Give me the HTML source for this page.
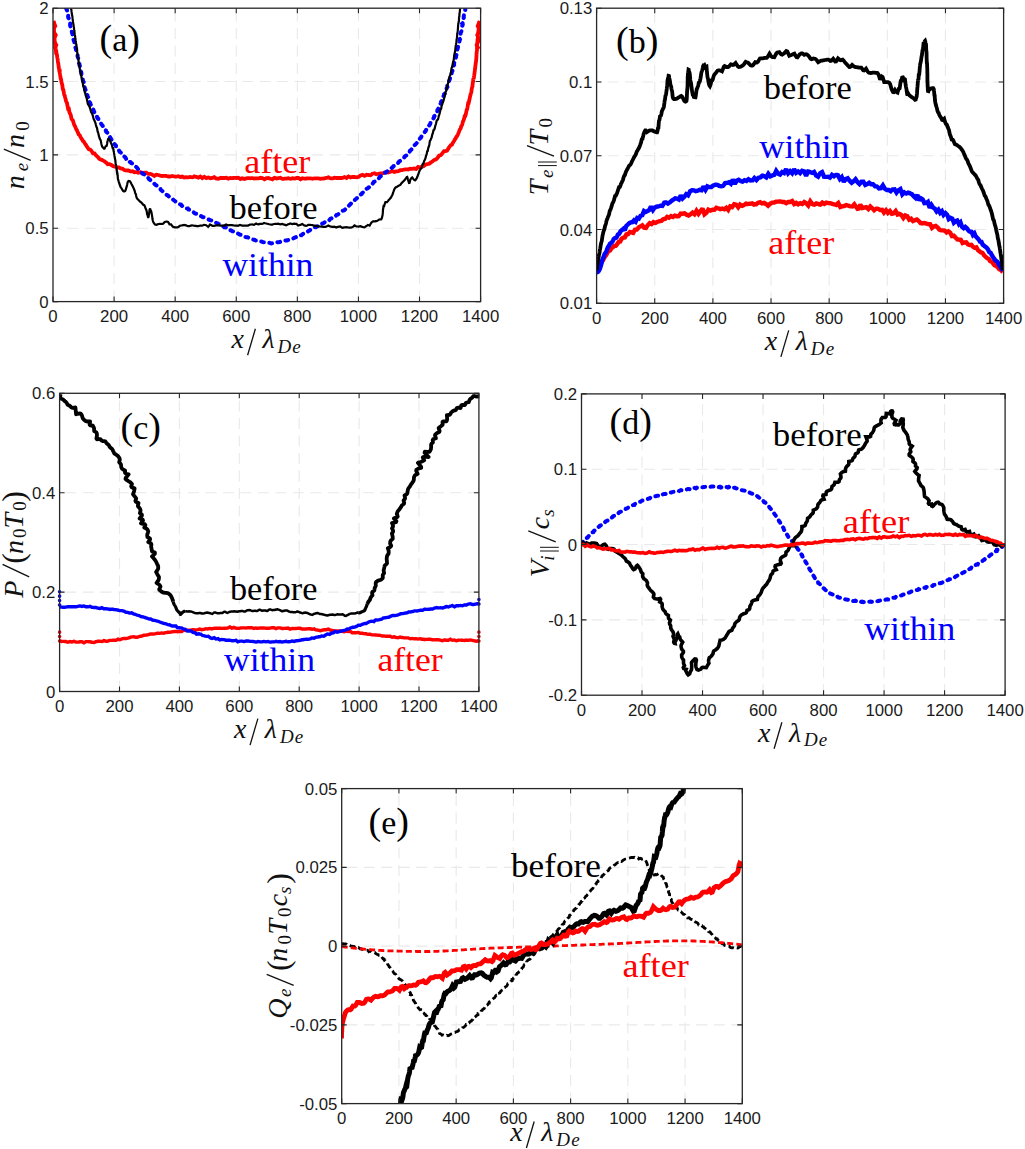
<!DOCTYPE html>
<html><head><meta charset="utf-8"><style>
html,body{margin:0;padding:0;background:#fff;}
body{width:1025px;height:1149px;overflow:hidden;}
svg{display:block;}
.tk{font-family:"Liberation Sans",sans-serif;font-size:16.8px;fill:#1a1a1a;}
.an{font-family:"Liberation Serif",serif;font-size:34px;}
.ax{font-family:"Liberation Serif",serif;font-size:27px;fill:#1a1a1a;}
.lab text{font-family:"Liberation Serif",serif;}
</style></head><body>
<svg width="1025" height="1149" viewBox="0 0 1025 1149">
<defs><clipPath id="clipa"><rect x="53.00" y="8.20" width="427.60" height="293.40"/></clipPath><clipPath id="clipb"><rect x="596.60" y="8.20" width="407.00" height="295.10"/></clipPath><clipPath id="clipc"><rect x="59.60" y="393.30" width="419.30" height="298.20"/></clipPath><clipPath id="clipd"><rect x="581.50" y="393.90" width="423.60" height="301.30"/></clipPath><clipPath id="clipe"><rect x="341.70" y="788.60" width="400.60" height="315.00"/></clipPath></defs>
<path d="M114.09 301.60V8.20M175.17 301.60V8.20M236.26 301.60V8.20M297.34 301.60V8.20M358.43 301.60V8.20M419.51 301.60V8.20M480.60 228.25H53.00M480.60 154.90H53.00M480.60 81.55H53.00" stroke="#e9e9e9" stroke-width="1.1" stroke-dasharray="11 6.5" fill="none"/>
<path d="M654.74 303.30V8.20M712.89 303.30V8.20M771.03 303.30V8.20M829.17 303.30V8.20M887.31 303.30V8.20M945.46 303.30V8.20M1003.60 229.53H596.60M1003.60 155.75H596.60M1003.60 81.97H596.60" stroke="#e9e9e9" stroke-width="1.1" stroke-dasharray="11 6.5" fill="none"/>
<path d="M119.50 691.50V393.30M179.40 691.50V393.30M239.30 691.50V393.30M299.20 691.50V393.30M359.10 691.50V393.30M419.00 691.50V393.30M478.90 592.10H59.60M478.90 492.70H59.60" stroke="#e9e9e9" stroke-width="1.1" stroke-dasharray="11 6.5" fill="none"/>
<path d="M642.01 695.20V393.90M702.53 695.20V393.90M763.04 695.20V393.90M823.56 695.20V393.90M884.07 695.20V393.90M944.59 695.20V393.90M1005.10 619.88H581.50M1005.10 544.55H581.50M1005.10 469.23H581.50" stroke="#e9e9e9" stroke-width="1.1" stroke-dasharray="11 6.5" fill="none"/>
<path d="M398.93 1103.60V788.60M456.16 1103.60V788.60M513.39 1103.60V788.60M570.61 1103.60V788.60M627.84 1103.60V788.60M685.07 1103.60V788.60M742.30 1024.85H341.70M742.30 946.10H341.70M742.30 867.35H341.70" stroke="#e9e9e9" stroke-width="1.1" stroke-dasharray="11 6.5" fill="none"/>
<g clip-path="url(#clipa)">
<path d="M53.6 21.0L53.6 22.2L53.6 23.4L53.6 24.0L53.7 24.7L53.7 25.3L53.7 26.0L53.8 27.2L53.8 28.5L53.9 29.2L54.0 29.9L54.0 31.5L54.1 33.1L54.2 34.8L54.2 36.5L54.3 36.5L54.4 36.5L54.4 37.4L54.5 38.3L54.6 39.9L54.7 41.6L54.8 42.5L54.9 43.4L55.0 44.2L55.2 45.1L55.3 45.5L55.4 46.0L55.6 47.5L55.7 48.9L55.9 50.3L56.0 51.7L56.2 51.6L56.3 51.6L56.5 53.0L56.7 54.4L56.8 54.7L57.0 55.0L57.1 56.3L57.3 57.6L57.5 58.4L57.7 59.1L57.8 60.9L58.0 62.6L58.2 63.1L58.3 63.6L58.5 65.3L58.7 67.0L58.8 67.9L59.0 68.9L59.2 69.7L59.3 70.6L59.5 70.6L59.7 70.6L59.8 72.4L60.0 74.2L60.2 75.4L60.4 76.6L60.5 77.6L60.7 78.7L60.9 79.0L61.1 79.4L61.3 80.8L61.5 82.2L61.7 82.9L61.9 83.7L62.2 84.8L62.4 85.8L62.6 87.5L62.8 89.2L63.1 89.5L63.3 89.7L63.5 91.0L63.8 92.3L64.0 93.6L64.3 94.9L64.5 95.3L64.8 95.8L65.0 96.9L65.3 98.0L65.6 99.1L65.8 100.1L66.1 101.1L66.4 102.0L66.7 102.5L67.0 103.0L67.2 104.5L67.5 105.9L67.8 107.3L68.1 108.7L68.5 108.6L68.8 108.6L69.1 110.4L69.4 112.1L69.7 112.8L70.0 113.5L70.4 114.2L70.7 114.9L71.1 116.7L71.4 118.5L71.7 119.0L72.1 119.6L72.5 119.9L72.8 120.2L73.2 121.6L73.6 122.9L74.0 124.0L74.3 125.0L74.7 125.7L75.1 126.4L75.6 127.6L76.0 128.7L76.4 129.4L76.9 130.1L77.3 131.2L77.8 132.3L78.2 133.4L78.7 134.5L79.2 134.8L79.7 135.2L80.2 136.3L80.7 137.4L81.2 138.1L81.7 138.8L82.3 139.8L82.8 140.8L83.3 141.3L83.9 141.8L84.5 142.7L85.1 143.7L85.7 144.6L86.3 145.5L86.9 146.5L87.5 147.5L88.1 148.3L88.8 149.2L89.5 149.3L90.1 149.4L90.9 150.3L91.6 151.1L92.3 152.2L93.0 153.3L93.8 153.3L94.5 153.3L95.3 154.4L96.1 155.4L96.9 156.2L97.7 156.9L98.5 157.8L99.2 158.8L100.1 159.2L100.9 159.6L101.7 159.9L102.5 160.2L103.3 160.7L104.2 161.2L105.1 161.8L105.9 162.3L106.8 163.2L107.7 164.2L108.6 164.1L109.5 164.1L110.4 164.6L111.4 165.0L112.3 165.6L113.2 166.2L114.1 166.4L115.1 166.6L116.0 167.0L116.9 167.3L117.9 167.3L118.8 167.4L119.8 168.0L120.7 168.5L121.7 168.7L122.7 168.9L123.6 169.5L124.6 170.2L125.6 170.3L126.6 170.4L127.5 170.5L128.5 170.5L129.5 170.9L130.5 171.3L131.5 171.3L132.5 171.2L133.5 171.8L134.5 172.3L135.4 172.2L136.4 172.2L137.4 172.5L138.4 172.8L139.4 172.5L140.4 172.2L141.3 172.8L142.3 173.3L143.3 173.0L144.3 172.6L145.3 172.7L146.3 172.7L147.3 173.3L148.3 173.9L149.3 173.9L150.3 173.9L151.3 174.3L152.3 174.7L153.3 175.3L154.3 176.0L155.3 175.3L156.3 174.7L157.2 174.8L158.2 175.0L159.2 175.3L160.2 175.6L161.2 175.8L162.2 176.0L163.2 175.9L164.2 175.8L165.2 175.9L166.2 175.9L167.2 176.2L168.2 176.5L169.2 176.5L170.2 176.6L171.2 176.2L172.2 175.9L173.2 176.2L174.2 176.5L175.2 176.6L176.2 176.7L177.2 176.5L178.2 176.2L179.2 176.6L180.2 177.0L181.2 176.8L182.2 176.5L183.2 177.0L184.2 177.5L185.2 177.4L186.2 177.2L187.2 177.3L188.2 177.3L189.2 177.1L190.2 177.0L191.2 177.2L192.3 177.3L193.3 176.9L194.3 176.4L195.3 176.7L196.3 176.9L197.3 177.3L198.3 177.7L199.3 177.1L200.3 176.5L201.3 177.3L202.3 178.1L203.3 177.5L204.3 176.8L205.3 177.5L206.3 178.1L207.3 177.7L208.3 177.4L209.3 177.8L210.3 178.2L211.3 178.1L212.3 177.9L213.3 177.5L214.3 177.1L215.3 177.9L216.3 178.6L217.3 178.6L218.3 178.7L219.3 178.4L220.3 178.0L221.3 178.0L222.3 177.9L223.3 178.0L224.3 178.0L225.3 177.8L226.3 177.7L227.3 178.2L228.3 178.7L229.3 178.3L230.3 177.9L231.3 178.1L232.3 178.2L233.3 178.0L234.3 177.9L235.3 177.9L236.3 178.0L237.3 177.8L238.3 177.7L239.3 178.3L240.3 179.0L241.3 178.6L242.3 178.3L243.3 178.6L244.4 178.9L245.4 178.6L246.4 178.4L247.4 178.2L248.4 178.1L249.4 178.2L250.4 178.3L251.4 178.2L252.4 178.2L253.4 178.3L254.4 178.5L255.4 178.4L256.4 178.3L257.4 178.3L258.4 178.3L259.4 178.1L260.4 177.8L261.4 178.0L262.4 178.1L263.4 178.7L264.4 179.3L265.4 178.8L266.4 178.2L267.4 178.1L268.4 178.0L269.4 178.4L270.4 178.7L271.4 179.0L272.4 179.3L273.4 178.5L274.4 177.8L275.4 178.1L276.4 178.5L277.4 178.4L278.4 178.2L279.4 178.0L280.4 177.7L281.4 178.3L282.4 178.9L283.4 178.8L284.4 178.6L285.4 178.6L286.4 178.6L287.4 178.4L288.4 178.2L289.4 178.5L290.4 178.8L291.4 178.6L292.5 178.3L293.5 178.4L294.5 178.5L295.5 178.3L296.5 178.0L297.5 178.0L298.5 178.0L299.5 178.6L300.5 179.3L301.5 178.8L302.5 178.3L303.5 178.5L304.5 178.7L305.5 178.6L306.5 178.5L307.5 178.4L308.5 178.3L309.5 178.3L310.5 178.3L311.5 178.5L312.5 178.8L313.5 178.5L314.5 178.3L315.5 178.3L316.5 178.3L317.5 178.3L318.5 178.4L319.5 178.6L320.5 178.9L321.5 178.7L322.5 178.6L323.5 178.5L324.5 178.4L325.5 178.1L326.5 177.8L327.5 177.6L328.5 177.3L329.5 177.9L330.5 178.4L331.5 178.4L332.5 178.4L333.5 178.1L334.5 177.7L335.5 177.9L336.5 178.0L337.5 178.0L338.5 178.0L339.5 178.0L340.5 178.0L341.5 178.0L342.5 177.9L343.5 177.5L344.5 177.1L345.5 177.6L346.5 178.0L347.5 177.2L348.5 176.5L349.5 176.9L350.5 177.4L351.5 177.2L352.5 177.0L353.5 177.0L354.5 177.0L355.5 177.2L356.5 177.3L357.5 177.1L358.5 176.9L359.5 176.2L360.5 175.4L361.5 175.2L362.5 174.9L363.5 175.4L364.5 175.9L365.5 175.4L366.5 174.8L367.5 174.9L368.5 175.0L369.5 175.1L370.5 175.2L371.5 174.5L372.5 173.7L373.5 173.5L374.5 173.3L375.4 173.7L376.4 174.2L377.4 174.0L378.4 173.8L379.4 173.6L380.4 173.4L381.4 173.4L382.4 173.3L383.4 173.0L384.4 172.6L385.4 172.3L386.4 172.1L387.4 172.3L388.4 172.5L389.4 172.1L390.4 171.8L391.3 171.5L392.3 171.1L393.3 171.5L394.3 171.9L395.3 171.6L396.3 171.3L397.3 171.3L398.3 171.2L399.3 170.7L400.3 170.2L401.2 170.1L402.2 170.1L403.2 169.8L404.2 169.5L405.2 169.4L406.2 169.3L407.2 169.4L408.2 169.5L409.2 169.1L410.2 168.7L411.2 168.8L412.2 168.9L413.2 168.7L414.2 168.5L415.2 168.8L416.2 169.0L417.2 167.9L418.2 166.9L419.1 167.2L420.1 167.5L421.0 167.0L422.0 166.5L422.9 166.3L423.8 166.0L424.7 165.3L425.6 164.6L426.5 164.4L427.4 164.2L428.3 164.0L429.2 163.8L430.1 163.1L430.9 162.3L431.8 161.8L432.6 161.3L433.5 160.6L434.3 159.9L435.1 159.7L435.9 159.5L436.8 158.6L437.6 157.8L438.4 156.6L439.2 155.5L440.0 155.3L440.9 155.0L441.7 154.1L442.5 153.1L443.2 152.1L444.0 151.2L444.8 151.2L445.5 151.2L446.2 151.0L447.0 150.7L447.6 149.7L448.3 148.7L448.9 147.6L449.6 146.6L450.2 145.9L450.8 145.1L451.4 144.9L452.0 144.6L452.5 143.5L453.1 142.4L453.7 141.5L454.2 140.7L454.7 139.8L455.3 138.9L455.8 138.0L456.3 137.1L456.8 136.4L457.2 135.7L457.7 134.8L458.2 133.8L458.6 132.8L459.0 131.9L459.4 130.6L459.9 129.4L460.3 128.9L460.6 128.4L461.0 127.1L461.4 125.9L461.8 125.4L462.1 125.0L462.5 123.4L462.8 121.8L463.1 121.1L463.5 120.5L463.8 119.6L464.1 118.7L464.4 117.3L464.7 116.0L465.0 115.9L465.3 115.9L465.6 114.9L465.9 113.8L466.2 112.3L466.5 110.7L466.7 110.1L467.0 109.6L467.3 108.5L467.5 107.4L467.8 105.5L468.1 103.5L468.3 103.5L468.6 103.4L468.8 102.4L469.1 101.3L469.3 100.4L469.5 99.4L469.8 98.0L470.0 96.7L470.2 96.0L470.4 95.3L470.6 94.3L470.9 93.4L471.1 92.9L471.3 92.4L471.5 91.1L471.6 89.8L471.8 88.7L472.0 87.6L472.2 87.2L472.4 86.8L472.6 85.0L472.7 83.2L472.9 82.3L473.1 81.4L473.2 79.9L473.4 78.3L473.6 78.6L473.7 78.9L473.9 77.7L474.0 76.5L474.2 75.5L474.3 74.5L474.5 73.4L474.6 72.3L474.8 71.1L474.9 69.9L475.0 68.9L475.2 68.0L475.3 66.8L475.4 65.6L475.6 64.6L475.7 63.7L475.8 62.8L475.9 61.9L476.0 61.5L476.1 61.2L476.2 59.8L476.3 58.4L476.4 57.1L476.5 55.8L476.5 54.6L476.6 53.3L476.7 52.3L476.8 51.3L476.8 51.3L476.9 51.4L477.0 49.9L477.0 48.3L477.1 47.1L477.2 45.9L477.2 44.7L477.3 43.5L477.4 42.1L477.5 40.7L477.5 40.2L477.6 39.8L477.7 39.2L477.8 38.7L477.9 37.1L477.9 35.4L478.0 34.5L478.1 33.6L478.2 32.6L478.3 31.6L478.4 30.8L478.6 30.0L478.7 28.1L478.8 26.1L478.9 25.9L479.1 25.7L479.3 24.3L479.5 23.0L479.8 23.0L480.0 23.1" fill="none" stroke="#ff0000" stroke-width="3.80" stroke-linejoin="miter" stroke-miterlimit="2" stroke-linecap="butt"/>
<path d="M53.5 21L55.5 26L53 30L56 35L53.5 40L56.5 45L54 49" fill="none" stroke="#ff0000" stroke-width="3.4"/>
<path d="M479.5 21L477.5 26L480 30L477 35L479.5 40L476.5 45L479 49" fill="none" stroke="#ff0000" stroke-width="3.4"/>
<path d="M63.9 0.0L64.0 1.0L64.6 1.9L64.9 2.9L65.0 3.9L65.4 4.8L65.8 5.7L65.8 6.8L65.7 7.8L66.4 8.7L66.7 9.7L67.1 10.6L67.1 11.6L67.6 12.5L67.8 13.5L67.6 14.6L68.2 15.5L68.1 16.5L68.2 17.5L68.7 18.4L68.9 19.4L68.9 20.5L69.5 21.3L69.8 22.3L70.2 23.2L70.1 24.3L70.1 25.3L70.4 26.3L71.0 27.2L71.2 28.1L71.4 29.1L71.4 30.1L71.7 31.1L71.9 32.1L72.1 33.1L72.4 34.0L72.6 35.0L72.8 36.0L73.0 37.0L73.1 38.0L73.1 39.0L73.6 39.9L73.9 40.9L74.5 41.8L74.3 42.8L75.0 43.7L75.1 44.7L74.9 45.8L75.1 46.8L75.5 47.7L76.1 48.6L76.0 49.6L76.3 50.6L76.3 51.6L76.2 52.7L76.8 53.6L77.3 54.5L77.6 55.4L77.6 56.5L77.9 57.4L78.3 58.4L78.3 59.4L78.7 60.3L78.5 61.4L78.8 62.4L79.0 63.4L79.5 64.3L79.5 65.3L79.9 66.3L80.1 67.3L80.4 68.3L80.8 69.2L81.0 70.2L80.8 71.3L81.2 72.2L81.4 73.2L81.4 74.2L82.2 75.1L82.2 76.1L82.3 77.2L82.5 78.2L82.8 79.1L82.8 80.1L83.2 81.1L83.7 82.0L83.9 83.0L83.8 84.0L84.1 85.0L84.8 85.8L84.5 87.0L84.9 87.9L85.0 88.9L85.6 89.8L85.9 90.7L86.3 91.6L85.9 92.8L86.7 93.6L86.6 94.6L87.4 95.4L87.5 96.4L88.2 97.2L88.3 98.2L88.3 99.3L89.1 100.0L89.0 101.1L89.5 102.0L90.1 102.8L90.4 103.7L90.8 104.6L91.1 105.6L91.6 106.4L92.1 107.3L92.4 108.2L93.0 109.1L93.5 109.9L93.7 110.9L94.0 111.9L94.9 112.6L95.1 113.6L95.7 114.4L96.3 115.2L96.5 116.3L97.2 117.0L97.4 118.1L98.3 118.8L98.6 119.7L99.3 120.5L99.9 121.3L100.2 122.4L100.9 123.1L101.3 124.1L101.9 124.9L102.6 125.6L103.0 126.6L103.5 127.4L103.9 128.4L104.8 129.0L105.2 130.0L106.0 130.6L106.2 131.7L107.0 132.4L107.7 133.2L107.9 134.2L108.3 135.2L109.3 135.7L109.7 136.6L110.2 137.5L110.8 138.3L111.1 139.3L111.9 140.0L112.4 140.9L112.7 141.9L113.5 142.5L113.9 143.5L114.7 144.2L115.3 145.0L116.0 145.8L115.9 147.0L116.9 147.6L117.4 148.5L118.0 149.2L118.6 150.1L119.2 150.8L119.6 151.8L120.6 152.3L121.3 153.0L121.9 153.8L122.6 154.5L122.9 155.5L123.6 156.3L124.5 156.7L125.3 157.4L125.8 158.2L126.3 159.2L127.6 159.2L127.9 160.4L128.9 160.8L129.3 161.8L130.4 162.1L131.0 162.9L132.0 163.4L132.7 164.1L133.1 165.1L134.0 165.7L134.9 166.2L135.7 166.7L136.6 167.2L137.2 168.1L137.9 168.9L138.6 169.5L139.4 170.2L140.2 170.7L140.8 171.5L141.6 172.2L142.1 173.1L142.8 173.8L143.8 174.2L144.7 174.8L145.3 175.6L146.1 176.2L146.9 176.8L147.5 177.6L148.4 178.1L148.9 179.0L149.8 179.6L150.5 180.3L151.3 180.9L152.1 181.5L152.9 182.2L153.5 182.9L154.3 183.6L154.9 184.4L155.7 185.0L156.6 185.5L157.2 186.4L158.1 186.9L158.7 187.6L159.4 188.4L160.4 188.8L160.8 189.8L161.6 190.5L162.4 191.1L163.2 191.7L163.9 192.4L164.7 192.9L165.4 193.7L166.2 194.3L166.9 195.0L167.9 195.4L168.5 196.2L169.3 196.8L170.1 197.4L170.9 197.9L171.6 198.7L172.7 198.9L173.3 199.9L174.1 200.4L174.9 201.0L175.7 201.6L176.7 202.0L177.5 202.6L178.2 203.3L179.1 203.8L179.9 204.3L181.0 204.6L181.6 205.5L182.4 206.1L183.2 206.6L184.2 207.0L185.2 207.2L185.8 208.1L186.8 208.5L187.9 208.5L188.5 209.5L189.5 209.7L190.4 210.2L191.2 210.8L191.9 211.7L192.9 211.9L193.8 212.4L194.5 213.2L195.4 213.6L196.5 213.8L197.4 214.2L198.3 214.5L199.2 215.0L200.0 215.7L200.9 216.1L201.8 216.5L202.6 217.1L203.7 217.2L204.6 217.7L205.4 218.3L206.3 218.6L207.2 219.1L208.2 219.4L209.2 219.7L210.0 220.2L211.1 220.4L212.0 220.7L212.8 221.5L213.7 221.8L214.6 222.3L215.7 222.4L216.4 223.0L217.4 223.4L218.3 223.8L219.3 224.0L220.0 224.8L220.8 225.5L221.8 225.9L222.7 226.1L223.6 226.7L224.4 227.3L225.6 227.1L226.3 228.0L227.1 228.6L228.0 229.1L228.8 229.7L229.8 230.0L230.7 230.3L231.6 230.8L232.5 231.3L233.5 231.5L234.4 232.0L235.2 232.6L236.1 233.2L237.1 233.2L238.0 233.6L238.9 234.0L239.8 234.6L240.8 234.8L241.6 235.4L242.7 235.4L243.6 235.9L244.5 236.3L245.4 236.9L246.3 237.3L247.4 237.2L248.3 237.7L249.2 238.2L250.2 238.4L251.2 238.6L252.0 239.3L253.0 239.5L253.9 239.8L254.9 239.9L255.8 240.4L256.8 240.4L257.8 240.9L258.8 240.8L259.8 241.1L260.7 241.5L261.8 241.6L262.7 242.1L263.7 242.2L264.7 242.2L265.7 242.6L266.7 242.6L267.7 243.0L268.7 242.8L269.7 242.9L270.6 243.2L271.6 243.4L272.6 243.3L273.6 242.9L274.6 242.8L275.7 243.0L276.6 242.5L277.6 242.2L278.6 242.2L279.6 242.1L280.6 241.6L281.5 241.2L282.5 241.1L283.6 241.2L284.5 240.7L285.5 240.6L286.5 240.5L287.5 240.3L288.4 239.9L289.3 239.8L290.2 239.2L291.2 239.0L292.1 238.6L293.1 238.6L294.0 238.0L294.9 237.5L295.8 237.2L296.7 236.8L297.7 236.6L298.4 235.8L299.4 235.4L300.4 235.1L301.5 235.2L302.3 234.4L303.1 233.8L304.1 233.4L305.1 233.2L305.8 232.3L306.7 231.8L307.7 231.6L308.5 231.0L309.5 230.5L310.2 229.9L311.4 229.8L312.2 229.3L313.0 228.6L313.9 228.2L314.5 227.3L315.7 227.3L316.5 226.7L317.4 226.3L318.4 225.9L319.2 225.3L319.9 224.6L321.0 224.5L321.8 223.8L322.7 223.4L323.6 222.9L324.5 222.4L325.2 221.6L326.4 221.7L327.2 221.1L328.2 220.7L329.1 220.4L329.8 219.5L330.5 218.7L331.4 218.4L332.3 217.8L333.2 217.4L334.1 217.0L334.7 216.1L335.8 215.9L336.4 215.1L337.5 214.8L338.2 214.2L339.0 213.6L339.9 213.1L340.6 212.4L341.4 211.8L342.0 211.0L343.0 210.7L344.0 210.4L344.8 209.7L345.5 209.0L346.2 208.3L346.7 207.4L347.8 207.0L348.3 206.1L349.1 205.5L349.8 204.7L350.5 204.1L351.2 203.3L352.0 202.7L352.6 201.8L353.4 201.3L354.5 200.9L354.9 199.9L355.6 199.2L356.4 198.6L357.2 197.9L357.7 197.0L358.5 196.4L359.4 195.9L360.1 195.1L360.8 194.4L361.7 194.0L362.2 193.0L363.0 192.4L363.7 191.6L364.7 191.3L365.0 190.1L365.9 189.6L366.6 188.9L367.5 188.4L368.3 187.7L369.1 187.2L369.5 186.1L370.5 185.7L371.1 184.9L371.8 184.2L372.7 183.7L373.2 182.8L373.8 181.9L374.8 181.5L375.4 180.7L376.3 180.1L377.1 179.6L377.9 179.0L378.8 178.5L379.3 177.6L379.9 176.7L380.8 176.2L381.5 175.5L382.2 174.8L383.2 174.4L383.9 173.6L384.5 172.8L385.6 172.6L386.3 171.9L387.2 171.3L387.9 170.7L388.8 170.1L389.6 169.4L390.5 169.0L391.2 168.3L392.0 167.7L392.8 167.1L393.4 166.2L394.4 165.8L395.1 165.2L396.0 164.6L396.6 163.8L397.7 163.6L398.3 162.7L398.9 161.9L399.6 161.2L400.5 160.7L401.3 160.1L401.9 159.3L402.8 158.8L403.4 158.0L404.2 157.4L404.7 156.6L405.5 155.9L406.4 155.4L407.3 154.8L407.4 153.6L408.2 153.0L408.8 152.2L409.7 151.6L410.1 150.6L410.9 150.0L411.6 149.3L412.1 148.4L412.7 147.6L413.5 146.9L413.8 145.9L414.6 145.2L415.4 144.5L416.1 143.8L416.7 143.0L417.0 142.0L417.9 141.4L418.7 140.7L419.2 139.9L419.7 139.0L420.2 138.1L421.0 137.5L421.4 136.5L421.9 135.6L422.6 134.9L423.5 134.3L423.9 133.4L424.6 132.6L424.9 131.6L425.7 131.0L426.0 130.0L426.7 129.2L427.7 128.6L427.9 127.6L428.2 126.6L428.9 125.8L429.5 125.0L430.1 124.2L430.4 123.2L430.7 122.2L431.4 121.5L432.0 120.7L432.5 119.8L433.2 119.0L433.5 118.1L434.1 117.2L434.2 116.2L435.0 115.5L435.7 114.7L435.9 113.7L436.3 112.8L436.7 111.9L437.4 111.1L437.4 110.0L438.0 109.1L438.5 108.3L439.0 107.4L439.2 106.4L439.7 105.5L440.0 104.6L440.5 103.7L440.9 102.7L441.1 101.7L441.7 100.9L442.3 100.0L442.3 99.0L442.8 98.1L443.4 97.2L443.4 96.2L444.0 95.3L444.1 94.3L444.9 93.6L445.5 92.7L445.8 91.7L445.7 90.7L446.2 89.8L446.5 88.8L446.8 87.9L447.4 87.0L447.2 85.9L448.0 85.1L448.1 84.1L448.7 83.2L448.8 82.2L449.0 81.2L449.4 80.3L449.8 79.3L450.0 78.3L450.4 77.4L450.5 76.4L450.5 75.3L451.4 74.6L451.6 73.6L451.8 72.6L452.0 71.6L452.5 70.7L452.5 69.7L452.7 68.7L453.1 67.8L453.6 66.9L453.4 65.8L454.1 64.9L454.0 63.9L454.1 62.9L454.8 62.0L454.8 61.0L454.8 60.0L455.2 59.0L455.7 58.1L456.0 57.1L455.9 56.1L456.3 55.2L456.6 54.2L456.5 53.1L457.0 52.2L457.1 51.2L457.2 50.2L457.4 49.2L457.7 48.3L458.0 47.3L458.0 46.3L458.3 45.3L458.8 44.4L458.8 43.4L459.1 42.4L459.4 41.5L459.5 40.5L460.0 39.5L459.6 38.4L460.1 37.5L460.1 36.5L460.7 35.6L460.9 34.6L460.4 33.5L460.8 32.5L461.3 31.6L461.5 30.6L461.7 29.7L461.7 28.6L462.0 27.7L462.2 26.7L462.3 25.7L462.7 24.8L462.2 23.6L463.0 22.8L462.8 21.7L463.4 20.8L463.3 19.8L463.4 18.8L463.8 17.8L463.7 16.8L463.9 15.8L463.9 14.8L464.4 13.9L464.7 12.9L464.9 11.9L464.9 10.9L465.3 9.9L465.2 8.9L465.4 7.9L465.6 7.0L465.9 6.0L465.7 5.0L465.9 4.0L466.1 3.0L466.2 2.0L466.2 1.0L466.7 0.0" fill="none" stroke="#0000ff" stroke-width="4.00" stroke-linejoin="miter" stroke-miterlimit="2" stroke-linecap="round" stroke-dasharray="2.8 5.6"/>
<path d="M70.0 -0.4L70.1 0.9L70.3 2.1L70.4 3.1L70.6 4.1L70.7 5.0L70.8 5.8L71.0 7.3L71.1 8.9L71.3 9.5L71.4 10.1L71.5 11.4L71.7 12.7L71.8 13.5L71.9 14.3L72.1 15.0L72.2 15.6L72.4 16.6L72.5 17.7L72.6 18.9L72.8 20.0L72.9 21.0L73.0 21.9L73.2 22.8L73.3 23.8L73.4 24.8L73.6 25.7L73.7 26.3L73.9 27.0L74.0 28.3L74.1 29.7L74.3 30.2L74.4 30.7L74.5 32.3L74.7 33.9L74.8 34.7L75.0 35.4L75.1 36.4L75.2 37.4L75.4 38.5L75.5 39.6L75.6 40.7L75.8 41.8L75.9 42.4L76.0 43.0L76.2 43.9L76.3 44.8L76.5 46.0L76.6 47.1L76.7 47.9L76.9 48.7L77.0 49.9L77.1 51.2L77.3 52.8L77.4 54.3L77.6 54.7L77.7 55.1L77.9 56.5L78.0 57.9L78.2 58.4L78.3 58.9L78.5 60.3L78.6 61.7L78.8 62.5L78.9 63.3L79.1 64.4L79.3 65.4L79.5 66.6L79.6 67.7L79.8 69.0L80.0 70.3L80.2 70.9L80.4 71.5L80.5 72.4L80.7 73.4L80.9 74.1L81.1 74.9L81.3 76.2L81.5 77.6L81.7 78.4L81.9 79.1L82.1 80.4L82.3 81.6L82.5 82.4L82.8 83.1L83.0 84.6L83.2 86.0L83.4 86.0L83.6 86.1L83.9 87.5L84.1 88.9L84.3 90.2L84.6 91.4L84.8 92.1L85.1 92.8L85.3 93.6L85.6 94.5L85.8 95.6L86.1 96.7L86.4 97.4L86.6 98.0L86.9 99.4L87.2 100.7L87.5 102.2L87.8 103.8L88.1 104.4L88.5 105.0L88.8 105.4L89.1 105.8L89.5 106.8L89.9 107.7L90.2 108.8L90.6 109.9L90.9 111.2L91.3 112.5L91.7 112.9L92.0 113.4L92.4 114.4L92.7 115.3L93.1 116.7L93.4 118.0L93.7 119.0L94.1 119.9L94.4 120.6L94.7 121.2L95.0 121.9L95.3 122.7L95.6 123.5L95.8 124.4L96.1 125.6L96.4 126.8L96.7 127.3L97.0 127.9L97.3 129.6L97.6 131.4L97.8 132.0L98.1 132.6L98.4 133.8L98.7 135.1L99.0 136.4L99.4 137.7L99.7 138.5L100.0 139.3L100.3 139.7L100.7 140.3L101.0 142.1L101.4 143.9L101.7 145.1L102.1 146.4L102.4 146.9L102.8 147.2L103.2 147.9L103.6 148.3L104.0 148.7L104.5 148.7L105.0 147.7L105.6 146.3L106.2 146.1L106.7 145.8L107.1 143.7L107.4 141.5L107.7 140.6L107.9 139.8L108.1 139.0L108.4 138.7L108.7 138.7L109.1 139.1L109.5 139.8L110.0 140.8L110.5 141.8L111.0 143.0L111.5 144.0L111.9 145.1L112.3 146.7L112.7 148.2L113.0 148.2L113.2 148.2L113.4 149.8L113.7 151.4L113.9 152.1L114.0 152.9L114.2 154.2L114.4 155.4L114.6 156.4L114.7 157.4L114.9 158.1L115.0 158.8L115.2 159.8L115.4 160.9L115.5 162.3L115.7 163.7L115.9 164.6L116.1 165.5L116.2 166.2L116.4 166.9L116.6 168.7L116.7 170.5L116.9 171.6L117.0 172.7L117.2 172.6L117.3 172.6L117.5 174.1L117.6 175.7L117.8 177.3L117.9 179.0L118.1 179.5L118.3 180.0L118.5 180.8L118.7 181.6L119.0 182.4L119.2 183.2L119.5 184.0L119.8 184.8L120.1 185.7L120.4 186.7L121.0 187.6L121.7 188.5L122.4 189.9L123.2 191.1L123.9 191.3L124.5 191.3L125.0 191.1L125.4 190.6L125.8 189.5L126.2 188.1L126.5 187.2L126.8 186.1L127.2 184.5L127.5 182.9L127.8 182.0L128.2 181.3L128.6 181.0L129.0 181.1L129.4 181.1L130.0 181.4L130.5 182.2L131.1 183.2L131.6 184.2L132.2 185.3L132.7 186.4L133.2 187.3L133.6 188.2L134.0 189.1L134.3 190.0L134.7 190.9L135.0 192.2L135.3 193.5L135.6 193.9L135.9 194.3L136.2 196.0L136.6 197.7L136.9 198.2L137.3 198.7L137.8 199.3L138.3 199.8L139.0 200.6L139.8 201.4L140.6 202.0L141.4 202.6L142.2 203.5L143.0 204.5L143.8 204.9L144.4 205.3L145.0 206.7L145.4 208.1L145.7 208.6L146.0 209.2L146.3 210.0L146.6 210.8L146.9 212.5L147.1 214.2L147.4 214.8L147.6 215.2L147.8 216.3L148.1 217.1L148.4 217.1L148.6 216.6L148.8 215.3L149.1 213.7L149.3 211.7L149.6 209.8L149.8 209.0L150.1 208.6L150.4 209.4L150.6 210.5L150.9 210.7L151.1 211.1L151.4 212.1L151.6 213.3L151.9 214.9L152.2 216.6L152.4 218.5L152.7 220.3L153.1 221.3L153.4 222.2L153.8 222.9L154.2 223.4L154.6 224.1L155.1 224.6L155.6 224.7L156.4 224.8L157.4 224.4L158.6 224.0L159.7 223.9L160.8 223.8L161.8 224.0L162.7 224.0L163.6 223.1L164.5 222.2L165.4 221.8L166.3 221.6L167.1 221.5L168.0 221.8L168.7 222.9L169.5 224.4L170.3 224.3L171.0 224.3L171.8 225.4L172.5 226.4L173.3 226.9L174.2 227.2L175.1 227.3L176.0 227.4L177.0 227.3L178.0 227.2L179.0 226.5L180.0 225.8L181.0 225.5L182.0 225.4L183.0 225.2L184.0 224.9L185.0 225.1L186.0 225.3L187.0 225.8L188.0 226.2L189.0 226.1L190.0 225.9L191.0 225.6L192.0 225.3L193.0 225.5L194.0 225.7L195.0 225.8L196.0 225.9L197.0 226.1L198.0 226.2L199.1 225.9L200.1 225.5L201.1 225.6L202.1 225.7L203.1 225.3L204.1 224.8L205.1 225.0L206.1 225.2L207.1 226.0L208.1 226.8L209.1 225.7L210.1 224.5L211.1 225.1L212.1 225.6L213.1 225.8L214.1 225.9L215.1 225.7L216.1 225.5L217.1 225.4L218.1 225.2L219.1 225.4L220.1 225.7L221.1 225.6L222.1 225.6L223.1 225.6L224.1 225.6L225.1 225.0L226.1 224.4L227.1 224.9L228.1 225.4L229.1 225.2L230.1 225.0L231.1 225.1L232.1 225.1L233.1 225.3L234.1 225.5L235.1 225.6L236.1 225.7L237.1 225.7L238.1 225.8L239.1 225.3L240.1 224.9L241.1 225.2L242.1 225.6L243.1 225.6L244.1 225.7L245.1 225.6L246.1 225.5L247.1 225.6L248.1 225.6L249.1 225.1L250.1 224.6L251.1 224.5L252.1 224.4L253.1 224.7L254.1 224.9L255.1 224.2L256.1 223.5L257.1 224.0L258.1 224.4L259.1 224.1L260.1 223.9L261.1 223.9L262.1 223.9L263.1 223.5L264.1 223.0L265.1 223.3L266.2 223.5L267.2 223.7L268.2 224.0L269.2 224.3L270.2 224.5L271.2 224.6L272.2 224.6L273.2 224.3L274.2 224.0L275.2 223.9L276.2 223.9L277.2 223.8L278.2 223.6L279.2 224.0L280.2 224.4L281.2 224.2L282.2 224.0L283.2 224.3L284.2 224.6L285.2 224.9L286.2 225.3L287.2 224.8L288.2 224.3L289.2 223.9L290.2 223.5L291.2 223.7L292.2 224.0L293.2 223.8L294.2 223.7L295.2 223.8L296.2 223.9L297.2 224.7L298.2 225.5L299.2 225.2L300.2 224.9L301.2 224.4L302.2 224.0L303.2 224.7L304.2 225.4L305.2 225.6L306.2 225.8L307.2 225.4L308.2 224.9L309.2 224.9L310.2 224.8L311.2 225.0L312.2 225.1L313.2 225.4L314.2 225.6L315.2 225.7L316.2 225.9L317.2 226.1L318.2 226.3L319.2 226.4L320.2 226.5L321.2 226.6L322.2 226.7L323.2 226.8L324.2 226.9L325.2 226.8L326.2 226.7L327.2 226.1L328.2 225.5L329.2 226.0L330.2 226.5L331.2 226.7L332.2 226.9L333.2 226.8L334.2 226.6L335.2 227.0L336.2 227.5L337.2 227.1L338.2 226.8L339.2 226.6L340.2 226.4L341.2 227.2L342.2 227.9L343.2 227.6L344.3 227.4L345.3 227.3L346.3 227.1L347.3 227.3L348.4 227.5L349.4 227.6L350.4 227.6L351.5 227.4L352.5 227.1L353.5 226.3L354.5 225.4L355.5 226.0L356.6 226.5L357.6 226.5L358.5 226.6L359.5 226.4L360.5 226.2L361.5 226.6L362.4 226.9L363.4 227.2L364.3 227.4L365.2 226.9L366.1 226.2L367.0 225.7L367.9 225.0L368.7 225.3L369.6 225.6L370.4 224.2L371.3 222.8L372.1 222.0L373.0 221.3L374.0 221.3L375.0 221.4L376.1 221.1L377.3 220.8L378.4 220.1L379.4 219.4L380.3 219.5L381.1 219.5L381.6 218.7L381.9 217.7L382.2 216.9L382.3 216.0L382.5 215.4L382.6 214.7L382.7 213.8L382.8 212.9L382.9 211.3L383.0 209.7L383.1 208.9L383.3 208.1L383.4 206.9L383.6 205.8L383.8 205.7L384.2 205.8L384.7 204.0L385.4 202.2L386.1 202.2L387.0 202.2L387.9 201.1L388.7 200.0L389.5 199.2L390.1 198.4L390.6 197.9L391.1 197.3L391.5 196.4L392.0 195.5L392.4 194.7L392.8 193.8L393.1 192.6L393.6 191.4L394.0 190.2L394.5 189.0L395.0 188.2L395.5 187.5L396.2 187.1L397.0 186.8L397.8 186.2L398.6 185.7L399.5 185.3L400.3 184.9L401.0 183.9L401.8 182.8L402.6 182.1L403.4 181.3L404.1 180.6L404.9 179.9L405.5 178.8L406.2 177.9L406.7 177.2L407.2 177.0L407.6 178.1L407.9 179.5L408.3 180.7L408.6 181.7L409.0 183.0L409.4 183.6L409.8 181.9L410.2 180.0L410.6 179.2L411.1 178.7L411.6 177.7L412.2 177.4L412.9 178.3L413.8 179.6L414.6 180.2L415.3 180.3L415.8 179.7L416.3 178.9L416.8 178.1L417.2 177.0L417.6 176.0L418.0 174.9L418.4 173.8L418.9 172.7L419.3 171.4L419.7 170.3L420.2 169.6L420.7 168.8L421.2 168.4L421.6 168.0L422.1 166.2L422.5 164.3L423.0 163.9L423.4 163.6L423.7 162.4L424.1 161.1L424.4 160.5L424.8 159.9L425.1 159.1L425.4 158.4L425.7 157.2L426.0 155.9L426.3 155.2L426.6 154.5L426.9 152.9L427.2 151.2L427.5 151.0L427.8 150.9L428.0 149.4L428.3 147.9L428.6 147.3L428.8 146.7L429.1 145.6L429.4 144.5L429.6 142.7L429.9 140.9L430.2 140.5L430.5 140.1L430.8 139.4L431.0 138.7L431.3 138.2L431.6 137.6L431.9 136.3L432.2 134.9L432.5 134.0L432.9 133.0L433.2 131.6L433.5 130.1L433.8 130.0L434.1 129.9L434.5 129.1L434.8 128.2L435.1 126.8L435.4 125.3L435.8 124.3L436.1 123.2L436.4 121.9L436.7 120.5L437.1 120.3L437.4 120.1L437.7 119.7L438.0 119.3L438.4 117.8L438.7 116.2L439.0 115.4L439.3 114.6L439.6 113.5L439.9 112.3L440.2 110.9L440.5 109.5L440.8 109.2L441.1 108.9L441.4 107.2L441.7 105.5L442.0 104.8L442.3 104.2L442.5 103.4L442.8 102.6L443.1 101.8L443.4 101.0L443.7 99.9L444.0 98.8L444.3 97.8L444.5 96.9L444.8 95.5L445.1 94.2L445.4 93.1L445.6 92.0L445.9 91.4L446.2 90.9L446.4 89.7L446.7 88.5L447.0 87.3L447.2 86.2L447.5 85.2L447.7 84.3L448.0 83.5L448.2 82.8L448.4 81.4L448.7 80.0L448.9 79.2L449.2 78.4L449.4 77.3L449.6 76.3L449.9 75.8L450.1 75.4L450.3 74.5L450.6 73.6L450.8 73.1L451.0 72.6L451.3 70.6L451.5 68.5L451.7 67.8L451.9 67.1L452.2 66.6L452.4 66.1L452.6 64.7L452.8 63.4L453.0 62.4L453.2 61.4L453.4 61.0L453.6 60.7L453.8 59.1L454.0 57.5L454.1 56.2L454.3 55.0L454.5 54.0L454.7 52.9L454.8 52.4L455.0 52.0L455.1 51.0L455.3 50.0L455.4 48.5L455.6 47.0L455.7 46.1L455.8 45.2L456.0 44.7L456.1 44.2L456.2 43.2L456.4 42.2L456.5 40.8L456.6 39.5L456.7 38.9L456.9 38.2L457.0 37.2L457.1 36.2L457.2 34.5L457.3 32.8L457.5 32.3L457.6 31.7L457.7 30.9L457.8 30.2L457.9 28.9L458.0 27.6L458.1 26.1L458.2 24.6L458.3 24.2L458.4 23.8L458.5 23.1L458.6 22.4L458.8 21.6L458.9 20.9L459.0 18.8L459.1 16.6L459.2 17.1L459.3 17.5L459.4 15.4L459.5 13.3L459.6 12.9L459.7 12.5L459.8 11.6L459.9 10.7L460.0 9.6L460.1 8.6L460.3 7.3L460.4 6.1L460.5 4.7L460.6 3.3L460.7 2.8L460.8 2.4L460.9 1.0L461.0 -0.4" fill="none" stroke="#000000" stroke-width="2.20" stroke-linejoin="miter" stroke-miterlimit="2" stroke-linecap="butt"/>
</g>
<g clip-path="url(#clipb)">
<path d="M596.2 270.9L596.7 269.6L597.1 268.4L597.6 267.7L598.1 267.1L598.6 265.8L599.2 264.4L599.7 264.0L600.3 263.6L600.9 262.9L601.5 262.1L602.1 261.4L602.8 260.6L603.4 259.5L604.0 258.3L604.6 257.2L605.2 256.1L605.8 255.5L606.3 255.0L606.9 253.7L607.5 252.3L608.2 251.6L608.8 251.0L609.4 250.7L610.1 250.4L610.8 249.4L611.4 248.3L612.1 247.8L612.8 247.3L613.6 246.6L614.3 246.0L615.0 245.9L615.7 245.9L616.5 245.0L617.2 244.1L617.9 243.0L618.7 241.9L619.4 241.7L620.2 241.5L620.9 240.1L621.7 238.6L622.5 238.1L623.3 237.7L624.0 237.5L624.8 237.4L625.6 235.9L626.4 234.4L627.2 234.2L628.1 234.1L628.9 233.1L629.8 232.1L630.6 232.2L631.5 232.4L632.3 232.6L633.2 232.9L634.1 231.2L635.0 229.6L635.9 229.6L636.8 229.6L637.7 228.6L638.6 227.5L639.5 226.9L640.4 226.4L641.4 225.9L642.3 225.4L643.2 226.5L644.1 227.6L645.1 227.7L646.0 227.8L646.9 226.4L647.8 225.1L648.8 224.1L649.7 223.1L650.7 223.5L651.6 224.0L652.6 223.1L653.5 222.2L654.5 222.6L655.5 222.9L656.4 222.3L657.4 221.8L658.4 221.5L659.3 221.2L660.3 221.1L661.3 221.0L662.2 220.1L663.2 219.2L664.2 219.0L665.2 218.9L666.1 217.9L667.1 216.9L668.1 217.3L669.0 217.7L670.0 216.9L671.0 216.1L671.9 216.6L672.9 217.0L673.9 216.3L674.8 215.6L675.8 215.9L676.8 216.2L677.8 216.2L678.7 216.1L679.7 214.9L680.7 213.6L681.7 213.7L682.7 213.8L683.6 213.5L684.6 213.3L685.6 214.0L686.6 214.8L687.6 215.1L688.6 215.5L689.5 214.9L690.5 214.2L691.5 213.4L692.5 212.6L693.5 213.5L694.5 214.3L695.5 212.6L696.5 210.8L697.5 212.3L698.5 213.9L699.5 212.5L700.5 211.2L701.5 209.9L702.5 208.6L703.5 211.4L704.5 214.3L705.5 213.5L706.5 212.8L707.4 211.2L708.4 209.6L709.4 210.1L710.4 210.6L711.4 210.2L712.4 209.8L713.4 209.8L714.4 209.8L715.4 208.8L716.4 207.7L717.3 208.0L718.3 208.3L719.3 208.7L720.3 209.2L721.3 208.9L722.3 208.6L723.3 209.0L724.3 209.3L725.3 208.5L726.3 207.8L727.2 208.9L728.2 210.0L729.2 208.1L730.2 206.3L731.2 206.6L732.2 207.0L733.2 205.7L734.2 204.3L735.2 204.5L736.2 204.7L737.2 206.0L738.2 207.3L739.2 205.9L740.1 204.5L741.1 205.2L742.1 205.8L743.1 205.4L744.1 204.9L745.1 204.3L746.1 203.6L747.1 203.8L748.1 204.1L749.1 203.9L750.1 203.7L751.1 203.6L752.1 203.4L753.1 204.0L754.1 204.6L755.1 204.4L756.1 204.3L757.1 203.5L758.1 202.7L759.1 202.5L760.1 202.2L761.1 202.8L762.1 203.4L763.1 203.2L764.1 202.9L765.1 203.5L766.1 204.1L767.1 204.9L768.1 205.8L769.1 204.8L770.1 203.7L771.1 203.2L772.1 202.7L773.1 202.6L774.1 202.5L775.1 202.1L776.1 201.7L777.2 201.6L778.2 201.6L779.2 201.5L780.2 201.4L781.2 201.7L782.2 202.0L783.2 202.0L784.2 202.0L785.2 202.6L786.2 203.2L787.2 202.6L788.2 201.9L789.2 202.0L790.2 202.1L791.2 201.5L792.2 201.0L793.2 202.5L794.2 204.1L795.2 203.5L796.2 202.9L797.2 203.6L798.2 204.3L799.2 203.7L800.3 203.2L801.3 203.6L802.3 204.0L803.3 203.1L804.3 202.1L805.3 202.7L806.3 203.3L807.3 204.4L808.3 205.5L809.3 203.4L810.3 201.3L811.3 202.7L812.3 204.0L813.3 204.4L814.3 204.7L815.3 204.1L816.3 203.4L817.3 203.7L818.3 203.9L819.3 204.3L820.3 204.6L821.3 203.6L822.3 202.6L823.3 203.3L824.3 203.9L825.3 203.3L826.3 202.6L827.3 202.8L828.3 203.0L829.3 203.1L830.3 203.2L831.3 203.5L832.3 203.9L833.3 204.1L834.3 204.4L835.3 204.6L836.3 204.9L837.3 203.9L838.3 203.0L839.3 205.0L840.3 207.0L841.3 206.6L842.3 206.3L843.3 206.1L844.3 206.0L845.3 205.5L846.3 205.0L847.3 205.3L848.3 205.5L849.3 206.0L850.3 206.4L851.3 206.4L852.3 206.5L853.3 205.4L854.3 204.3L855.3 205.7L856.3 207.2L857.3 208.5L858.3 209.8L859.3 207.2L860.3 204.6L861.4 206.3L862.4 208.0L863.3 207.8L864.3 207.5L865.3 207.4L866.3 207.2L867.3 208.2L868.3 209.1L869.3 207.8L870.3 206.5L871.3 207.4L872.3 208.3L873.3 209.2L874.2 210.2L875.2 209.4L876.2 208.7L877.2 208.8L878.2 208.9L879.2 209.4L880.1 210.0L881.1 209.9L882.1 209.8L883.1 211.2L884.0 212.6L885.0 211.4L886.0 210.3L887.0 211.6L887.9 212.9L888.9 211.9L889.9 211.0L890.8 212.3L891.8 213.7L892.8 213.5L893.8 213.3L894.7 212.2L895.7 211.0L896.7 212.8L897.6 214.5L898.6 214.2L899.5 213.9L900.5 214.5L901.5 215.1L902.4 216.5L903.4 218.0L904.4 216.7L905.3 215.5L906.3 215.9L907.2 216.2L908.2 217.9L909.2 219.6L910.1 219.2L911.1 218.7L912.0 219.9L913.0 221.0L913.9 220.6L914.9 220.2L915.8 219.8L916.8 219.5L917.8 220.2L918.7 221.0L919.7 222.1L920.6 223.1L921.6 223.2L922.5 223.4L923.5 223.2L924.5 223.0L925.4 223.3L926.4 223.7L927.3 223.9L928.3 224.2L929.2 224.3L930.1 224.3L931.1 226.1L932.0 227.9L932.9 227.2L933.9 226.4L934.8 226.2L935.7 225.9L936.6 226.7L937.6 227.4L938.5 228.5L939.4 229.6L940.3 230.0L941.2 230.4L942.1 230.4L943.0 230.4L943.9 230.5L944.8 230.7L945.7 231.5L946.6 232.4L947.5 231.9L948.4 231.4L949.3 232.0L950.2 232.7L951.1 234.4L951.9 236.0L952.8 235.8L953.7 235.6L954.6 236.5L955.5 237.5L956.4 238.4L957.3 239.4L958.2 239.5L959.0 239.7L959.9 239.8L960.8 239.9L961.7 241.5L962.6 243.1L963.5 242.8L964.4 242.4L965.3 242.4L966.2 242.3L967.1 243.4L967.9 244.4L968.8 244.7L969.7 245.1L970.6 245.0L971.4 244.9L972.3 245.9L973.1 246.8L973.9 247.3L974.7 247.7L975.6 247.6L976.4 247.4L977.2 248.8L977.9 250.1L978.7 250.7L979.5 251.3L980.3 251.9L981.0 252.5L981.8 252.7L982.6 253.0L983.3 254.1L984.1 255.3L984.8 256.0L985.6 256.8L986.3 257.5L987.1 258.2L987.9 258.5L988.6 258.8L989.4 260.0L990.1 261.1L990.9 261.3L991.6 261.5L992.4 262.4L993.1 263.4L993.9 264.4L994.6 265.4L995.4 265.6L996.1 265.8L996.9 266.5L997.7 267.2L998.4 268.2L999.2 269.2L999.9 269.5L1000.7 269.9L1001.5 270.6L1002.2 271.3L1003.0 272.0" fill="none" stroke="#ff0000" stroke-width="4.40" stroke-linejoin="miter" stroke-miterlimit="2" stroke-linecap="butt"/>
<path d="M596.5 272.3L597.5 272.1L598.1 271.8L598.6 271.2L599.1 270.4L599.5 269.6L599.9 268.7L600.2 267.8L600.5 266.8L600.8 265.8L601.1 264.7L601.4 263.9L601.6 263.1L601.9 261.7L602.2 260.3L602.5 259.5L602.8 258.8L603.2 257.9L603.6 257.0L604.0 255.8L604.4 254.6L604.8 253.9L605.2 253.2L605.6 252.7L606.1 252.2L606.5 250.9L607.0 249.7L607.4 248.5L607.9 247.3L608.4 246.6L608.9 245.9L609.5 244.8L610.0 243.7L610.6 243.3L611.2 242.9L611.8 242.4L612.4 241.8L613.1 240.4L613.7 239.0L614.4 238.4L615.1 237.9L615.8 237.7L616.5 237.6L617.2 236.1L617.8 234.7L618.5 234.2L619.2 233.8L619.9 232.5L620.6 231.2L621.3 230.5L622.0 229.9L622.7 229.3L623.4 228.7L624.1 229.4L624.8 230.2L625.5 228.1L626.3 226.0L627.0 225.3L627.8 224.5L628.5 223.9L629.3 223.2L630.1 222.8L630.8 222.4L631.6 222.3L632.4 222.2L633.2 221.3L634.0 220.3L634.8 221.0L635.6 221.7L636.4 219.8L637.2 218.0L638.1 218.3L638.9 218.6L639.7 217.2L640.6 215.8L641.4 215.5L642.3 215.2L643.1 213.1L644.0 211.0L644.8 211.5L645.7 212.0L646.6 211.6L647.4 211.2L648.3 210.6L649.2 210.0L650.1 208.2L651.0 206.4L651.9 208.3L652.9 210.1L653.8 208.8L654.7 207.5L655.7 207.1L656.6 206.7L657.6 206.5L658.5 206.3L659.5 206.0L660.4 205.7L661.4 205.8L662.3 205.9L663.3 204.3L664.2 202.7L665.2 202.5L666.1 202.4L667.0 202.9L667.9 203.5L668.8 202.9L669.8 202.4L670.7 201.6L671.6 200.8L672.5 200.2L673.4 199.6L674.3 199.0L675.2 198.3L676.1 198.5L677.0 198.6L677.9 199.1L678.9 199.6L679.8 197.5L680.7 195.5L681.6 197.0L682.5 198.5L683.4 197.6L684.4 196.8L685.3 195.4L686.2 194.1L687.2 194.7L688.1 195.3L689.1 193.3L690.0 191.3L691.0 190.8L691.9 190.3L692.9 190.3L693.9 190.4L694.8 190.7L695.8 191.1L696.8 190.9L697.7 190.7L698.7 190.3L699.7 189.8L700.6 190.0L701.6 190.2L702.6 188.3L703.5 186.4L704.5 188.1L705.5 189.8L706.5 188.1L707.4 186.4L708.4 186.8L709.4 187.1L710.4 187.0L711.3 187.0L712.3 186.2L713.3 185.4L714.3 185.1L715.3 184.7L716.2 184.7L717.2 184.8L718.2 185.3L719.2 185.9L720.2 186.1L721.1 186.3L722.1 186.1L723.1 185.8L724.1 184.5L725.1 183.1L726.0 183.0L727.0 182.9L728.0 182.6L729.0 182.2L729.9 183.0L730.9 183.8L731.9 181.6L732.8 179.5L733.8 181.7L734.8 183.9L735.8 182.3L736.7 180.8L737.7 180.3L738.7 179.8L739.6 180.4L740.6 181.0L741.6 181.3L742.6 181.6L743.6 180.9L744.5 180.2L745.5 180.5L746.5 180.9L747.5 180.0L748.5 179.2L749.5 179.8L750.5 180.5L751.5 180.4L752.5 180.3L753.5 179.1L754.4 178.0L755.4 179.0L756.4 180.0L757.4 178.9L758.4 177.8L759.4 177.6L760.4 177.4L761.4 176.5L762.4 175.6L763.4 175.9L764.4 176.2L765.4 176.8L766.3 177.4L767.3 175.6L768.3 173.8L769.3 175.1L770.3 176.3L771.3 175.9L772.2 175.5L773.2 175.2L774.2 174.9L775.2 172.9L776.2 170.8L777.2 172.2L778.2 173.7L779.1 174.1L780.1 174.5L781.1 173.3L782.1 172.1L783.1 172.6L784.1 173.1L785.1 171.1L786.1 169.1L787.1 171.3L788.1 173.4L789.1 172.3L790.1 171.2L791.1 172.3L792.1 173.3L793.1 171.2L794.1 169.1L795.1 171.0L796.1 172.8L797.1 172.1L798.1 171.5L799.1 172.3L800.1 173.1L801.1 171.9L802.1 170.7L803.1 171.0L804.1 171.3L805.1 173.6L806.1 175.9L807.1 173.7L808.1 171.5L809.1 171.7L810.1 172.0L811.1 172.4L812.1 172.9L813.1 172.5L814.1 172.0L815.1 173.8L816.1 175.6L817.1 176.1L818.1 176.7L819.1 175.0L820.1 173.3L821.1 172.7L822.1 172.1L823.1 174.4L824.0 176.7L825.0 176.8L826.0 176.9L827.0 176.9L828.0 176.8L829.0 177.2L830.0 177.6L831.0 176.3L832.0 174.9L833.0 175.6L834.0 176.3L834.9 175.6L835.9 174.9L836.9 175.0L837.9 175.2L838.9 177.2L839.9 179.1L840.9 178.1L841.8 177.1L842.8 179.5L843.8 181.9L844.8 180.4L845.8 179.0L846.8 178.7L847.7 178.3L848.7 179.6L849.7 180.9L850.7 181.9L851.7 182.8L852.6 182.1L853.6 181.3L854.6 180.3L855.6 179.2L856.6 180.6L857.5 182.1L858.5 183.1L859.5 184.1L860.5 182.9L861.4 181.7L862.4 181.8L863.4 181.8L864.4 183.4L865.3 185.0L866.3 184.6L867.3 184.1L868.3 183.5L869.2 182.8L870.2 183.5L871.2 184.3L872.2 184.3L873.1 184.2L874.1 185.2L875.1 186.3L876.1 186.4L877.0 186.5L878.0 187.5L879.0 188.5L880.0 188.4L880.9 188.3L881.9 186.8L882.9 185.4L883.9 187.1L884.8 188.8L885.8 189.4L886.8 190.0L887.8 189.9L888.7 189.9L889.7 190.6L890.7 191.2L891.6 190.3L892.6 189.4L893.6 189.4L894.6 189.3L895.5 191.0L896.5 192.7L897.5 191.4L898.5 190.2L899.4 189.7L900.4 189.1L901.4 191.8L902.3 194.4L903.3 193.4L904.3 192.4L905.2 193.0L906.2 193.6L907.2 193.1L908.1 192.6L909.1 192.9L910.0 193.3L910.9 193.8L911.9 194.2L912.8 195.2L913.7 196.2L914.6 197.1L915.6 198.0L916.5 196.4L917.4 194.8L918.3 197.6L919.2 200.3L920.0 199.3L920.9 198.3L921.8 198.9L922.7 199.5L923.6 201.3L924.4 203.1L925.3 203.0L926.2 203.0L927.1 202.4L927.9 201.8L928.8 204.9L929.7 207.9L930.5 206.4L931.4 204.9L932.3 206.3L933.1 207.6L934.0 208.1L934.9 208.6L935.7 210.0L936.6 211.4L937.5 210.5L938.4 209.6L939.2 211.2L940.1 212.8L941.0 211.9L941.9 211.1L942.7 213.0L943.6 214.9L944.5 214.0L945.4 213.1L946.2 213.9L947.1 214.7L948.0 216.9L948.8 219.1L949.7 218.5L950.5 217.8L951.4 218.2L952.3 218.6L953.1 220.7L953.9 222.8L954.8 222.0L955.6 221.1L956.4 220.8L957.2 220.5L958.1 222.2L958.9 224.0L959.7 223.1L960.5 222.3L961.3 224.6L962.1 226.9L962.9 227.5L963.7 228.2L964.5 227.5L965.3 226.9L966.1 227.6L966.9 228.2L967.6 229.3L968.4 230.5L969.2 231.1L969.9 231.6L970.7 231.7L971.5 231.8L972.2 233.3L972.9 234.9L973.7 234.1L974.4 233.4L975.1 235.0L975.9 236.5L976.6 237.3L977.3 238.0L978.0 238.8L978.7 239.6L979.4 240.6L980.0 241.6L980.7 241.6L981.4 241.7L982.1 243.3L982.7 244.8L983.4 245.2L984.1 245.7L984.7 246.2L985.4 246.8L986.1 247.3L986.7 247.8L987.4 248.7L988.0 249.5L988.7 250.9L989.3 252.2L989.9 252.5L990.6 252.8L991.2 254.0L991.8 255.1L992.5 256.1L993.1 257.2L993.7 258.0L994.3 258.8L994.9 259.7L995.5 260.6L996.1 260.9L996.7 261.3L997.3 261.9L997.9 262.5L998.5 263.8L999.1 265.1L999.7 265.7L1000.2 266.4L1000.8 267.4L1001.3 268.4L1001.9 269.0L1002.5 269.7L1003.0 270.7" fill="none" stroke="#0000ff" stroke-width="4.40" stroke-linejoin="miter" stroke-miterlimit="2" stroke-linecap="butt"/>
<path d="M596.5 270.3L596.7 269.3L596.8 268.2L597.0 267.2L597.1 266.2L597.3 265.2L597.4 264.2L597.6 263.2L597.8 262.2L597.9 261.2L598.1 260.2L598.3 259.3L598.4 258.5L598.6 257.4L598.8 256.2L598.9 254.9L599.1 254.4L599.3 253.8L599.5 252.8L599.7 251.5L599.8 250.2L600.0 249.4L600.2 248.6L600.4 247.6L600.5 246.4L600.7 245.3L600.9 244.2L601.1 243.2L601.3 242.4L601.5 241.9L601.7 241.3L601.9 239.9L602.1 238.5L602.3 237.2L602.5 236.0L602.7 234.8L602.9 234.0L603.1 233.1L603.3 232.2L603.6 231.3L603.8 230.4L604.1 230.0L604.3 229.5L604.6 228.6L604.8 227.2L605.1 225.9L605.4 225.1L605.7 224.3L606.0 223.2L606.3 221.8L606.6 220.4L606.9 219.8L607.2 219.1L607.5 218.3L607.8 217.4L608.1 216.6L608.4 215.9L608.7 215.2L609.1 214.1L609.4 212.6L609.7 211.0L610.0 210.4L610.4 209.8L610.7 208.9L611.1 207.9L611.4 206.9L611.8 205.7L612.1 204.4L612.5 203.4L612.9 202.7L613.2 202.1L613.6 201.1L614.0 200.1L614.3 198.8L614.7 197.4L615.1 195.9L615.5 195.7L615.9 195.6L616.2 195.0L616.6 194.1L617.0 193.2L617.4 192.0L617.8 190.8L618.2 189.6L618.6 188.4L619.0 187.2L619.4 187.1L619.8 187.0L620.2 186.3L620.6 185.1L621.0 183.8L621.4 183.1L621.8 182.4L622.1 181.6L622.5 180.8L622.9 180.0L623.3 178.5L623.7 177.0L624.1 176.0L624.5 175.5L624.9 175.0L625.3 173.7L625.7 172.5L626.1 171.4L626.5 170.6L627.0 169.8L627.5 168.9L627.9 168.0L628.4 167.1L628.9 166.3L629.4 165.4L630.0 165.0L630.5 164.5L631.0 163.7L631.5 162.5L632.0 161.2L632.5 160.3L633.0 159.3L633.5 158.4L634.0 157.4L634.5 156.5L634.9 155.8L635.4 155.2L635.9 154.2L636.3 152.8L636.8 151.5L637.3 150.7L637.7 150.0L638.2 149.2L638.6 148.5L639.0 147.8L639.5 146.7L639.9 145.6L640.3 144.6L640.6 143.7L641.0 142.7L641.3 141.3L641.6 139.9L641.9 139.1L642.2 138.9L642.5 138.8L642.8 137.4L643.2 136.0L643.5 134.6L643.9 133.3L644.3 132.2L644.7 131.3L645.2 130.5L645.7 130.5L646.3 131.3L646.9 132.2L647.9 131.5L649.0 130.7L650.1 130.3L651.2 130.3L652.3 130.4L653.4 131.0L654.4 131.6L655.3 132.0L656.0 132.1L656.4 132.1L656.8 132.3L657.1 132.3L657.4 131.5L657.7 129.9L657.9 128.3L658.1 128.1L658.4 127.9L658.5 126.5L658.7 123.8L658.9 121.1L659.1 120.6L659.4 120.1L659.6 118.9L659.9 117.1L660.2 115.4L660.5 115.7L660.8 116.1L661.1 115.3L661.5 113.4L661.8 111.4L662.2 110.6L662.5 109.8L662.8 109.1L663.1 108.7L663.4 108.2L663.7 107.4L663.9 106.6L664.1 105.1L664.4 103.0L664.6 100.8L664.8 100.2L665.0 99.6L665.1 98.6L665.3 97.1L665.5 95.6L665.7 95.3L665.8 95.1L666.0 94.4L666.2 93.3L666.3 92.2L666.5 91.1L666.6 90.0L666.8 88.7L666.9 87.4L667.1 85.9L667.2 84.8L667.3 83.6L667.4 82.3L667.5 80.8L667.7 79.5L667.8 79.0L667.9 78.7L668.0 78.4L668.2 78.3L668.3 78.4L668.5 76.5L668.7 74.9L668.8 74.8L669.0 76.4L669.3 78.1L669.5 78.9L669.7 79.9L670.0 81.3L670.2 83.0L670.4 84.8L670.7 85.3L670.9 85.8L671.2 86.8L671.4 88.3L671.7 89.7L671.9 90.5L672.1 91.3L672.3 92.8L672.5 95.0L672.7 97.0L673.0 97.8L673.2 98.4L673.6 98.8L673.9 99.0L674.4 99.0L675.0 99.0L676.0 98.9L677.1 98.5L678.2 97.7L679.3 97.1L680.2 96.3L681.2 95.9L682.2 96.7L683.2 98.7L684.2 100.7L684.9 101.3L685.5 101.6L685.8 101.5L686.0 101.1L686.1 100.5L686.3 100.6L686.5 100.6L686.6 100.1L686.7 99.3L686.8 98.4L686.9 95.9L687.0 93.4L687.1 91.5L687.2 90.3L687.3 89.0L687.3 88.9L687.4 88.7L687.4 87.8L687.5 86.3L687.6 84.7L687.6 82.1L687.7 79.5L687.7 77.4L687.8 75.9L687.9 74.5L687.9 73.7L688.0 73.1L688.1 72.4L688.2 71.8L688.3 71.4L688.4 70.4L688.5 69.6L688.7 69.7L688.8 70.9L689.0 72.2L689.1 72.1L689.3 72.1L689.5 72.6L689.7 73.7L689.9 74.9L690.1 77.4L690.3 79.9L690.5 81.4L690.7 82.0L690.9 82.5L691.2 84.3L691.4 86.1L691.6 87.9L691.9 89.7L692.1 91.5L692.4 92.9L692.6 94.2L692.8 94.9L693.1 95.2L693.3 95.3L693.6 96.2L693.8 96.9L694.1 97.0L694.3 96.6L694.6 95.9L694.9 97.1L695.1 98.1L695.4 97.8L695.7 96.3L695.9 94.7L696.2 92.6L696.5 90.4L696.8 89.0L697.1 88.4L697.4 87.8L697.7 86.9L698.0 86.1L698.3 85.0L698.6 83.7L698.9 82.5L699.2 82.3L699.5 82.1L699.8 81.3L700.2 79.8L700.5 78.3L700.9 75.9L701.2 73.5L701.6 71.8L702.0 70.9L702.3 70.0L702.7 68.1L703.0 66.4L703.4 65.6L703.7 65.7L704.0 66.1L704.3 65.5L704.6 65.2L704.9 65.8L705.2 67.6L705.4 69.6L705.7 68.6L705.9 67.7L706.1 67.2L706.3 66.9L706.5 66.8L706.7 69.0L706.9 71.3L707.1 73.5L707.3 75.4L707.5 77.4L707.7 77.9L707.9 78.4L708.1 79.4L708.3 80.8L708.5 82.1L708.8 83.3L709.0 84.3L709.3 85.2L709.6 85.9L709.9 86.3L710.2 85.6L710.5 84.7L710.9 83.4L711.2 81.9L711.6 80.3L712.0 80.2L712.5 80.1L712.9 79.0L713.4 77.0L714.0 75.2L714.5 74.4L715.2 73.8L715.9 72.9L716.8 71.7L717.6 70.6L718.5 70.4L719.4 70.3L720.3 70.5L721.2 70.9L722.0 71.3L722.9 69.1L723.7 66.9L724.6 66.1L725.5 66.5L726.3 67.0L727.2 67.0L728.1 67.0L729.0 66.5L729.9 65.4L730.8 64.4L731.8 64.6L732.7 65.0L733.7 64.7L734.6 63.8L735.6 62.9L736.6 64.6L737.7 66.2L738.7 67.0L739.7 66.8L740.7 66.7L741.7 66.1L742.8 65.5L743.8 64.5L744.7 63.2L745.7 61.8L746.7 62.2L747.6 62.5L748.6 63.2L749.5 64.3L750.5 65.3L751.4 65.5L752.4 65.6L753.3 64.9L754.2 63.5L755.2 62.1L756.1 62.3L757.0 62.5L758.0 61.8L758.9 60.1L759.9 58.5L760.8 58.4L761.8 58.4L762.7 58.3L763.7 58.1L764.6 57.9L765.6 57.9L766.6 57.9L767.5 57.0L768.5 55.4L769.5 53.7L770.4 55.1L771.4 56.5L772.4 57.2L773.4 57.2L774.3 57.3L775.3 55.4L776.3 53.5L777.3 52.5L778.3 52.3L779.3 52.1L780.2 53.3L781.2 54.4L782.2 54.7L783.2 54.0L784.3 53.3L785.3 52.1L786.3 51.0L787.3 51.5L788.3 53.6L789.3 55.8L790.4 55.3L791.4 54.9L792.4 54.4L793.4 54.0L794.4 53.6L795.4 55.4L796.4 57.1L797.4 57.3L798.4 56.0L799.4 54.6L800.4 54.0L801.3 53.4L802.3 53.4L803.2 54.1L804.2 54.9L805.1 54.5L806.0 54.2L806.9 54.4L807.8 55.2L808.7 56.0L809.6 57.3L810.6 58.7L811.5 59.2L812.4 58.9L813.3 58.5L814.3 58.7L815.2 58.8L816.2 59.5L817.2 60.9L818.2 62.3L819.2 61.7L820.2 61.1L821.2 60.7L822.2 60.6L823.2 60.5L824.3 60.2L825.3 60.0L826.3 59.8L827.3 59.7L828.3 59.6L829.3 60.2L830.3 60.9L831.3 60.7L832.3 59.7L833.2 58.7L834.2 60.1L835.2 61.6L836.1 61.5L837.1 59.9L838.0 58.3L839.0 59.1L839.9 60.0L840.8 60.2L841.8 59.9L842.7 59.6L843.7 60.7L844.6 61.9L845.5 62.9L846.5 64.0L847.4 65.0L848.3 66.0L849.3 67.0L850.2 66.9L851.1 65.9L852.1 64.8L853.0 65.6L853.9 66.5L854.9 66.9L855.8 67.1L856.7 67.2L857.6 67.4L858.6 67.5L859.5 67.6L860.4 67.7L861.3 67.7L862.3 69.0L863.2 70.2L864.1 70.4L865.1 69.5L866.0 68.6L866.9 70.2L867.9 71.8L868.9 72.7L869.8 72.9L870.8 73.1L871.8 72.9L872.8 72.7L873.8 72.7L874.7 72.7L875.7 72.8L876.6 72.9L877.5 73.0L878.4 74.3L879.3 77.0L880.1 79.6L881.0 78.0L881.8 76.4L882.6 76.9L883.4 79.5L884.2 82.1L885.0 82.1L885.7 82.1L886.5 82.2L887.2 82.2L888.0 82.2L888.7 82.5L889.4 82.9L890.2 84.3L890.9 86.8L891.6 89.3L892.3 90.7L893.0 92.1L893.6 92.2L894.2 91.1L894.9 89.9L895.4 90.7L896.0 91.3L896.5 91.9L897.0 92.4L897.5 92.6L897.9 91.2L898.4 89.6L898.8 88.7L899.3 88.6L899.7 88.3L900.1 85.2L900.5 82.2L900.9 80.5L901.3 80.1L901.6 80.0L902.0 78.1L902.4 76.5L902.8 76.9L903.2 79.4L903.5 82.1L903.8 80.7L904.1 79.6L904.4 79.1L904.7 79.1L905.0 79.3L905.3 81.9L905.6 84.6L905.9 86.6L906.2 87.9L906.5 89.2L906.8 91.8L907.2 94.4L907.6 95.3L908.0 94.7L908.5 94.0L909.0 94.8L909.7 95.5L910.6 96.3L911.8 97.1L913.0 97.9L914.2 98.9L915.1 99.8L915.7 99.6L915.9 98.4L916.2 97.0L916.4 97.2L916.5 97.2L916.7 96.5L916.8 95.2L917.0 93.7L917.1 91.9L917.2 90.1L917.3 88.6L917.4 87.5L917.5 86.5L917.6 85.2L917.7 84.0L917.8 82.5L918.0 80.9L918.1 79.2L918.3 79.7L918.4 80.1L918.5 79.0L918.7 76.2L918.8 73.5L918.9 74.2L919.1 75.0L919.2 74.8L919.3 73.6L919.4 72.5L919.6 70.8L919.7 69.1L919.8 67.5L920.0 66.0L920.1 64.6L920.2 64.0L920.4 63.3L920.5 62.7L920.7 62.2L920.8 61.7L920.9 60.9L921.1 60.1L921.2 59.0L921.4 57.7L921.6 56.4L921.7 55.9L921.9 55.4L922.1 54.1L922.3 52.1L922.5 50.1L922.7 49.5L922.9 48.7L923.2 47.1L923.4 44.7L923.7 42.3L924.0 42.6L924.2 43.1L924.5 42.8L924.7 41.8L924.8 41.2L925.0 40.8L925.1 40.7L925.3 41.3L925.4 42.8L925.5 44.4L925.6 44.8L925.7 45.4L925.8 45.2L925.9 44.2L926.0 43.2L926.1 46.2L926.2 49.1L926.3 50.8L926.4 51.2L926.5 51.7L926.6 54.5L926.6 57.3L926.7 59.7L926.8 61.8L926.9 63.9L926.9 63.2L927.0 62.5L927.0 62.9L927.1 64.3L927.1 65.8L927.2 66.8L927.2 67.8L927.3 69.2L927.3 70.8L927.3 72.5L927.4 74.0L927.4 75.5L927.4 77.1L927.4 78.8L927.4 80.4L927.5 80.4L927.5 80.3L927.5 81.6L927.6 84.3L927.6 86.8L927.6 86.5L927.7 86.0L927.7 86.5L927.8 88.0L927.8 89.4L927.9 90.5L928.0 91.6L928.1 92.1L928.1 92.1L928.2 92.0L928.4 91.0L929.2 89.8L930.3 88.8L931.6 88.4L932.6 88.1L933.2 88.1L933.4 88.4L933.7 89.0L933.9 89.9L934.0 91.0L934.2 92.6L934.3 94.3L934.4 95.3L934.5 95.4L934.7 95.6L934.8 97.7L934.9 99.8L935.1 101.4L935.3 102.5L935.5 103.5L935.8 104.5L936.0 105.4L936.3 106.3L936.6 107.3L936.9 108.2L937.2 109.6L937.5 111.0L937.9 112.0L938.2 112.5L938.6 112.9L939.0 114.0L939.4 115.0L939.8 115.9L940.3 116.6L940.8 117.3L941.5 118.6L942.1 119.9L942.8 120.1L943.5 119.5L944.2 118.8L944.8 120.9L945.4 122.9L945.9 124.0L946.4 124.3L946.8 124.6L947.1 125.5L947.5 126.4L947.8 127.3L948.1 128.0L948.4 128.7L948.7 129.4L949.0 130.1L949.2 131.2L949.5 132.7L949.8 134.2L950.1 135.1L950.5 135.9L950.9 136.9L951.3 138.2L951.7 139.5L952.2 139.6L952.8 139.7L953.4 140.6L954.1 142.4L954.8 144.1L955.5 144.4L956.3 144.7L957.0 145.1L957.8 145.7L958.5 146.2L959.3 146.8L960.0 147.4L960.6 148.1L961.2 148.8L961.7 149.6L962.3 150.3L962.8 151.1L963.3 152.0L963.7 153.0L964.2 154.1L964.6 155.2L965.1 156.2L965.5 157.2L965.9 158.1L966.3 158.9L966.8 159.5L967.2 160.1L967.6 161.0L968.0 162.2L968.4 163.5L968.9 164.2L969.3 165.0L969.8 165.9L970.2 167.1L970.7 168.3L971.2 169.6L971.7 171.0L972.2 171.9L972.7 172.4L973.2 172.9L973.8 173.5L974.3 174.1L974.8 174.7L975.3 175.2L975.8 175.7L976.3 176.7L976.8 177.6L977.3 178.5L977.8 179.3L978.3 180.1L978.7 181.6L979.2 183.1L979.6 184.1L980.1 184.6L980.5 185.2L980.9 186.3L981.4 187.4L981.8 188.3L982.2 189.1L982.6 189.8L983.1 190.9L983.5 192.0L983.9 193.1L984.3 194.4L984.7 195.6L985.1 196.0L985.5 196.5L985.8 197.2L986.2 198.2L986.6 199.2L987.0 200.1L987.3 200.9L987.7 202.0L988.0 203.3L988.4 204.6L988.7 205.1L989.1 205.6L989.4 206.3L989.8 207.3L990.1 208.2L990.4 209.1L990.7 210.0L991.1 210.9L991.4 211.9L991.7 212.8L992.0 214.2L992.3 215.5L992.6 216.9L992.9 218.2L993.2 219.6L993.5 219.9L993.7 220.1L994.0 220.9L994.3 222.3L994.5 223.6L994.8 224.4L995.0 225.3L995.3 226.1L995.5 226.8L995.7 227.5L996.0 228.6L996.2 229.8L996.4 230.8L996.6 231.8L996.8 232.8L997.1 233.7L997.3 234.6L997.5 235.8L997.7 237.2L997.9 238.7L998.0 239.0L998.2 239.3L998.4 240.1L998.6 241.5L998.8 242.9L999.0 243.9L999.1 244.9L999.3 245.8L999.5 246.6L999.7 247.4L999.8 248.5L1000.0 249.6L1000.2 250.8L1000.3 251.9L1000.5 253.0L1000.6 253.8L1000.8 254.7L1000.9 255.7L1001.1 256.7L1001.2 257.7L1001.4 258.8L1001.5 259.8L1001.7 260.6L1001.8 261.1L1001.9 261.7L1002.1 263.3L1002.2 264.8L1002.3 266.2L1002.5 267.3L1002.6 268.4L1002.7 269.2L1002.8 270.0" fill="none" stroke="#000000" stroke-width="3.80" stroke-linejoin="miter" stroke-miterlimit="2" stroke-linecap="butt"/>
</g>
<g clip-path="url(#clipc)">
<path d="M59.8 640.9L60.8 641.2L61.8 641.5L62.8 641.4L63.8 641.4L64.8 641.5L65.8 641.5L66.8 641.9L67.8 642.2L68.8 641.9L69.9 641.6L70.9 641.8L71.9 641.9L72.9 641.6L73.9 641.3L74.9 641.7L75.9 642.0L76.9 642.1L77.9 642.1L78.9 642.0L79.9 641.8L80.9 641.8L81.9 641.8L82.9 642.3L83.9 642.8L84.9 642.2L85.9 641.6L86.9 641.6L87.9 641.6L88.9 641.7L89.9 641.7L90.9 642.0L91.9 642.3L93.0 642.4L94.0 642.5L95.0 642.1L95.9 641.7L96.9 641.5L97.9 641.2L98.9 641.2L99.9 641.1L101.0 641.3L102.0 641.5L103.0 641.1L103.9 640.6L105.0 640.9L106.0 641.3L107.0 641.2L108.0 641.1L109.0 640.7L110.0 640.4L111.0 640.4L112.0 640.4L113.0 640.3L114.0 640.2L115.0 640.3L116.0 640.3L117.0 639.8L117.9 639.2L119.0 639.5L120.0 639.7L121.0 639.3L121.9 638.9L122.9 638.7L123.9 638.5L124.9 638.5L125.9 638.5L126.9 638.3L127.9 638.1L128.8 637.8L129.8 637.5L130.8 637.2L131.8 636.9L132.8 636.9L133.8 636.8L134.8 637.0L135.9 637.3L136.9 637.2L137.9 637.1L138.9 636.7L139.8 636.3L140.8 636.2L141.8 636.1L142.8 635.7L143.7 635.2L144.7 635.2L145.7 635.1L146.7 635.0L147.7 634.9L148.7 634.5L149.7 634.2L150.7 634.0L151.7 633.9L152.7 634.0L153.7 634.1L154.7 633.9L155.7 633.7L156.7 633.4L157.6 633.2L158.7 633.3L159.7 633.4L160.7 633.2L161.7 633.0L162.7 633.1L163.7 633.2L164.7 632.9L165.7 632.6L166.7 632.5L167.7 632.3L168.7 632.3L169.7 632.3L170.7 632.1L171.7 631.9L172.7 631.8L173.6 631.6L174.7 631.5L175.7 631.5L176.7 631.6L177.7 631.7L178.7 631.6L179.7 631.4L180.7 631.5L181.7 631.5L182.7 630.9L183.6 630.3L184.6 630.4L185.7 630.5L186.7 630.4L187.7 630.3L188.7 630.3L189.7 630.3L190.7 630.1L191.7 629.9L192.7 629.8L193.7 629.7L194.7 629.9L195.7 630.0L196.7 629.8L197.7 629.6L198.7 629.3L199.7 629.0L200.7 629.3L201.7 629.7L202.7 629.5L203.7 629.4L204.7 629.1L205.7 628.7L206.7 628.9L207.7 629.1L208.7 628.7L209.7 628.4L210.7 628.7L211.7 629.0L212.7 628.7L213.7 628.4L214.7 628.3L215.7 628.2L216.7 628.2L217.7 628.3L218.7 628.2L219.7 628.1L220.7 628.2L221.7 628.4L222.8 628.4L223.8 628.3L224.8 628.3L225.8 628.2L226.8 628.1L227.8 628.0L228.8 627.4L229.8 626.9L230.8 627.5L231.8 628.2L232.8 627.8L233.8 627.4L234.8 627.8L235.8 628.2L236.8 628.3L237.8 628.4L238.8 628.3L239.8 628.1L240.8 628.0L241.8 627.9L242.8 627.9L243.9 627.9L244.9 627.9L245.9 628.0L246.9 627.9L247.9 627.8L248.9 627.8L249.9 627.8L250.9 627.7L251.9 627.7L252.9 628.0L253.9 628.4L254.9 628.2L255.9 628.0L256.9 628.2L257.9 628.3L258.9 628.1L259.9 627.9L260.9 628.0L261.9 628.0L262.9 628.0L263.9 627.9L264.9 628.1L266.0 628.2L267.0 628.2L268.0 628.3L269.0 628.2L270.0 628.1L271.0 627.9L272.0 627.8L273.0 627.7L274.0 627.7L275.0 628.2L276.0 628.6L277.0 628.2L278.0 627.9L279.0 627.9L280.0 627.9L281.0 628.2L282.0 628.5L283.0 628.5L284.0 628.4L285.0 628.4L286.0 628.3L287.0 628.2L288.1 628.0L289.0 628.5L290.0 629.1L291.0 628.8L292.1 628.5L293.1 628.5L294.1 628.6L295.1 628.5L296.1 628.5L297.1 628.3L298.1 628.1L299.1 628.2L300.1 628.3L301.1 628.6L302.1 629.0L303.1 629.0L304.1 629.1L305.1 629.0L306.1 629.0L307.1 628.9L308.1 628.7L309.1 628.8L310.2 628.8L311.1 629.0L312.1 629.2L313.2 629.1L314.2 628.9L315.1 629.4L316.1 629.9L317.1 630.0L318.1 630.1L319.1 630.4L320.1 630.7L321.1 630.5L322.2 630.2L323.2 630.0L324.2 629.8L325.2 629.8L326.2 629.8L327.2 629.4L328.3 629.0L329.2 629.5L330.2 630.1L331.2 630.2L332.2 630.4L333.2 630.6L334.2 630.9L335.2 630.9L336.2 630.9L337.2 631.0L338.2 631.0L339.2 631.0L340.2 631.0L341.2 631.2L342.2 631.4L343.2 631.6L344.2 631.8L345.2 631.4L346.3 631.1L347.2 631.3L348.2 631.5L349.2 631.4L350.3 631.4L351.2 632.0L352.1 632.7L353.1 632.7L354.1 632.8L355.2 632.8L356.2 632.8L357.2 632.6L358.2 632.4L359.2 632.8L360.2 633.2L361.2 633.2L362.2 633.3L363.2 633.5L364.2 633.6L365.2 633.7L366.2 633.8L367.2 634.1L368.1 634.3L369.2 634.3L370.2 634.2L371.1 634.6L372.1 634.9L373.1 634.9L374.1 634.9L375.1 635.0L376.2 635.0L377.1 635.1L378.1 635.3L379.1 635.3L380.2 635.4L381.1 635.7L382.1 636.0L383.1 636.0L384.1 635.9L385.1 636.1L386.1 636.3L387.1 636.3L388.1 636.3L389.2 636.2L390.2 636.2L391.1 636.7L392.1 637.2L393.1 637.0L394.2 636.7L395.1 637.1L396.1 637.5L397.1 637.6L398.1 637.7L399.1 637.4L400.2 637.1L401.2 637.3L402.1 637.5L403.1 637.7L404.1 637.9L405.1 637.9L406.1 637.9L407.1 637.9L408.2 637.9L409.1 638.3L410.1 638.7L411.1 638.6L412.1 638.5L413.1 638.7L414.1 638.9L415.1 638.8L416.1 638.7L417.1 638.9L418.1 639.1L419.2 638.9L420.2 638.8L421.2 639.0L422.2 639.2L423.2 639.3L424.2 639.5L425.2 639.5L426.2 639.4L427.2 639.4L428.2 639.3L429.2 639.3L430.2 639.2L431.2 639.5L432.2 639.7L433.2 639.8L434.2 639.9L435.2 639.8L436.2 639.7L437.2 639.7L438.2 639.6L439.2 639.8L440.2 640.1L441.2 640.5L442.2 640.8L443.2 640.4L444.2 639.9L445.3 640.0L446.3 640.2L447.3 640.2L448.3 640.2L449.3 639.7L450.3 639.2L451.3 639.7L452.3 640.2L453.3 640.1L454.3 640.0L455.3 640.4L456.3 640.7L457.3 640.5L458.3 640.2L459.3 640.1L460.3 640.1L461.3 640.2L462.3 640.3L463.3 640.4L464.3 640.5L465.3 640.3L466.3 640.2L467.3 640.3L468.4 640.4L469.4 640.2L470.4 640.0L471.4 640.2L472.4 640.4L473.4 640.6L474.4 640.8L475.4 641.0L476.4 641.2L477.4 641.0L478.4 640.7" fill="none" stroke="#ff0000" stroke-width="3.40" stroke-linejoin="miter" stroke-miterlimit="2" stroke-linecap="butt"/>
<path d="M59.8 607.1L60.8 607.1L61.8 607.1L62.8 607.2L63.8 607.3L64.8 607.2L65.8 607.1L66.8 606.9L67.8 606.7L68.8 606.7L69.8 606.8L70.8 606.8L71.8 606.8L72.8 606.8L73.8 606.8L74.9 606.8L75.9 606.8L76.9 606.6L77.9 606.4L78.9 606.2L79.9 606.0L80.9 606.2L81.9 606.5L82.9 606.2L83.9 606.0L84.9 606.4L85.9 606.8L86.9 606.8L87.9 606.8L88.9 606.6L89.9 606.3L90.9 606.8L91.9 607.3L92.9 607.4L93.9 607.5L94.9 607.5L95.9 607.4L96.9 607.8L97.8 608.2L98.8 608.3L99.8 608.5L100.9 608.1L101.9 607.6L102.9 608.2L103.8 608.7L104.9 608.7L105.9 608.7L106.9 608.9L107.9 609.0L108.8 609.2L109.8 609.5L110.8 609.3L111.9 609.2L112.9 609.3L113.8 609.5L114.8 609.6L115.8 609.7L116.8 609.9L117.8 610.0L118.8 610.3L119.7 610.6L120.7 610.6L121.8 610.6L122.7 610.8L123.7 611.1L124.6 611.6L125.5 612.1L126.5 612.3L127.5 612.4L128.5 612.7L129.4 613.1L130.5 613.0L131.6 612.8L132.5 613.3L133.4 613.8L134.4 614.1L135.3 614.4L136.2 614.8L137.2 615.2L138.2 615.4L139.2 615.6L140.1 616.1L141.0 616.7L142.0 616.8L143.0 616.9L143.9 617.2L144.9 617.5L145.9 617.8L146.8 618.1L147.8 618.5L148.7 618.9L149.7 619.0L150.7 619.0L151.6 619.6L152.5 620.1L153.5 620.3L154.5 620.4L155.5 620.7L156.5 620.9L157.4 621.2L158.4 621.4L159.3 621.8L160.3 622.2L161.2 622.5L162.1 622.9L163.1 623.2L164.1 623.5L165.1 623.6L166.0 623.8L167.0 624.2L167.9 624.6L168.9 624.8L169.9 624.9L170.8 625.4L171.7 625.9L172.7 626.0L173.8 626.0L174.8 626.0L175.9 625.9L176.7 626.8L177.5 627.7L178.5 627.7L179.5 627.8L180.5 627.9L181.6 628.0L182.5 628.4L183.4 628.9L184.4 629.1L185.4 629.3L186.2 630.1L187.0 630.9L188.0 631.0L189.0 631.0L190.1 631.0L191.2 631.0L192.0 631.7L192.9 632.4L193.9 632.6L194.9 632.7L195.7 633.4L196.5 634.2L197.6 634.0L198.8 633.8L199.8 634.0L200.8 634.1L201.6 634.8L202.5 635.5L203.4 635.7L204.4 635.9L205.4 636.2L206.4 636.4L207.4 636.4L208.4 636.3L209.3 637.0L210.2 637.7L211.1 638.1L212.0 638.5L213.1 638.0L214.2 637.6L215.1 638.3L216.0 639.0L217.0 638.8L218.0 638.6L218.9 639.3L219.9 639.9L220.9 639.7L221.9 639.5L223.0 639.6L224.0 639.6L224.9 639.9L225.9 640.3L226.9 640.3L227.9 640.3L228.9 640.3L230.0 640.2L230.9 640.5L231.9 640.8L233.0 640.7L234.0 640.6L235.0 640.5L236.0 640.3L237.0 641.1L237.9 641.8L239.0 641.5L240.0 641.1L241.0 641.1L242.0 641.1L243.0 641.3L244.0 641.6L245.0 641.3L246.0 640.9L247.0 641.0L248.0 641.0L249.0 641.2L250.0 641.4L251.0 641.4L252.0 641.4L253.0 641.5L254.0 641.6L255.0 641.8L256.0 642.0L257.0 641.8L258.0 641.5L259.0 641.7L260.0 641.9L261.0 641.9L262.0 641.9L263.0 641.6L264.0 641.4L265.0 641.6L266.0 641.8L267.1 641.6L268.1 641.4L269.1 641.8L270.1 642.1L271.1 642.0L272.1 641.9L273.1 641.9L274.1 641.8L275.1 641.6L276.1 641.3L277.1 641.6L278.1 641.8L279.1 641.7L280.1 641.5L281.1 641.8L282.1 642.0L283.1 641.8L284.1 641.6L285.1 641.5L286.1 641.3L287.1 641.6L288.1 641.8L289.1 641.7L290.1 641.6L291.1 641.3L292.1 641.0L293.1 641.2L294.1 641.5L295.1 641.1L296.1 640.8L297.1 640.7L298.1 640.6L299.1 640.5L300.1 640.4L301.0 640.1L302.0 639.8L303.0 639.7L304.0 639.5L305.0 639.4L306.0 639.3L307.0 639.3L308.1 639.4L309.1 639.2L310.1 639.0L311.0 638.5L311.9 638.0L312.9 638.1L314.0 638.3L314.9 637.8L315.8 637.3L316.8 637.1L317.8 637.0L318.8 636.8L319.8 636.7L320.8 636.4L321.7 636.0L322.8 636.1L323.8 636.3L324.7 635.6L325.6 635.0L326.5 634.5L327.4 634.0L328.5 634.2L329.6 634.4L330.5 633.8L331.4 633.3L332.3 633.0L333.3 632.8L334.2 632.1L335.0 631.4L336.2 631.8L337.3 632.2L338.3 631.9L339.2 631.6L340.2 631.3L341.2 631.0L342.1 630.8L343.1 630.6L344.1 630.4L345.1 630.3L346.0 629.7L346.9 629.2L347.9 629.0L348.9 628.9L349.8 628.4L350.7 627.8L351.6 627.6L352.6 627.3L353.6 627.3L354.7 627.2L355.6 626.8L356.5 626.4L357.4 625.8L358.3 625.2L359.3 625.2L360.4 625.2L361.3 624.8L362.2 624.4L363.1 624.0L364.1 623.6L365.1 623.5L366.1 623.5L367.0 623.0L367.9 622.6L368.8 622.1L369.8 621.6L370.7 621.4L371.7 621.2L372.8 621.4L373.9 621.6L374.7 620.8L375.6 620.0L376.6 620.0L377.6 620.1L378.6 619.9L379.6 619.7L380.6 619.4L381.6 619.1L382.4 618.6L383.3 618.0L384.3 617.9L385.3 617.7L386.3 617.6L387.3 617.4L388.3 617.2L389.3 617.1L390.2 616.6L391.1 616.1L392.1 615.7L393.0 615.4L394.1 615.5L395.2 615.6L396.1 615.4L397.1 615.2L398.1 614.8L399.0 614.5L399.9 614.1L400.9 613.7L401.9 613.6L402.9 613.6L403.9 613.3L404.9 613.1L405.9 613.0L406.9 612.9L407.8 612.4L408.7 611.9L409.7 611.9L410.7 612.0L411.7 611.7L412.7 611.5L413.7 611.2L414.6 610.9L415.6 610.9L416.7 611.0L417.7 610.8L418.6 610.6L419.6 610.4L420.6 610.2L421.6 610.2L422.6 610.2L423.6 609.7L424.5 609.2L425.6 609.3L426.6 609.4L427.6 609.4L428.6 609.3L429.6 609.2L430.6 609.0L431.6 609.0L432.6 609.0L433.6 608.5L434.5 608.0L435.5 607.8L436.5 607.6L437.5 607.8L438.5 607.9L439.5 607.9L440.5 607.8L441.6 607.9L442.6 608.1L443.6 607.7L444.5 607.3L445.5 606.9L446.4 606.6L447.5 606.7L448.5 606.9L449.5 606.5L450.4 606.1L451.4 605.9L452.4 605.6L453.5 606.2L454.6 606.8L455.5 606.3L456.5 605.8L457.5 605.8L458.5 605.7L459.5 605.6L460.5 605.5L461.5 605.6L462.5 605.7L463.5 605.3L464.4 604.9L465.4 605.0L466.5 605.1L467.4 604.6L468.4 604.1L469.4 603.9L470.4 603.8L471.4 604.1L472.5 604.5L473.5 604.5L474.5 604.4L475.4 604.1L476.4 603.9L477.4 603.7L478.4 603.6" fill="none" stroke="#0000ff" stroke-width="3.40" stroke-linejoin="miter" stroke-miterlimit="2" stroke-linecap="butt"/>
<path d="M60.5 394.2L60.3 395.8L60.1 397.4L60.5 398.4L61.5 398.8L62.6 399.2L63.4 399.8L64.1 400.5L64.9 401.2L65.7 401.8L66.4 402.5L66.9 403.4L67.4 404.4L68.1 405.1L69.1 405.5L70.0 406.0L70.7 406.7L71.4 407.5L72.5 407.8L73.9 407.6L75.4 407.5L75.5 408.9L75.7 410.2L75.8 411.6L76.0 412.9L76.1 414.3L77.8 413.8L79.6 413.4L80.7 413.6L81.3 414.5L81.9 415.3L82.2 416.4L82.5 417.5L82.9 418.4L83.6 419.2L84.2 419.9L85.0 420.6L85.8 421.2L87.0 421.5L88.5 421.4L90.1 421.4L89.9 423.0L89.6 424.5L90.2 425.3L91.5 425.5L92.9 425.7L93.3 426.6L93.8 427.5L94.1 428.6L94.1 429.9L94.2 431.1L95.1 431.6L96.1 432.1L96.7 433.0L96.9 434.1L97.0 435.3L96.7 436.9L96.4 438.5L97.0 439.3L98.7 439.2L100.3 439.1L101.0 439.9L101.7 440.6L102.7 441.1L104.0 441.2L105.3 441.4L105.9 442.3L106.5 443.1L107.2 443.8L108.0 444.4L108.8 445.1L109.3 446.0L109.7 447.0L110.4 447.7L111.3 448.3L112.1 448.9L112.6 449.8L113.0 450.8L113.5 451.7L113.9 452.6L114.3 453.6L115.3 454.1L116.2 454.7L117.0 455.3L117.8 456.0L118.5 456.7L119.1 457.6L119.6 458.5L119.8 459.6L119.5 461.0L119.2 462.3L119.9 463.1L120.6 463.8L121.0 464.8L121.1 465.9L121.2 467.0L121.6 467.9L122.1 468.7L122.9 469.4L124.0 470.0L125.1 470.5L125.1 471.7L125.0 472.8L125.7 473.6L127.2 474.0L128.6 474.4L127.2 476.2L125.8 477.8L125.5 479.0L126.4 479.7L127.3 480.4L128.4 481.1L129.4 481.7L130.4 482.4L131.2 483.2L132.0 484.0L131.6 485.2L131.2 486.4L131.7 487.3L133.1 487.9L134.6 488.4L134.4 489.6L134.2 490.7L133.9 491.9L133.4 493.1L133.0 494.3L133.7 495.2L134.3 496.0L135.0 496.8L135.6 497.7L136.2 498.5L135.8 499.7L135.4 500.9L135.9 501.8L137.2 502.4L138.5 503.0L138.2 504.2L137.9 505.4L138.0 506.4L138.8 507.2L139.5 508.0L140.0 508.9L140.5 509.8L140.5 510.8L140.2 512.0L139.9 513.2L140.9 513.9L141.9 514.6L141.9 515.7L140.8 517.1L139.6 518.5L141.2 519.1L142.7 519.6L143.0 520.6L142.0 521.9L141.0 523.3L142.9 523.8L144.8 524.2L145.4 525.1L144.9 526.3L144.3 527.5L145.5 528.2L146.7 528.8L147.5 529.6L147.9 530.6L148.3 531.5L147.9 532.7L147.4 533.9L147.2 535.0L147.3 536.1L147.4 537.1L148.6 537.7L149.9 538.4L150.1 539.4L149.2 540.7L148.3 542.1L149.6 542.7L150.9 543.3L151.4 544.2L151.3 545.3L151.1 546.4L151.3 547.4L151.5 548.4L151.6 549.4L151.8 550.4L152.0 551.4L153.5 552.0L154.9 552.6L154.9 553.7L153.5 555.1L152.0 556.5L152.8 557.3L153.5 558.2L154.3 559.1L155.0 560.0L155.7 561.0L156.2 562.0L156.7 563.0L157.2 564.1L157.7 565.1L158.2 566.2L158.2 567.3L158.2 568.4L157.7 569.6L156.9 570.9L156.1 572.1L156.7 573.1L157.3 574.2L157.9 575.2L158.5 576.2L159.0 577.2L158.9 578.2L158.8 579.3L158.3 580.5L157.4 581.7L156.6 582.9L157.7 583.7L158.9 584.4L159.7 585.1L160.1 585.9L160.5 586.7L159.9 587.9L159.2 589.1L159.4 590.0L160.2 590.5L160.9 591.1L161.5 591.6L162.2 592.1L163.1 592.5L164.1 592.6L165.3 592.8L166.4 592.9L167.5 593.1L168.5 593.5L169.4 594.2L170.2 594.9L170.9 595.8L171.4 596.8L171.8 597.7L172.2 598.6L172.6 599.6L172.9 600.6L173.1 601.6" fill="none" stroke="#000000" stroke-width="3.80" stroke-linejoin="round"/>
<path d="M173.1 601.6L173.4 602.6L173.8 603.6L174.2 604.6L174.8 605.4L175.3 606.4L175.8 607.4L176.3 608.6L176.7 609.7L177.5 610.7L178.4 611.7L179.1 612.4L179.9 613.0L180.5 613.1L180.3 613.7L180.2 614.3L180.7 614.3L181.3 613.7L182.1 612.8L183.1 612.0L184.1 611.4L185.2 611.2" fill="none" stroke="#000000" stroke-width="3.20" stroke-linejoin="round"/>
<path d="M185.2 611.2L186.2 611.3L187.1 611.5L188.1 611.4L189.1 611.3L190.2 611.4L191.2 611.6L192.2 611.9L193.2 612.3L194.1 612.7L195.1 613.0L196.2 613.2L197.2 613.3L198.2 613.2L199.2 613.0L200.2 613.0L201.2 613.3L202.2 613.6L203.2 613.4L204.2 613.2L205.2 612.9L206.2 612.7L207.1 612.5L208.2 612.7L209.2 612.9L210.2 613.2L211.2 613.6L212.2 613.9L213.2 613.3L214.2 612.6L215.2 612.4L216.2 612.8L217.2 613.2L218.2 613.2L219.2 613.2L220.2 613.1L221.3 613.1L222.3 613.1L223.2 612.4L224.2 611.8L225.2 611.8L226.2 612.4L227.3 613.0L228.2 612.5L229.2 612.0L230.2 611.7L231.2 611.6L232.2 611.4L233.2 611.4L234.2 611.3L235.2 611.4L236.2 611.5L237.2 611.7L238.2 611.5L239.2 611.3L240.2 611.2L241.2 611.0L242.2 610.9L243.2 611.2L244.3 611.5L245.3 611.4L246.2 610.9L247.2 610.3L248.2 610.2L249.2 610.1L250.2 610.2L251.2 610.6L252.3 611.0L253.3 610.9L254.3 610.8L255.3 610.8L256.3 610.9L257.3 610.9L258.3 610.4L259.2 609.8L260.2 609.8L261.3 610.3L262.3 610.8L263.3 610.6L264.3 610.4L265.3 610.5L266.3 610.8L267.3 611.1L268.3 610.3L269.3 609.6L270.3 609.4L271.3 609.8L272.3 610.2L273.3 610.1L274.3 610.0L275.3 609.8L276.3 609.6L277.3 609.3L278.3 609.6L279.3 609.9L280.3 610.3L281.3 610.8L282.2 611.3L283.2 611.0L284.3 610.7L285.3 610.6L286.3 610.6L287.3 610.6L288.3 611.1L289.2 611.6L290.2 611.9L291.2 612.0L292.2 612.1L293.2 612.2L294.2 612.3L295.2 612.2L296.3 611.9L297.3 611.5L298.3 611.8L299.3 612.1L300.2 612.5L301.2 612.8L302.2 613.2L303.2 613.0L304.3 612.7L305.3 612.6L306.3 612.7L307.3 612.9L308.2 613.4L309.2 613.9L310.1 614.3L311.1 614.6L312.1 614.9L313.2 614.4L314.2 613.8L315.3 613.5L316.3 613.2L317.3 613.0L318.3 613.3L319.3 613.7L320.2 614.0L321.2 614.1L322.2 614.3L323.2 614.5L324.2 614.8L325.2 615.0L326.2 615.2L327.2 615.4L328.2 615.2L329.2 615.0L330.2 614.8L331.2 614.7L332.3 614.5L333.3 614.7L334.4 614.9L335.4 614.9L336.4 614.6L337.5 614.3L338.5 614.5L339.6 614.6L340.6 614.6L341.7 614.5L342.7 614.3L343.8 615.0L344.8 615.8L345.9 615.9L346.9 615.4L347.9 614.9L348.8 614.4L349.8 613.9L350.8 613.6L351.8 613.5L352.7 613.4L353.7 613.5L354.6 613.5L355.6 613.3L356.5 612.9L357.3 612.5L358.2 612.7" fill="none" stroke="#000000" stroke-width="2.50" stroke-linejoin="round"/>
<path d="M358.2 612.7L359.1 612.8L360.0 612.7L360.8 612.3L361.6 611.8L362.7 611.5L363.8 611.1L364.7 610.4L365.1 609.4L365.5 608.4L365.9 607.6L366.3 606.8L366.6 605.9L366.9 605.1L367.2 604.1" fill="none" stroke="#000000" stroke-width="3.20" stroke-linejoin="round"/>
<path d="M367.2 604.1L367.6 603.3L368.0 602.4L368.5 601.6L369.2 600.8L369.9 599.9L370.2 598.9L370.5 597.9L371.0 597.0L371.8 596.1L372.5 595.3L372.3 594.1L372.1 592.9L372.4 591.9L373.4 591.2L374.3 590.5L374.5 589.5L374.6 588.5L374.9 587.5L375.4 586.6L375.8 585.7L375.7 584.4L375.7 583.1L376.0 582.1L376.9 581.4L377.7 580.8L378.9 580.4L380.2 580.0L381.3 579.5L382.0 578.8L382.8 578.0L382.8 576.9L382.7 575.7L382.9 574.8L383.5 573.9L384.1 573.1L383.9 572.0L383.7 570.9L383.7 569.9L384.0 569.0L384.2 568.0L384.4 567.0L384.5 566.0L385.0 565.2L386.0 564.4L387.0 563.6L387.0 562.5L386.9 561.5L386.8 560.4L386.7 559.4L386.7 558.4L386.8 557.4L387.0 556.4L387.3 555.4L388.0 554.5L388.6 553.6L388.7 552.5L388.7 551.5L388.6 550.5L388.2 549.3L387.8 548.2L389.3 547.5L390.7 546.7L391.2 545.8L390.7 544.6L390.1 543.5L390.2 542.5L390.3 541.5L390.8 540.5L391.8 539.7L392.7 538.9L392.7 537.9L392.7 536.8L392.5 535.8L392.2 534.7L391.9 533.5L392.5 532.7L393.1 531.8L393.1 530.8L392.6 529.6L392.0 528.4L392.5 527.5L393.0 526.6L393.0 525.5L392.5 524.3L392.0 523.1L394.0 522.6L396.0 522.2L396.4 521.3L395.2 519.8L393.9 518.4L395.5 517.8L397.1 517.3L397.7 516.4L397.3 515.2L396.8 514.0L397.1 513.0L397.4 512.1L397.8 511.2L398.6 510.3L399.3 509.5L399.9 508.7L400.4 507.8L401.0 507.0L401.5 506.1L402.0 505.2L403.0 504.5L403.9 503.8L404.2 502.9L403.9 501.7L403.6 500.5L404.2 499.7L404.9 498.9L405.1 497.9L404.8 496.7L404.5 495.4L405.6 494.8L406.6 494.3L407.3 493.4L407.5 492.4L407.6 491.4L407.8 490.4L408.0 489.3L408.4 488.4L409.0 487.6L409.7 486.8L410.2 485.9L410.7 485.0L411.2 484.2L411.8 483.4L412.4 482.5L413.0 481.7L413.5 480.9L413.8 479.9L413.9 478.8L413.9 477.7L414.2 476.7L414.6 475.8L415.3 475.0L416.5 474.5L417.6 473.9L416.9 472.4L416.2 471.0L416.3 469.9L417.3 469.3L418.2 468.6L419.7 468.2L421.2 467.8L421.1 466.7L419.5 464.8L417.9 462.9L419.3 462.4L420.7 462.0L422.0 461.5L423.1 460.9L424.2 460.3L423.5 458.9L422.8 457.4L423.7 456.8L426.2 456.9L428.7 457.0L426.6 454.9L424.6 452.7L424.8 451.7L427.1 451.8L429.5 451.8L430.0 451.0L430.5 450.1L430.9 449.2L431.0 448.2L431.2 447.1L431.1 445.9L431.1 444.8L431.4 443.8L432.2 443.1L432.9 442.4L432.8 441.2L432.7 440.0L433.3 439.1L434.6 438.7L435.9 438.2L435.5 436.8L435.0 435.4L435.3 434.4L436.2 433.7L437.1 433.0L438.2 432.5L439.3 431.9L439.6 430.9L439.1 429.5L438.6 428.0L439.5 427.3L440.3 426.7L441.2 426.0L442.0 425.3L442.7 424.6L442.6 423.3L442.5 422.0L443.3 421.3L445.0 421.3L446.6 421.3L446.9 420.3L447.1 419.3L447.1 418.0L447.0 416.6L446.9 415.2L448.1 415.0L449.4 414.9L450.2 414.3L450.7 413.3L451.2 412.4L452.0 411.8L452.8 411.1L453.7 410.7L454.8 410.4L455.8 410.0L456.3 409.1L456.9 408.1L457.9 407.7L459.3 407.9L460.6 408.0L460.9 406.7L461.2 405.3L462.1 404.8L463.4 405.0L464.8 405.1L465.3 404.1L465.8 403.1L466.6 402.5L467.7 402.3L468.8 402.2L469.2 401.0L469.6 399.8L470.3 398.9L471.1 398.4L472.0 397.9L472.6 397.1L473.3 396.2L474.3 396.0L475.7 396.3L477.1 396.6L478.0 396.3L479.0 396.0" fill="none" stroke="#000000" stroke-width="3.80" stroke-linejoin="round"/>
</g>
<path d="M59.6 605L59.6 591M478.9 604L478.9 597" stroke="#0000ff" stroke-width="3.6" stroke-dasharray="0.01 4.4" stroke-linecap="round" fill="none"/>
<path d="M59.6 641L59.6 628M478.9 641L478.9 630" stroke="#ff0000" stroke-width="3.6" stroke-dasharray="0.01 4.4" stroke-linecap="round" fill="none"/>
<g clip-path="url(#clipd)">
<path d="M581.7 544.3L582.1 543.4L582.6 542.5L583.4 541.8L583.9 541.0L584.8 540.5L585.4 539.7L585.9 538.7L586.6 538.0L587.6 537.6L588.1 536.7L588.8 535.9L589.7 535.5L590.2 534.5L591.0 533.9L591.7 533.2L592.3 532.3L593.4 532.0L593.8 531.0L594.7 530.4L595.4 529.8L596.3 529.3L597.0 528.5L597.8 527.9L598.3 527.0L599.3 526.6L599.9 525.7L600.9 525.3L601.7 524.7L602.4 524.0L603.5 523.7L604.1 522.9L604.9 522.3L605.6 521.6L606.4 521.0L607.4 520.6L608.2 520.1L608.8 519.1L609.9 519.0L610.6 518.3L611.5 517.8L612.3 517.2L613.0 516.4L613.8 515.9L615.0 515.8L615.7 515.0L616.4 514.2L617.4 514.0L618.2 513.4L619.0 512.6L619.8 512.0L620.7 511.7L621.8 511.5L622.6 510.9L623.5 510.4L624.4 510.0L625.3 509.6L625.9 508.6L627.0 508.4L627.8 507.9L628.6 507.3L629.6 506.9L630.5 506.5L631.4 506.0L632.2 505.3L633.2 505.0L634.3 505.0L634.9 504.0L635.8 503.4L636.8 503.4L637.8 503.0L638.7 502.5L639.4 501.8L640.5 501.8L641.3 501.1L642.2 500.6L643.2 500.3L644.1 500.1L645.1 499.9L646.0 499.5L646.9 499.1L647.9 498.9L648.8 498.4L649.8 498.3L650.6 497.5L651.6 497.2L652.7 497.3L653.5 496.6L654.6 496.5L655.5 496.3L656.5 495.9L657.5 495.7L658.5 495.8L659.3 494.7L660.4 495.1L661.5 495.1L662.4 494.5L663.3 494.2L664.3 494.1L665.4 494.1L666.2 493.3L667.2 493.3L668.2 493.0L669.2 492.9L670.2 492.6L671.2 492.5L672.1 492.1L673.1 491.9L674.0 491.6L675.0 491.4L676.0 491.3L677.0 491.1L678.0 490.7L679.1 491.0L680.0 490.5L680.9 490.1L682.0 490.4L682.9 489.9L684.0 489.9L684.9 489.7L685.9 489.6L686.9 489.4L687.9 489.1L688.9 489.1L690.0 489.3L690.8 488.3L691.9 488.6L692.9 488.5L693.8 488.0L694.8 487.8L695.9 488.4L696.8 487.7L697.9 488.0L698.9 487.6L699.8 487.4L700.9 487.3L701.9 487.2L702.9 487.2L703.8 487.0L704.8 486.9L705.8 486.8L706.8 487.0L707.8 486.9L708.8 486.5L709.8 486.6L710.8 486.8L711.8 486.6L712.8 486.6L713.9 486.5L714.9 486.7L715.9 486.8L716.9 487.0L717.9 486.8L718.9 487.2L719.9 486.8L720.9 487.5L721.9 487.1L722.9 487.0L723.9 486.9L725.0 486.4L725.9 487.0L726.9 487.1L727.9 487.5L728.9 486.9L729.9 487.6L730.9 487.2L731.9 487.5L733.0 487.0L733.8 487.7L734.9 487.8L735.8 488.3L736.8 488.4L737.8 488.5L738.7 489.2L739.7 489.4L740.6 489.7L741.6 490.1L742.5 490.4L743.5 490.5L744.6 490.6L745.5 490.9L746.3 491.7L747.3 492.0L748.3 492.2L749.3 492.5L750.2 492.9L751.2 493.3L752.1 493.7L753.1 494.0L753.8 495.0L754.8 495.0L755.8 495.4L756.7 495.7L757.5 496.3L758.2 497.0L759.0 497.6L759.9 498.0L760.7 498.6L761.5 499.2L762.4 499.7L762.8 500.7L763.7 501.3L764.2 502.3L765.3 502.6L766.0 503.4L766.5 504.3L767.4 504.9L768.2 505.4L768.8 506.2L769.3 507.1L769.9 507.9L770.6 508.6L771.1 509.5L771.7 510.3L772.4 511.0L773.1 511.8L773.7 512.6L774.2 513.5L774.7 514.4L775.4 515.1L775.9 516.0L776.6 516.7L777.3 517.5L777.8 518.4L778.1 519.4L778.7 520.2L779.0 521.2L779.8 521.9L780.2 522.8L780.6 523.7L781.2 524.5L782.0 525.3L782.4 526.2L782.8 527.1L783.5 527.9L783.7 528.9L784.0 529.8L784.8 530.6L784.8 531.7L785.7 532.4L786.2 533.2L786.7 534.1L787.3 534.9L787.7 535.9L788.3 536.6L788.6 537.7L789.4 538.3L790.0 539.1L790.8 539.8L791.6 540.4L792.1 541.3L792.9 542.0L793.2 543.0L794.0 543.6L794.4 544.6L795.2 545.3L795.7 546.1L796.4 546.9L797.0 547.7L797.5 548.6L798.0 549.4L798.8 550.1L799.1 551.1L799.3 552.1L800.3 552.7L800.8 553.5L801.4 554.4L802.1 555.1L802.2 556.3L802.9 557.0L803.3 557.9L803.6 558.9L804.0 559.9L805.1 560.4L805.3 561.4L805.8 562.3L806.4 563.1L806.9 564.0L807.5 564.8L807.7 565.8L808.4 566.6L808.9 567.5L809.2 568.5L809.7 569.3L810.3 570.2L810.8 571.1L811.0 572.1L811.7 572.9L812.3 573.7L812.9 574.5L813.3 575.4L813.9 576.2L814.3 577.2L814.8 578.0L815.7 578.6L816.0 579.6L816.5 580.5L817.2 581.2L818.0 581.9L818.2 582.9L819.2 583.5L819.9 584.2L820.6 585.0L821.1 585.9L821.7 586.8L822.4 587.6L823.3 588.2L824.2 588.7L824.9 589.5L825.7 590.1L826.3 590.8L827.3 591.2L827.9 592.1L828.6 592.7L829.5 593.0L830.3 593.6L831.2 593.8L832.1 594.2L833.0 594.7L833.7 595.5L834.6 595.9L835.7 596.0L836.5 596.7L837.6 596.8L838.4 597.5L839.5 597.7L840.5 597.8L841.4 598.4L842.5 598.4L843.5 598.6L844.5 598.8L845.4 599.4L846.4 599.5L847.4 599.7L848.3 599.8L849.3 600.4L850.3 600.2L851.3 600.3L852.2 600.8L853.2 601.0L854.2 601.0L855.3 600.7L856.3 601.1L857.2 601.5L858.3 601.5L859.2 601.9L860.3 601.4L861.3 601.9L862.3 601.7L863.3 602.1L864.3 601.9L865.3 602.1L866.3 601.8L867.3 601.6L868.3 601.6L869.3 601.7L870.3 601.5L871.3 601.9L872.3 601.8L873.3 601.5L874.3 601.1L875.3 601.2L876.3 600.9L877.4 601.2L878.3 600.9L879.3 600.8L880.3 600.4L881.2 600.0L882.3 600.1L883.2 599.8L884.3 600.0L885.3 599.8L886.2 599.4L887.2 599.3L888.2 599.5L889.1 598.8L890.1 598.6L891.1 598.5L892.0 598.1L893.0 597.9L894.0 597.8L895.0 597.8L895.8 596.8L896.8 596.8L897.8 596.5L898.8 596.2L899.7 595.8L900.6 595.5L901.7 595.4L902.5 594.8L903.5 594.5L904.5 594.2L905.4 593.9L906.4 593.5L907.4 593.3L908.3 592.8L909.3 592.5L910.2 592.1L911.1 591.6L912.1 591.3L913.0 591.0L914.0 590.9L914.9 590.4L915.9 590.1L916.9 590.0L917.9 589.8L918.7 589.1L919.9 589.5L920.8 588.9L921.7 588.6L922.8 588.5L923.7 588.1L924.6 587.7L925.7 587.9L926.5 587.0L927.5 586.9L928.6 586.8L929.4 586.2L930.4 586.1L931.4 585.9L932.5 586.0L933.3 585.1L934.3 584.9L935.3 584.8L936.2 584.4L937.1 583.8L938.1 583.8L939.1 583.4L940.0 583.2L941.0 583.0L942.0 582.6L942.9 582.1L943.8 581.8L944.6 581.2L945.6 581.0L946.5 580.7L947.4 580.2L948.4 579.9L949.2 579.3L950.3 579.3L951.3 579.0L952.0 578.1L953.0 577.8L953.8 577.3L954.9 577.1L955.7 576.5L956.6 576.0L957.4 575.5L958.4 575.1L959.2 574.4L960.2 574.3L961.0 573.6L962.0 573.3L962.8 572.7L963.8 572.4L964.6 571.8L965.6 571.4L966.3 570.6L967.3 570.4L968.1 569.7L969.0 569.3L969.8 568.8L970.8 568.5L971.4 567.4L972.5 567.3L973.1 566.5L974.3 566.4L974.8 565.4L975.7 565.0L976.5 564.4L977.7 564.4L978.2 563.3L979.2 563.0L980.0 562.3L980.7 561.6L981.7 561.2L982.6 560.8L983.3 560.1L984.3 559.7L985.0 558.9L985.8 558.4L986.6 557.8L987.5 557.3L988.5 557.0L989.1 556.1L989.9 555.5L990.7 554.8L991.5 554.2L992.5 554.0L993.1 553.0L993.9 552.4L994.8 552.0L995.6 551.3L996.7 551.1L996.9 549.8L998.1 549.6L998.9 549.1L999.5 548.2L1000.3 547.7L1001.3 547.2L1002.2 546.8L1002.7 545.8L1003.4 545.1L1004.5 544.9" fill="none" stroke="#0000ff" stroke-width="4.00" stroke-linejoin="miter" stroke-miterlimit="2" stroke-linecap="round" stroke-dasharray="2.8 5.6"/>
<path d="M581.1 541.3L582.4 542.7L583.6 544.1L584.6 544.5L585.6 543.7L586.5 542.9L587.5 543.4L588.5 544.0L589.5 544.0L590.5 543.5L591.5 543.0L592.5 543.0L593.5 543.0L594.6 543.1L595.6 543.3L596.6 543.5L597.3 544.6L598.1 545.6L599.0 546.3L599.9 546.5L600.8 546.8L602.2 545.5L603.7 544.4L604.8 544.2L605.6 545.0L606.4 545.9L606.9 547.4L607.4 548.9L608.3 549.4L609.6 549.0L610.9 548.5L612.0 548.6L613.1 548.7L614.0 549.2L614.6 550.2L615.2 551.3L616.1 551.7L616.9 552.2L617.8 552.7L618.6 553.2L619.4 553.8L620.3 554.3L621.1 554.9L621.9 555.5L622.6 556.3L623.3 557.0L624.1 557.7L624.9 558.3L625.5 559.1L626.0 560.1L626.4 561.2L627.5 561.7L628.6 562.4L629.5 563.2L630.0 564.3L630.5 565.3L631.1 566.2L631.7 566.9L632.2 567.8L632.7 568.8L633.6 569.7L634.9 569.1L635.6 567.9L636.1 566.6L636.7 565.7L637.3 565.3L637.9 565.8L638.4 566.6L639.0 567.4L639.6 568.3L640.3 569.3L640.7 570.4L641.0 571.5L641.4 572.3L642.1 573.1L642.8 573.8L642.7 574.9L642.6 576.0L642.8 577.0L643.4 577.8L643.9 578.7L644.8 579.4L645.8 580.1L646.5 580.9L647.0 581.8L647.5 582.7L647.4 583.9L647.2 585.0L647.5 586.0L648.0 586.9L648.6 587.7L649.3 588.6L649.9 589.5L650.7 590.5L651.7 591.3L652.7 592.1L653.2 593.0L653.8 593.8L653.9 594.7L653.5 595.9L653.4 597.2L654.0 597.9L654.8 598.5L655.9 598.8L657.0 599.0L657.9 599.2L658.8 598.7L660.1 598.5L660.6 599.3L660.2 600.6L659.7 601.9L660.7 602.5L661.8 603.2L662.2 604.2L662.2 605.4L662.1 606.7L662.4 607.8L662.8 608.9L663.4 609.9L664.2 610.8L665.1 611.5L665.4 612.5L665.7 613.4L666.4 614.2L667.4 614.8L668.4 615.4L668.4 616.6L668.4 617.7L668.8 618.6L669.6 619.4L670.4 620.1L670.0 621.5L669.5 622.8L669.6 623.9L670.1 624.7L670.6 625.6L670.7 626.6L670.7 627.7L670.9 628.6L671.4 629.5L671.9 630.3L672.6 631.3L673.3 632.4L673.5 633.7L673.3 635.1L673.0 636.4L673.6 637.7L674.1 638.8L674.2 640.0L673.9 641.1L673.7 642.1L674.0 642.8L674.4 643.3L675.0 643.4L674.9 643.0L674.5 642.4L675.2 641.6L675.9 640.5L676.4 639.2L676.8 637.8L677.1 636.4L677.2 635.2L677.4 634.2L677.8 633.7L678.0 634.2L677.6 634.5L677.4 634.8L677.2 635.3L677.6 635.7L678.7 636.2L679.7 636.9L679.9 637.8L680.1 638.9L680.7 640.0L681.7 641.0L682.7 642.2L681.9 643.6L681.2 645.0L681.0 646.4L681.3 647.7L681.6 648.9L682.5 650.1L683.4 651.2L683.4 652.4L682.5 653.7L681.6 654.9L681.7 655.9L681.7 657.0L682.1 658.0L682.8 659.1L683.5 660.1L683.5 661.3L683.5 662.4L683.6 663.5L684.0 664.5L684.5 665.5L683.9 666.6L683.3 667.7L683.7 668.6L684.9 669.1L686.1 669.3L685.8 670.0L685.8 670.8L686.4 672.0L687.1 673.5L688.2 674.8L689.6 673.9L690.0 672.6L690.3 671.7L690.9 670.8L691.5 669.8L691.6 668.4L691.7 667.0L691.7 665.5L691.6 664.1L691.5 662.6L692.3 661.5L693.2 660.6L693.8 659.9L694.3 659.4L694.6 659.4L695.0 659.0L696.0 659.2L696.4 660.1L696.1 661.4L695.9 662.8L695.8 664.2L695.8 665.7L696.0 667.1L696.5 668.4L697.0 669.6L698.5 670.0L699.7 669.6L699.6 669.1L699.8 669.3L700.5 669.2L701.2 668.5L701.9 667.6L703.1 667.3L704.7 667.5L706.3 667.6L706.8 666.7L707.2 665.8L707.8 665.0L708.3 664.1L708.9 663.3L708.7 662.0L708.6 660.8L708.7 659.7L709.0 658.7L709.3 657.7L710.3 657.0L711.2 656.3L711.9 655.5L712.4 654.6L713.0 653.8L713.2 652.7L713.4 651.6L713.9 650.8L714.9 650.3L715.8 649.7L716.6 649.0L717.4 648.4L718.0 647.6L718.5 646.7L718.9 645.8L719.1 644.7L719.3 643.5L719.6 642.4L719.8 641.3L720.1 640.2L721.4 640.0L722.6 639.7L723.7 639.3L724.4 638.6L725.2 637.9L725.7 637.0L726.2 636.1L726.7 635.2L727.2 634.4L727.8 633.6L728.3 632.7L728.8 631.8L729.6 631.2L730.7 630.8L731.8 630.4L732.2 629.4L732.5 628.4L733.1 627.5L733.7 626.8L734.4 626.0L734.6 624.9L734.9 623.8L735.4 622.9L736.1 622.3L736.8 621.6L737.7 621.0L738.6 620.4L739.2 619.6L739.4 618.5L739.6 617.4L740.1 616.5L740.7 615.6L741.4 614.9L742.4 614.4L743.3 613.9L744.5 613.5L745.6 613.2L746.4 612.5L746.7 611.4L747.0 610.4L748.0 610.0L749.1 609.5L749.7 608.7L749.8 607.5L749.9 606.3L750.4 605.5L751.0 604.6L751.4 603.7L751.7 602.6L751.9 601.5L752.8 600.9L753.7 600.4L754.8 600.0L756.1 599.7L757.4 599.4L757.6 598.3L757.8 597.2L758.2 596.3L759.0 595.6L759.7 594.9L760.3 594.0L760.8 593.2L761.3 592.3L761.6 591.3L761.9 590.3L762.3 589.4L762.8 588.5L763.4 587.7L764.1 586.9L764.8 586.2L765.5 585.4L766.3 584.7L766.9 583.9L767.3 583.0L767.8 582.1L768.4 581.3L768.9 580.5L769.4 579.6L769.8 578.7L770.2 577.7L770.4 576.7L770.6 575.6L771.1 574.7L771.8 574.0L772.5 573.3L772.8 572.2L773.0 571.2L773.8 570.5L775.1 570.1L776.3 569.7L775.6 568.1L775.0 566.6L775.3 565.6L776.5 565.1L777.7 564.7L779.2 564.4L780.7 564.2L781.2 563.3L780.7 561.9L780.3 560.4L780.5 559.3L780.8 558.3L781.4 557.5L782.4 556.9L783.3 556.4L784.3 555.8L785.4 555.3L785.9 554.5L785.9 553.3L786.0 552.1L786.8 551.5L787.7 550.8L788.3 550.0L788.6 549.1L789.0 548.1L789.4 547.2L789.8 546.2L790.9 545.8L792.8 545.8L794.6 545.9L794.1 544.3L793.5 542.7L793.4 541.4L793.8 540.4L794.1 539.5L794.7 538.6L795.3 537.8L796.0 537.1L796.9 536.5L797.8 535.9L798.4 535.1L799.0 534.3L799.6 533.5L800.3 532.8L801.0 532.0L801.4 531.1L801.7 530.1L801.9 529.0L801.9 527.8L801.9 526.5L803.2 526.2L804.5 525.9L805.3 525.2L805.5 524.2L805.8 523.2L806.4 522.3L807.0 521.5L807.3 520.6L807.5 519.4L807.6 518.3L808.5 517.7L809.4 517.1L810.1 516.4L810.6 515.5L811.2 514.7L812.0 514.0L812.8 513.4L813.2 512.5L813.3 511.3L813.3 510.1L814.5 509.6L815.6 509.2L816.4 508.6L817.0 507.8L817.6 507.0L817.8 505.8L817.9 504.7L818.3 503.8L819.1 503.1L819.8 502.4L820.3 501.5L820.8 500.6L821.7 500.0L822.9 499.6L824.1 499.3L823.5 497.6L822.8 495.9L823.2 494.9L824.6 494.7L826.0 494.4L826.1 493.3L826.3 492.1L826.9 491.3L827.9 490.9L829.0 490.4L830.1 490.0L831.1 489.5L831.7 488.7L831.8 487.5L832.0 486.4L832.9 485.8L833.7 485.2L834.3 484.4L834.6 483.3L834.9 482.3L836.5 482.3L838.1 482.2L839.0 481.7L839.2 480.6L839.5 479.5L840.2 478.8L840.8 478.0L841.0 476.9L840.7 475.4L840.4 474.0L841.1 473.3L841.7 472.5L842.7 471.9L844.0 471.6L845.4 471.3L845.5 470.2L845.5 469.0L845.8 468.0L846.3 467.1L846.9 466.3L847.6 465.6L848.4 464.9L848.8 464.0L848.8 462.7L848.8 461.5L850.1 461.2L851.5 460.9L852.3 460.3L852.6 459.3L853.0 458.3L853.7 457.7L854.5 457.0L855.0 456.1L855.2 455.0L855.5 453.9L856.5 453.4L857.5 453.0L858.2 452.2L858.4 451.1L858.6 450.0L859.8 449.6L861.0 449.3L861.9 448.8L862.6 448.0L863.3 447.3L863.8 446.4L864.4 445.6L864.9 444.7L865.3 443.8L865.8 442.9L866.4 442.1L867.1 441.3L867.1 440.1L866.5 438.4L865.9 436.8L867.7 436.8L869.6 436.9L870.6 436.4L870.7 435.3L870.9 434.2L871.6 433.5L872.3 432.8L872.9 431.9L873.4 431.0L873.8 430.1L874.0 429.0L874.2 427.9L874.7 427.1L875.6 426.5L876.5 425.9L877.5 425.4L878.5 424.8L879.5 424.3L880.3 423.6L881.2 423.0L881.0 421.7L880.9 420.3L881.1 419.2L881.7 418.4L882.3 417.5L883.7 417.5L885.3 417.4L886.1 416.5L886.1 414.9L886.3 413.4L888.0 413.5L889.6 413.8L890.4 413.5L890.5 412.3L890.7 411.3L891.4 410.9L892.3 411.0L892.7 411.8L892.3 413.1L891.9 414.4L891.9 415.6L891.9 417.0L892.7 418.3L894.4 419.3L896.0 420.3L895.1 421.8L894.2 423.4L894.5 424.5L895.7 424.8L896.6 424.4L897.4 425.0L898.7 425.0L899.6 424.1L900.0 422.6L900.3 421.1L900.8 419.9L901.6 418.9L903.1 419.1L903.3 420.4L902.9 421.6L903.1 422.5L903.3 423.6L903.2 424.8L903.0 426.2L902.8 427.5L903.3 428.7L903.7 429.7L904.2 430.6L904.9 431.4L905.6 432.3L906.2 433.2L906.8 434.1L907.3 435.0L907.6 436.0L907.9 436.9L908.0 437.9L908.1 438.9L908.4 439.9L908.8 440.8L909.2 441.8L909.2 442.8L909.2 443.8L909.8 444.7L911.0 445.4L912.2 446.2L911.3 447.4L910.4 448.7L910.1 449.8L910.4 450.7L910.8 451.7L909.9 453.0L909.1 454.2L909.2 455.2L910.2 456.0L911.3 456.8L912.1 457.6L912.9 458.4L913.2 459.3L913.0 460.4L912.9 461.5L913.9 462.3L915.0 463.0L915.5 463.9L915.5 464.9L915.5 466.0L916.4 466.8L917.2 467.6L917.0 468.7L915.9 470.0L914.8 471.4L915.5 472.3L916.1 473.1L917.0 473.9L918.0 474.7L919.1 475.4L918.9 476.5L918.8 477.6L918.6 478.7L918.6 479.8L918.5 480.9L919.0 481.8L919.5 482.6L920.0 483.5L920.4 484.4L920.9 485.3L921.7 486.1L922.7 486.9L923.3 487.8L923.6 489.0L923.9 490.1L924.1 491.4L924.2 492.7L924.3 493.9L924.4 495.2L924.6 496.5L925.8 497.4L927.0 498.2L927.9 499.0L928.5 499.9L929.1 500.7L928.7 502.1L928.4 503.4L929.0 504.2L930.2 504.2L931.3 504.0L931.4 505.0L931.7 506.1L932.5 506.5L933.4 505.8L934.0 504.8L934.9 504.0L935.9 503.1L936.8 502.5L937.3 502.5L937.2 502.9L937.4 502.5L938.0 502.3L938.6 502.6L939.1 503.1L939.6 503.8L940.8 504.1L942.0 504.6L942.8 505.5L943.3 506.5L943.8 507.6L943.8 509.0L943.8 510.3L944.0 511.7L944.2 512.9L944.5 514.2L945.2 515.2L945.9 516.1L946.4 517.2L946.8 518.3L947.2 519.3L948.6 519.4L949.9 519.5L951.0 519.9L951.7 520.6L952.5 521.3L953.0 522.2L953.5 523.2L954.3 523.8L955.4 524.2L956.4 524.5L957.2 525.1L958.0 525.7L959.0 526.2L960.0 526.4L961.1 526.7L961.4 528.0L961.7 529.3L962.5 529.9L963.8 529.7L965.1 529.4L965.6 530.5L966.1 531.6L967.0 532.1L968.3 531.8L969.5 531.5L969.9 533.0L970.3 534.4L971.1 534.9L972.5 534.6L973.8 534.1L974.3 535.3L974.9 536.5L975.9 536.8L977.2 536.3L978.6 535.7L979.3 536.6L980.0 537.4L980.7 538.4L981.3 539.5L981.9 540.5L983.2 540.2L984.5 539.8L985.5 540.1L986.3 540.9L987.0 541.7L988.0 541.9L989.0 542.1L990.2 542.0L991.4 541.7L992.5 541.3L993.0 542.6L993.6 544.0L994.4 544.9L995.4 545.1L996.3 545.4L997.4 544.9L998.5 544.3L999.5 544.5L1000.4 545.4L1001.3 546.2L1002.4 545.7L1003.4 545.2L1004.4 544.9" fill="none" stroke="#000000" stroke-width="3.60" stroke-linejoin="miter" stroke-miterlimit="2" stroke-linecap="butt"/>
<path d="M581.5 544.4L582.5 544.5L583.5 544.5L584.4 545.4L585.2 546.2L586.4 545.6L587.5 545.0L588.4 545.7L589.3 546.4L590.3 546.6L591.2 546.9L592.4 546.4L593.5 545.9L594.4 546.2L595.4 546.4L596.3 547.1L597.2 547.8L598.2 547.7L599.3 547.7L600.2 548.1L601.2 548.4L602.1 548.8L603.1 549.1L604.1 548.9L605.2 548.8L606.2 548.8L607.2 548.8L608.3 548.6L609.3 548.4L610.2 549.2L611.1 550.0L612.1 549.9L613.1 549.9L614.1 550.3L615.0 550.7L616.0 550.8L617.0 551.0L618.1 550.7L619.1 550.5L620.0 551.3L621.0 552.1L622.0 552.1L623.0 552.0L624.0 552.0L625.0 552.1L626.0 551.7L627.1 551.3L628.0 551.6L629.0 551.8L630.0 551.9L631.0 551.9L632.0 552.0L633.0 552.1L634.1 552.1L635.1 552.0L636.0 552.4L637.0 552.8L638.0 552.8L639.0 552.8L640.0 552.9L641.0 553.0L642.1 552.8L643.1 552.7L644.1 553.1L645.0 553.5L646.1 553.3L647.1 553.1L648.1 552.4L649.1 551.8L650.1 552.2L651.1 552.7L652.1 552.8L653.1 552.9L654.1 553.1L655.1 553.2L656.1 552.9L657.1 552.5L658.1 552.5L659.1 552.4L660.1 552.2L661.0 552.0L662.1 552.2L663.1 552.4L664.1 552.1L665.0 551.7L666.0 551.6L667.0 551.4L668.0 551.3L669.0 551.2L670.1 551.4L671.1 551.5L672.1 551.2L673.0 550.9L674.0 550.5L675.0 550.2L676.1 550.6L677.1 551.0L678.1 550.7L679.1 550.3L680.1 550.5L681.1 550.6L682.1 550.6L683.1 550.5L684.1 550.6L685.1 550.7L686.1 550.6L687.1 550.5L688.1 550.1L689.1 549.6L690.1 549.6L691.1 549.7L692.1 549.3L693.0 549.0L694.1 549.6L695.1 550.2L696.1 549.9L697.1 549.5L698.1 549.6L699.1 549.8L700.1 549.3L701.1 548.9L702.1 548.4L703.0 548.0L704.1 548.7L705.1 549.4L706.1 549.0L707.1 548.7L708.1 548.6L709.1 548.5L710.1 548.5L711.1 548.4L712.1 548.4L713.1 548.5L714.1 548.4L715.1 548.3L716.1 547.8L717.1 547.2L718.1 547.7L719.1 548.3L720.1 547.8L721.1 547.4L722.1 547.3L723.1 547.3L724.1 547.7L725.2 548.1L726.2 547.9L727.1 547.6L728.1 547.3L729.1 546.9L730.1 546.5L731.1 546.1L732.1 546.5L733.1 546.9L734.1 547.0L735.1 547.0L736.1 546.8L737.1 546.6L738.1 546.3L739.1 546.0L740.1 546.1L741.1 546.1L742.1 546.0L743.1 545.9L744.1 546.2L745.2 546.5L746.2 546.6L747.2 546.7L748.2 546.7L749.2 546.7L750.2 546.3L751.2 545.9L752.2 546.1L753.2 546.3L754.2 546.3L755.2 546.4L756.2 546.1L757.2 545.9L758.2 546.0L759.2 546.0L760.2 546.5L761.2 547.0L762.2 546.6L763.2 546.1L764.2 546.2L765.2 546.4L766.2 546.1L767.2 545.7L768.2 545.8L769.2 545.9L770.2 545.5L771.2 545.1L772.2 545.4L773.2 545.8L774.3 546.0L775.3 546.3L776.3 546.5L777.3 546.6L778.3 546.4L779.3 546.2L780.3 546.0L781.3 545.9L782.3 545.7L783.3 545.5L784.3 545.3L785.2 545.1L786.3 545.1L787.3 545.1L788.3 545.2L789.3 545.3L790.3 544.9L791.2 544.5L792.3 544.8L793.3 545.1L794.3 544.6L795.2 544.1L796.2 543.8L797.2 543.5L798.2 543.6L799.2 543.7L800.2 543.4L801.2 543.2L802.2 543.1L803.2 543.1L804.2 543.5L805.3 544.0L806.3 543.6L807.2 543.1L808.2 543.1L809.2 543.1L810.3 543.2L811.3 543.3L812.3 543.2L813.3 543.1L814.2 542.6L815.2 542.1L816.2 542.4L817.3 542.7L818.3 542.4L819.2 542.1L820.2 541.9L821.2 541.7L822.2 541.7L823.2 541.7L824.2 541.2L825.2 540.7L826.2 540.8L827.2 540.9L828.2 540.9L829.2 541.0L830.2 541.1L831.2 541.1L832.2 540.8L833.2 540.5L834.2 540.5L835.2 540.5L836.2 540.6L837.2 540.8L838.3 540.8L839.3 540.8L840.3 540.6L841.2 540.4L842.2 540.4L843.3 540.5L844.2 540.0L845.2 539.6L846.2 539.5L847.2 539.4L848.2 539.5L849.2 539.6L850.2 539.4L851.2 539.1L852.2 539.0L853.2 538.9L854.2 539.3L855.3 539.7L856.2 539.2L857.2 538.7L858.2 538.5L859.2 538.3L860.2 538.5L861.2 538.8L862.3 539.0L863.3 539.2L864.3 538.8L865.2 538.3L866.2 538.5L867.3 538.7L868.2 538.3L869.2 537.8L870.2 537.8L871.2 537.7L872.2 537.6L873.2 537.5L874.2 537.5L875.2 537.6L876.3 538.0L877.3 538.4L878.3 537.6L879.2 536.9L880.3 537.5L881.3 538.1L882.3 537.4L883.2 536.8L884.2 536.9L885.3 537.0L886.3 537.2L887.3 537.4L888.3 537.3L889.3 537.2L890.3 537.0L891.3 536.9L892.3 536.4L893.2 535.9L894.3 536.4L895.3 536.8L896.3 536.4L897.3 536.0L898.3 536.8L899.3 537.5L900.3 536.9L901.3 536.2L902.3 536.2L903.3 536.3L904.3 535.9L905.3 535.6L906.3 535.7L907.3 535.8L908.3 535.6L909.3 535.4L910.3 535.8L911.3 536.3L912.3 536.0L913.3 535.6L914.3 535.8L915.3 535.9L916.3 535.6L917.3 535.3L918.3 535.3L919.3 535.3L920.3 535.6L921.4 536.0L922.3 535.4L923.3 534.8L924.3 534.6L925.3 534.4L926.3 534.8L927.4 535.3L928.4 534.9L929.3 534.5L930.3 534.6L931.4 534.7L932.4 535.0L933.4 535.2L934.4 534.8L935.4 534.4L936.4 534.7L937.4 535.1L938.4 534.7L939.4 534.3L940.4 534.8L941.4 535.3L942.4 535.2L943.4 535.2L944.4 534.8L945.4 534.4L946.4 534.5L947.4 534.5L948.4 534.4L949.4 534.3L950.4 534.5L951.4 534.8L952.4 535.0L953.4 535.3L954.5 534.7L955.5 534.2L956.5 534.8L957.5 535.3L958.5 534.9L959.5 534.4L960.5 534.6L961.5 534.7L962.5 534.6L963.6 534.4L964.5 535.4L965.4 536.3L966.5 535.9L967.5 535.5L968.5 535.6L969.5 535.7L970.5 535.6L971.5 535.5L972.4 535.9L973.4 536.4L974.4 535.8L975.5 535.3L976.4 535.9L977.4 536.5L978.2 537.1L979.1 537.8L980.2 537.4L981.3 537.1L982.3 537.4L983.2 537.7L984.2 538.1L985.1 538.4L986.1 538.4L987.2 538.3L988.1 538.8L989.0 539.2L989.9 539.7L990.8 540.2L991.9 540.4L992.9 540.5L993.8 540.9L994.8 541.3L995.8 541.4L996.8 541.6L997.7 542.1L998.6 542.6L999.6 542.9L1000.6 543.2L1001.4 543.9L1002.3 544.6L1003.3 544.8L1004.3 545.0" fill="none" stroke="#ff0000" stroke-width="3.60" stroke-linejoin="miter" stroke-miterlimit="2" stroke-linecap="butt"/>
</g>
<g clip-path="url(#clipe)">
<path d="M341.9 942.6L342.6 943.8L343.6 944.0L344.7 943.8L345.7 943.8L346.6 944.3L347.4 945.1L348.6 944.8L349.5 945.3L350.4 945.7L351.3 946.3L352.3 946.2L353.3 946.5L354.3 946.6L355.1 947.5L356.1 947.7L357.1 947.6L358.2 947.5L359.1 948.0L360.0 948.7L361.1 948.6L361.9 949.3L363.0 949.4L364.0 949.7L365.0 950.1L366.0 950.3L367.1 950.2L368.1 950.6L368.8 951.7L370.1 951.0L371.1 951.5L371.9 952.2L372.9 952.2L374.0 952.3L374.9 952.5L375.6 953.4L376.4 953.9L377.2 954.4L378.2 954.5L378.8 955.2L379.9 955.1L380.4 956.0L381.3 956.3L381.8 957.2L382.4 957.9L383.0 958.7L384.1 959.0L384.2 960.2L385.3 960.7L386.0 961.4L386.4 962.4L387.3 963.0L387.6 964.1L388.1 965.0L388.8 965.8L389.2 966.8L390.0 967.5L390.6 968.5L391.5 969.1L391.8 970.2L392.6 970.9L393.1 971.8L393.7 972.7L394.3 973.5L395.3 973.9L396.0 974.7L396.4 975.6L397.0 976.5L397.7 977.2L398.4 978.0L399.0 978.8L399.9 979.3L400.8 979.8L401.7 980.3L402.5 981.0L403.1 981.8L403.6 982.7L404.3 983.4L404.9 984.2L405.6 984.9L405.9 985.8L406.6 986.6L407.1 987.4L407.6 988.3L408.4 989.0L409.0 989.8L409.1 990.9L409.6 991.8L410.2 992.6L410.7 993.5L410.4 994.8L411.7 995.3L412.0 996.3L412.3 997.2L413.2 998.0L413.3 999.1L413.3 1000.2L414.0 1001.0L414.5 1001.8L415.0 1002.7L415.7 1003.5L416.0 1004.5L416.8 1005.2L417.4 1005.9L417.8 1006.8L418.2 1007.8L418.9 1008.4L419.5 1009.3L420.7 1009.5L420.7 1010.8L421.2 1011.8L422.1 1012.3L423.1 1012.6L424.0 1013.2L424.5 1014.2L425.5 1014.6L425.9 1015.6L426.9 1016.0L427.3 1017.1L428.0 1017.8L429.4 1017.8L429.7 1019.0L430.6 1019.5L431.5 1020.1L432.0 1021.0L432.6 1021.8L432.9 1022.9L434.2 1023.4L434.2 1024.8L434.6 1025.9L435.6 1026.7L436.2 1027.7L437.0 1028.6L437.9 1029.3L438.1 1030.6L438.8 1031.5L439.3 1032.4L439.6 1033.5L440.7 1033.9L441.4 1034.4L442.0 1035.2L443.1 1034.9L443.8 1035.2L444.4 1035.6L445.2 1035.5L446.1 1035.8L446.9 1035.3L448.0 1035.7L448.9 1035.4L449.8 1034.8L450.7 1034.1L451.8 1033.9L452.8 1033.6L453.6 1032.6L454.8 1032.5L455.8 1032.1L456.6 1031.5L457.7 1031.4L458.5 1030.8L459.1 1029.8L460.1 1029.6L460.8 1028.8L461.8 1028.6L462.4 1027.7L463.5 1027.5L464.2 1026.8L465.1 1026.3L465.7 1025.4L466.2 1024.4L467.6 1024.5L468.0 1023.4L469.0 1023.0L469.6 1022.1L470.4 1021.5L471.4 1021.1L471.9 1020.0L472.8 1019.6L473.0 1018.3L474.2 1018.1L474.7 1017.2L475.5 1016.6L476.2 1015.9L477.0 1015.3L478.0 1014.9L478.0 1013.4L479.1 1013.2L479.7 1012.3L480.8 1012.0L481.2 1010.9L482.1 1010.4L482.6 1009.5L483.5 1009.0L484.3 1008.4L484.7 1007.3L485.5 1006.7L485.8 1005.7L486.9 1005.3L487.7 1004.7L488.1 1003.7L489.2 1003.3L489.2 1001.9L490.0 1001.3L490.8 1000.7L491.7 1000.1L492.5 999.5L493.2 998.8L493.9 998.1L494.8 997.6L495.2 996.6L495.8 995.7L496.5 995.1L497.9 995.1L497.7 993.4L498.9 993.2L499.9 992.8L500.5 991.9L500.9 990.9L501.8 990.4L502.7 989.9L503.5 989.3L503.7 988.1L504.8 987.7L505.4 986.9L506.3 986.4L507.0 985.7L507.4 984.7L507.8 983.7L508.9 983.4L509.9 982.9L510.4 982.0L510.9 981.1L512.1 980.8L512.0 979.4L513.1 979.1L513.4 978.0L514.2 977.4L514.9 976.6L515.9 976.2L516.0 974.9L516.7 974.2L517.1 973.3L518.2 972.9L518.7 971.9L519.5 971.3L519.8 970.3L520.6 969.7L521.6 969.1L521.9 968.1L522.8 967.5L523.4 966.7L523.8 965.8L524.2 964.8L525.4 964.5L525.9 963.6L526.7 963.0L526.7 961.6L527.4 960.9L528.0 960.1L528.9 959.6L530.0 959.2L530.6 958.4L531.1 957.5L531.8 956.8L532.6 956.2L533.1 955.2L533.9 954.7L534.6 953.9L534.7 952.7L535.8 952.3L536.9 951.9L537.2 950.8L537.9 950.2L538.5 949.4L539.3 948.7L540.3 948.3L540.7 947.3L541.2 946.4L541.5 945.2L542.8 945.1L543.2 944.1L543.9 943.4L545.2 943.3L545.9 942.5L546.1 941.3L547.4 941.2L548.0 940.4L548.5 939.4L549.5 939.0L549.7 937.8L550.5 937.2L551.2 936.5L552.0 935.8L553.1 935.5L553.3 934.4L554.1 933.7L554.8 933.0L555.7 932.5L556.3 931.7L557.2 931.2L557.6 930.1L558.1 929.3L558.9 928.7L559.7 928.0L560.1 927.1L561.0 926.5L562.0 926.1L562.1 924.8L562.9 924.2L563.9 923.7L564.0 922.5L564.6 921.7L565.2 920.9L566.2 920.4L566.8 919.6L567.3 918.7L568.0 917.9L568.9 917.4L569.4 916.5L569.5 915.3L570.5 914.8L571.2 914.1L571.9 913.4L572.4 912.5L572.9 911.6L573.6 910.9L573.9 909.8L575.0 909.4L575.5 908.5L576.4 908.0L576.7 906.9L577.4 906.3L578.0 905.4L578.6 904.6L579.6 904.2L580.0 903.2L580.9 902.6L581.1 901.5L582.1 901.0L582.3 899.8L583.2 899.3L583.8 898.5L584.7 898.0L585.3 897.1L585.8 896.3L586.7 895.7L587.2 894.8L587.9 894.1L588.6 893.4L589.1 892.5L589.7 891.6L590.4 891.0L590.9 890.1L591.7 889.4L592.5 888.8L593.1 887.9L593.4 886.9L593.8 885.9L594.7 885.3L595.3 884.5L596.2 884.0L596.5 882.9L597.1 882.1L598.0 881.5L598.3 880.5L599.0 879.8L600.1 879.3L600.7 878.5L601.1 877.6L601.7 876.8L602.1 875.8L603.1 875.3L603.7 874.5L604.4 873.8L604.9 873.0L605.7 872.4L606.4 871.7L607.3 871.1L608.2 870.7L608.8 869.8L609.1 868.7L610.1 868.2L610.7 867.4L611.7 866.9L612.7 866.6L613.5 866.0L614.2 865.1L615.1 864.8L615.8 864.0L616.6 863.3L617.4 862.8L618.4 862.4L619.6 862.6L620.1 861.4L621.3 861.6L622.2 861.1L622.9 860.3L623.9 859.8L624.8 859.2L625.8 859.0L626.8 858.8L627.7 858.2L628.8 858.2L629.7 858.0L630.6 857.6L631.6 857.5L632.5 857.4L633.5 857.5L634.6 857.2L635.6 857.8L636.7 857.9L637.9 857.8L638.8 858.9L640.1 858.2L641.1 858.6L642.0 859.2L643.2 858.9L644.0 859.6L644.8 859.8L645.5 860.3L645.9 861.0L646.3 861.7L646.6 862.6L647.0 863.5L647.3 864.7L647.8 865.8L648.4 867.0L648.3 868.4L649.1 869.6L649.4 870.8L649.2 872.1L649.7 873.1L650.3 874.0L650.6 874.8L651.1 875.4L651.9 875.1L652.4 875.4L653.2 874.9L654.3 875.0L655.3 874.5L656.6 874.7L657.6 874.2L658.5 873.6L659.3 874.0L660.2 874.0L660.7 874.8L661.3 875.6L662.1 876.4L663.2 877.0L663.5 878.3L663.8 879.5L664.4 880.5L664.7 881.6L665.8 882.1L665.7 883.2L666.4 884.0L666.5 885.0L666.8 886.0L667.0 887.0L667.7 887.8L667.7 888.9L668.4 889.8L668.7 890.8L668.4 891.9L668.8 892.9L669.5 893.8L669.6 894.9L669.6 895.9L669.5 897.0L669.9 897.9L670.3 898.8L671.4 899.5L671.3 900.5L671.5 901.5L672.0 902.3L672.5 903.1L673.2 903.8L673.3 904.9L674.0 905.6L675.0 906.1L675.8 906.6L675.9 908.0L677.2 908.1L677.6 909.2L678.2 910.1L679.6 910.1L680.1 911.1L681.0 911.6L681.7 912.5L682.5 913.1L683.0 914.1L684.0 914.4L684.9 914.9L685.5 915.8L686.5 916.1L687.3 916.7L687.7 917.9L689.0 917.7L689.8 918.4L690.6 919.1L691.6 919.3L692.6 919.6L692.9 920.9L694.1 921.0L694.9 921.6L695.7 922.2L696.7 922.5L697.6 923.0L698.2 923.9L698.7 925.0L699.8 925.1L700.7 925.6L701.9 925.6L702.5 926.6L703.5 926.8L704.0 927.9L705.0 928.2L705.7 928.9L706.5 929.5L707.4 930.1L708.4 930.5L708.7 931.7L709.8 931.9L710.6 932.7L711.1 933.6L711.9 934.2L712.5 935.2L713.1 936.1L713.9 936.6L714.7 937.3L715.5 938.0L716.0 938.9L717.3 938.9L717.7 940.1L718.7 940.5L719.5 941.0L720.0 941.9L720.9 942.4L721.5 943.2L722.3 943.8L723.6 943.4L724.1 944.5L724.7 945.4L725.8 945.6L726.6 946.2L727.7 946.2L728.9 946.2L729.8 946.7L730.6 947.6L731.6 947.9L732.6 947.7L733.6 947.9L734.5 948.2L735.4 947.5L736.3 947.8L737.4 948.0L738.5 947.8L739.1 946.7L740.3 946.6L740.8 945.4L741.6 944.6" fill="none" stroke="#000000" stroke-width="2.80" stroke-linejoin="miter" stroke-miterlimit="2" stroke-linecap="butt" stroke-dasharray="6 3.2"/>
<path d="M341.7 946.6L342.7 946.7L343.7 946.9L344.7 947.0L345.7 947.1L346.7 947.2L347.7 947.3L348.7 947.5L349.7 947.6L350.7 947.7L351.7 947.8L352.7 947.9L353.7 948.0L354.7 948.1L355.7 948.3L356.7 948.4L357.7 948.5L358.7 948.6L359.7 948.7L360.7 948.8L361.7 948.9L362.7 949.0L363.7 949.1L364.7 949.2L365.7 949.3L366.7 949.3L367.7 949.4L368.7 949.5L369.7 949.6L370.7 949.7L371.7 949.8L372.7 949.9L373.7 949.9L374.7 950.0L375.7 950.1L376.7 950.1L377.7 950.2L378.7 950.3L379.7 950.3L380.7 950.4L381.7 950.5L382.7 950.5L383.7 950.6L384.7 950.6L385.7 950.7L386.7 950.7L387.7 950.8L388.7 950.8L389.7 950.8L390.7 950.9L391.7 950.9L392.7 950.9L393.7 950.9L394.7 951.0L395.7 951.0L396.7 951.0L397.7 951.1L398.7 951.1L399.7 951.1L400.8 951.1L401.8 951.2L402.8 951.2L403.8 951.2L404.8 951.2L405.8 951.3L406.8 951.3L407.8 951.3L408.8 951.3L409.8 951.3L410.8 951.4L411.8 951.4L412.8 951.4L413.8 951.4L414.8 951.4L415.8 951.4L416.8 951.5L417.8 951.5L418.8 951.5L419.8 951.5L420.8 951.5L421.8 951.5L422.8 951.5L423.9 951.5L424.9 951.5L425.9 951.5L426.9 951.5L427.9 951.5L428.9 951.5L429.9 951.5L430.9 951.4L431.9 951.4L432.9 951.4L433.9 951.4L434.9 951.4L435.9 951.3L436.9 951.3L437.9 951.3L438.9 951.2L439.9 951.2L440.9 951.1L441.9 951.1L442.9 951.0L443.9 951.0L444.9 951.0L445.9 950.9L446.9 950.8L447.9 950.8L448.9 950.7L449.9 950.7L450.9 950.6L451.9 950.6L452.9 950.5L453.9 950.4L454.9 950.4L455.9 950.3L456.9 950.3L458.0 950.2L459.0 950.1L460.0 950.1L461.0 950.0L462.0 949.9L463.0 949.9L464.0 949.8L465.0 949.7L466.0 949.7L467.0 949.6L468.0 949.5L469.0 949.5L470.0 949.4L471.0 949.3L472.0 949.3L473.0 949.2L474.0 949.1L475.0 949.1L476.0 949.0L477.0 948.9L478.0 948.9L479.0 948.8L480.0 948.8L481.0 948.7L482.0 948.6L483.0 948.6L484.0 948.5L485.0 948.5L486.0 948.4L487.0 948.4L488.0 948.3L489.0 948.3L490.0 948.2L491.0 948.2L492.0 948.2L493.1 948.1L494.1 948.1L495.1 948.0L496.1 948.0L497.1 948.0L498.1 947.9L499.1 947.9L500.1 947.9L501.1 947.8L502.1 947.8L503.1 947.7L504.1 947.7L505.1 947.7L506.1 947.6L507.1 947.6L508.1 947.6L509.1 947.5L510.1 947.5L511.1 947.5L512.1 947.4L513.1 947.4L514.1 947.4L515.1 947.3L516.1 947.3L517.1 947.3L518.1 947.2L519.1 947.2L520.1 947.2L521.1 947.1L522.2 947.1L523.2 947.1L524.2 947.0L525.2 947.0L526.2 947.0L527.2 946.9L528.2 946.9L529.2 946.9L530.2 946.8L531.2 946.8L532.2 946.8L533.2 946.7L534.2 946.7L535.2 946.7L536.2 946.6L537.2 946.6L538.2 946.6L539.2 946.5L540.2 946.5L541.2 946.5L542.2 946.4L543.2 946.4L544.2 946.4L545.2 946.3L546.2 946.3L547.2 946.2L548.2 946.2L549.2 946.2L550.3 946.1L551.3 946.1L552.3 946.1L553.3 946.0L554.3 946.0L555.3 946.0L556.3 945.9L557.3 945.9L558.3 945.9L559.3 945.8L560.3 945.8L561.3 945.7L562.3 945.7L563.3 945.7L564.3 945.6L565.3 945.6L566.3 945.6L567.3 945.5L568.3 945.5L569.3 945.5L570.3 945.4L571.3 945.4L572.3 945.4L573.3 945.3L574.3 945.3L575.3 945.2L576.3 945.2L577.3 945.2L578.4 945.1L579.4 945.1L580.4 945.1L581.4 945.0L582.4 945.0L583.4 945.0L584.4 944.9L585.4 944.9L586.4 944.8L587.4 944.8L588.4 944.8L589.4 944.7L590.4 944.7L591.4 944.7L592.4 944.6L593.4 944.6L594.4 944.5L595.4 944.5L596.4 944.5L597.4 944.4L598.4 944.4L599.4 944.4L600.4 944.3L601.4 944.3L602.4 944.2L603.4 944.2L604.4 944.2L605.4 944.1L606.4 944.1L607.4 944.0L608.5 944.0L609.5 944.0L610.5 943.9L611.5 943.9L612.5 943.8L613.5 943.8L614.5 943.7L615.5 943.7L616.5 943.6L617.5 943.6L618.5 943.5L619.5 943.5L620.5 943.4L621.5 943.4L622.5 943.3L623.5 943.2L624.5 943.2L625.5 943.1L626.5 943.1L627.5 943.0L628.5 943.0L629.5 942.9L630.5 942.8L631.5 942.8L632.5 942.7L633.5 942.7L634.5 942.6L635.5 942.6L636.5 942.5L637.6 942.4L638.6 942.4L639.6 942.3L640.6 942.3L641.6 942.2L642.6 942.1L643.6 942.1L644.6 942.0L645.6 942.0L646.6 941.9L647.6 941.9L648.6 941.8L649.6 941.8L650.6 941.7L651.6 941.7L652.6 941.6L653.6 941.6L654.6 941.5L655.6 941.5L656.6 941.4L657.6 941.4L658.6 941.3L659.6 941.3L660.6 941.3L661.6 941.2L662.6 941.2L663.6 941.1L664.6 941.1L665.6 941.1L666.6 941.0L667.6 941.0L668.7 941.0L669.7 941.0L670.7 940.9L671.7 940.9L672.7 940.9L673.7 940.9L674.7 940.9L675.7 940.8L676.7 940.8L677.7 940.8L678.7 940.8L679.7 940.8L680.7 940.8L681.7 940.8L682.7 940.8L683.7 940.8L684.7 940.8L685.7 940.8L686.7 940.8L687.7 940.8L688.7 940.9L689.7 940.9L690.7 940.9L691.7 940.9L692.7 941.0L693.7 941.0L694.7 941.0L695.7 941.1L696.7 941.1L697.7 941.1L698.7 941.2L699.7 941.2L700.7 941.3L701.7 941.3L702.7 941.4L703.7 941.4L704.7 941.5L705.7 941.5L706.7 941.6L707.7 941.7L708.7 941.7L709.7 941.8L710.7 941.9L711.8 941.9L712.8 942.0L713.8 942.1L714.8 942.2L715.8 942.2L716.8 942.3L717.8 942.4L718.8 942.5L719.8 942.6L720.8 942.6L721.8 942.7L722.8 942.8L723.8 942.9L724.8 943.0L725.8 943.1L726.8 943.2L727.8 943.3L728.8 943.4L729.8 943.5L730.8 943.6L731.8 943.7L732.8 943.8L733.8 943.9L734.8 944.0L735.8 944.1L736.8 944.2L737.8 944.3L738.8 944.5L739.8 944.6L740.8 944.7L741.8 944.8" fill="none" stroke="#ff0000" stroke-width="2.80" stroke-linejoin="miter" stroke-miterlimit="2" stroke-linecap="butt" stroke-dasharray="6 3.2"/>
<path d="M396.0 1119.2L396.3 1120.2L396.5 1121.2L396.8 1120.5L397.0 1118.1L397.3 1115.7L397.6 1114.6L397.8 1113.5L398.1 1111.8L398.4 1109.4L398.6 1107.0L398.9 1108.4L399.2 1109.8L399.5 1109.4L399.7 1107.1L400.0 1104.8L400.3 1103.9L400.6 1103.1L400.8 1101.5L401.1 1099.1L401.4 1096.6L401.7 1097.9L401.9 1099.2L402.2 1099.4L402.5 1098.5L402.8 1097.5L403.1 1095.4L403.3 1093.3L403.6 1092.0L403.9 1091.6L404.2 1091.1L404.4 1090.4L404.7 1089.6L405.0 1089.0L405.3 1088.4L405.6 1087.9L405.9 1086.3L406.2 1084.7L406.4 1084.0L406.7 1084.2L407.0 1084.4L407.3 1082.1L407.6 1079.7L407.9 1077.9L408.2 1076.7L408.5 1075.5L408.9 1074.6L409.2 1073.8L409.5 1072.1L409.8 1069.7L410.1 1067.2L410.5 1067.5L410.8 1067.8L411.1 1068.2L411.5 1068.5L411.8 1068.9L412.1 1067.4L412.5 1066.0L412.9 1064.4L413.3 1062.7L413.6 1061.0L414.0 1060.9L414.4 1060.8L414.8 1059.5L415.3 1056.9L415.7 1054.2L416.1 1054.6L416.5 1054.9L416.9 1054.9L417.3 1054.6L417.7 1054.2L418.1 1053.4L418.5 1052.7L418.9 1051.3L419.3 1049.3L419.7 1047.3L420.1 1047.6L420.5 1047.9L420.8 1047.9L421.2 1047.7L421.6 1047.4L422.0 1044.8L422.3 1042.2L422.7 1040.9L423.1 1040.8L423.4 1040.7L423.8 1038.1L424.2 1035.5L424.6 1033.6L424.9 1032.4L425.3 1031.2L425.7 1032.1L426.1 1033.0L426.4 1032.8L426.8 1031.5L427.2 1030.2L427.6 1029.4L428.0 1028.6L428.4 1027.4L428.8 1026.0L429.2 1024.5L429.7 1023.8L430.1 1023.1L430.5 1022.7L431.0 1022.6L431.4 1022.5L431.8 1022.2L432.3 1022.0L432.7 1020.7L433.2 1018.4L433.7 1016.1L434.1 1014.2L434.6 1012.3L435.0 1011.9L435.5 1013.2L436.0 1014.4L436.4 1013.0L436.9 1011.6L437.4 1010.5L437.8 1009.7L438.3 1008.8L438.8 1007.6L439.2 1006.3L439.7 1006.0L440.2 1006.7L440.7 1007.3L441.2 1004.8L441.6 1002.3L442.1 1000.8L442.7 1000.2L443.2 999.7L443.7 997.1L444.2 994.6L444.8 993.4L445.3 993.5L445.9 993.6L446.5 992.7L447.1 991.9L447.7 991.3L448.3 991.0L449.0 990.7L449.7 990.2L450.4 989.7L451.1 988.7L451.8 987.2L452.5 985.7L453.3 986.8L454.0 987.9L454.8 987.2L455.6 984.6L456.4 982.0L457.2 981.9L458.0 981.8L458.8 981.7L459.7 981.6L460.5 981.5L461.4 979.8L462.3 978.2L463.2 977.7L464.1 978.5L465.0 979.3L466.0 978.8L466.9 978.4L467.8 977.6L468.8 976.5L469.7 975.5L470.7 976.7L471.6 978.0L472.6 977.8L473.5 976.3L474.5 974.8L475.4 974.8L476.4 974.9L477.3 974.6L478.3 973.8L479.3 973.2L480.3 973.0L481.3 972.8L482.3 973.3L483.3 974.5L484.3 975.6L485.3 976.2L486.2 976.8L487.2 977.2L488.1 977.3L488.9 977.3L489.8 978.1L490.5 978.8L491.3 977.8L492.0 975.0L492.7 972.1L493.4 972.3L494.1 972.4L494.8 971.7L495.4 970.3L496.1 968.8L496.7 970.1L497.4 971.5L498.1 971.0L498.8 968.8L499.5 966.7L500.3 966.0L501.1 965.5L501.9 964.7L502.7 963.8L503.5 962.9L504.4 963.8L505.3 964.8L506.2 964.6L507.1 963.2L508.0 961.8L508.9 961.8L509.8 961.9L510.7 960.9L511.7 958.8L512.6 956.8L513.5 958.7L514.5 960.6L515.4 961.0L516.3 960.0L517.2 959.0L518.1 958.7L519.0 958.4L519.9 958.3L520.8 958.3L521.7 958.4L522.6 956.9L523.5 955.5L524.5 954.5L525.4 954.1L526.3 953.7L527.2 953.9L528.1 954.2L529.0 954.0L529.9 953.3L530.8 952.7L531.7 951.8L532.6 950.9L533.5 950.3L534.4 950.1L535.3 949.8L536.2 949.0L537.1 948.2L538.0 948.0L538.9 948.4L539.8 948.8L540.7 948.5L541.6 948.2L542.5 947.5L543.4 946.3L544.2 945.2L545.1 946.0L546.0 946.9L546.8 945.8L547.7 942.9L548.6 939.9L549.4 940.4L550.3 940.8L551.2 941.4L552.0 942.3L552.9 943.2L553.8 941.2L554.6 939.1L555.5 937.4L556.3 936.0L557.2 934.7L558.1 936.3L558.9 938.0L559.8 938.2L560.7 937.1L561.5 936.0L562.4 934.2L563.2 932.4L564.1 932.0L564.9 932.9L565.8 933.7L566.6 931.9L567.5 930.1L568.3 928.8L569.2 928.0L570.0 927.2L570.9 927.5L571.7 927.9L572.6 927.6L573.4 926.9L574.3 926.1L575.1 925.2L576.0 924.2L576.9 923.8L577.7 923.8L578.6 923.9L579.5 922.9L580.4 922.0L581.3 921.7L582.2 922.1L583.1 922.4L584.0 922.0L584.9 921.5L585.8 921.4L586.8 921.5L587.7 921.7L588.6 920.5L589.5 919.2L590.5 918.1L591.4 917.1L592.4 916.1L593.3 915.8L594.2 915.4L595.2 915.5L596.1 915.9L597.1 916.3L598.0 917.3L598.9 918.2L599.9 918.2L600.8 917.4L601.8 916.5L602.7 915.1L603.6 913.7L604.6 913.4L605.5 914.2L606.5 915.0L607.4 913.1L608.4 911.3L609.3 911.0L610.2 912.2L611.2 913.4L612.1 912.1L613.1 910.8L614.0 910.3L615.0 910.8L615.9 911.3L616.9 910.9L617.8 910.5L618.8 909.8L619.7 908.8L620.7 907.9L621.6 908.0L622.6 908.1L623.6 907.5L624.6 906.2L625.7 905.0L626.8 905.4L628.0 905.9L629.1 906.4L630.2 907.0L631.3 907.6L632.3 909.5L633.4 911.4L634.3 911.0L635.2 908.3L636.1 905.5L636.8 904.7L637.5 903.8L638.1 902.8L638.6 901.5L639.0 900.1L639.3 900.8L639.7 901.5L640.0 900.3L640.3 897.3L640.5 894.3L640.8 893.8L641.1 893.3L641.3 893.0L641.6 892.7L641.9 892.5L642.3 890.4L642.6 888.3L643.0 887.9L643.5 888.9L643.9 890.0L644.4 888.8L644.9 887.6L645.4 886.0L645.9 883.9L646.4 881.8L646.9 880.9L647.3 880.0L647.8 878.9L648.2 877.4L648.6 875.9L648.9 875.0L649.2 874.0L649.6 873.7L649.9 874.1L650.2 874.4L650.5 873.6L650.8 872.8L651.1 871.8L651.3 870.6L651.6 869.5L651.9 868.4L652.1 867.4L652.4 866.1L652.7 864.5L652.9 863.0L653.2 862.6L653.5 862.3L653.7 861.0L654.0 858.8L654.3 856.5L654.6 856.6L654.9 856.7L655.2 856.8L655.5 856.9L655.9 857.0L656.2 856.0L656.5 854.9L656.9 853.3L657.2 851.0L657.6 848.8L657.9 848.0L658.3 847.1L658.6 846.8L658.9 847.1L659.3 847.4L659.6 846.7L659.9 846.1L660.2 844.1L660.4 840.8L660.7 837.4L660.9 837.2L661.2 837.0L661.4 836.7L661.6 836.2L661.7 835.6L661.9 835.4L662.1 835.1L662.2 833.7L662.4 831.2L662.5 828.7L662.6 828.7L662.8 828.8L662.9 828.0L663.1 826.3L663.2 824.6L663.4 825.6L663.5 826.5L663.7 825.8L663.9 823.4L664.1 821.0L664.3 819.7L664.6 818.3L664.8 817.1L665.1 816.1L665.4 815.0L665.8 815.1L666.2 815.2L666.7 814.7L667.2 813.5L667.8 812.4L668.3 810.2L668.9 808.1L669.5 807.1L670.1 807.2L670.7 807.4L671.3 805.5L672.0 803.6L672.7 802.6L673.5 802.3L674.3 802.1L675.0 801.0L675.8 799.9L676.5 799.0L677.1 798.3L677.7 797.5L678.3 797.1L678.8 796.7L679.3 796.0L679.8 794.9L680.3 793.8L680.8 794.0L681.3 794.2L681.7 793.9L682.2 793.2L682.6 792.5L683.0 790.8L683.4 789.2L683.7 787.5L684.1 786.0L684.5 784.4L684.8 784.9L685.2 785.3L685.5 784.1L685.8 781.1L686.1 778.1L686.4 777.2L686.7 776.3L687.0 776.3L687.3 777.3L687.5 778.2L687.8 777.2L688.0 776.1" fill="none" stroke="#000000" stroke-width="5.00" stroke-linejoin="miter" stroke-miterlimit="2" stroke-linecap="butt"/>
<path d="M341.5 1038.4L341.5 1036.8L341.5 1035.1L341.5 1034.0L341.6 1033.4L341.6 1032.8L341.6 1032.4L341.7 1032.0L341.8 1030.9L341.8 1029.1L341.9 1027.4L342.0 1026.4L342.1 1025.5L342.2 1024.3L342.3 1023.0L342.4 1021.6L342.5 1020.8L342.6 1020.0L342.7 1019.7L342.9 1019.8L343.2 1020.0L343.5 1018.8L343.9 1017.6L344.4 1016.1L344.9 1014.2L345.5 1012.4L346.0 1011.6L346.6 1010.9L347.2 1010.4L347.8 1010.0L348.6 1009.7L349.4 1009.7L350.3 1009.8L351.2 1009.1L352.1 1007.6L353.0 1006.1L353.9 1006.2L354.7 1006.2L355.6 1005.5L356.5 1003.9L357.3 1002.3L358.2 1002.3L359.1 1002.4L360.0 1002.6L360.9 1003.1L361.8 1003.6L362.8 1003.5L363.7 1003.3L364.6 1002.5L365.5 1000.9L366.4 999.3L367.3 999.1L368.2 998.9L369.2 999.1L370.1 999.6L371.0 1000.1L371.9 999.0L372.9 998.0L373.8 997.2L374.7 996.7L375.7 996.3L376.6 996.5L377.5 996.8L378.5 996.6L379.4 996.1L380.4 995.6L381.3 995.7L382.2 995.9L383.2 995.7L384.1 995.2L385.1 994.7L386.0 993.6L387.0 992.5L387.9 991.9L388.9 991.9L389.8 991.8L390.8 991.5L391.7 991.3L392.7 990.6L393.6 989.6L394.6 988.5L395.6 988.5L396.5 988.4L397.5 988.7L398.4 989.5L399.4 990.3L400.3 988.6L401.3 986.8L402.3 986.5L403.2 987.7L404.2 988.8L405.1 988.1L406.1 987.4L407.0 986.8L408.0 986.2L408.9 985.7L409.9 985.7L410.8 985.8L411.8 985.7L412.8 985.3L413.7 985.0L414.7 985.1L415.6 985.2L416.6 984.7L417.5 983.5L418.5 982.2L419.5 982.0L420.4 981.8L421.4 981.6L422.3 981.3L423.3 980.9L424.2 981.8L425.2 982.7L426.1 982.8L427.1 981.9L428.1 981.1L429.0 979.7L430.0 978.4L430.9 977.7L431.9 977.7L432.8 977.8L433.8 977.3L434.7 976.7L435.7 976.5L436.7 976.6L437.6 976.7L438.6 976.5L439.5 976.3L440.5 976.6L441.4 977.5L442.4 978.3L443.3 975.7L444.3 973.1L445.2 972.4L446.2 973.7L447.1 975.0L448.1 974.3L449.0 973.7L450.0 972.9L450.9 971.9L451.9 971.0L452.8 971.0L453.8 970.9L454.7 970.7L455.7 970.2L456.6 969.7L457.6 969.7L458.6 969.6L459.5 969.7L460.5 970.0L461.4 970.2L462.4 968.4L463.3 966.7L464.3 966.4L465.2 967.7L466.2 969.0L467.1 967.7L468.1 966.4L469.0 966.2L470.0 966.9L470.9 967.6L471.9 966.7L472.8 965.8L473.8 965.4L474.7 965.5L475.7 965.7L476.6 965.0L477.6 964.3L478.5 964.0L479.5 963.9L480.4 963.9L481.4 963.1L482.4 962.2L483.3 961.4L484.3 960.6L485.2 959.8L486.2 960.4L487.2 960.9L488.1 961.1L489.1 960.8L490.1 960.6L491.0 961.1L492.0 961.6L493.0 960.6L493.9 958.0L494.9 955.5L495.9 956.2L496.8 957.0L497.8 957.6L498.8 958.0L499.7 958.5L500.7 956.9L501.7 955.4L502.7 954.7L503.6 955.1L504.6 955.4L505.6 956.4L506.5 957.5L507.5 957.7L508.5 957.1L509.5 956.4L510.4 954.9L511.4 953.3L512.4 953.0L513.3 954.1L514.3 955.1L515.3 954.7L516.3 954.3L517.2 953.9L518.2 953.4L519.2 953.0L520.2 952.5L521.1 952.0L522.1 951.6L523.1 951.3L524.1 951.0L525.0 950.1L526.0 949.3L527.0 948.8L528.0 948.8L528.9 948.7L529.9 949.2L530.9 949.6L531.8 949.5L532.8 948.9L533.8 948.3L534.7 949.0L535.7 949.7L536.7 949.3L537.6 947.8L538.6 946.3L539.5 944.8L540.5 943.3L541.4 943.0L542.4 943.9L543.3 944.7L544.2 944.7L545.2 944.6L546.1 944.5L547.0 944.1L547.9 943.8L548.9 943.2L549.8 942.7L550.7 941.9L551.6 941.0L552.5 940.1L553.5 941.0L554.4 941.9L555.3 941.5L556.2 939.9L557.1 938.3L558.1 938.6L559.0 939.0L559.9 938.7L560.8 937.8L561.8 936.8L562.7 935.9L563.6 935.0L564.5 935.1L565.5 936.2L566.4 937.3L567.3 934.7L568.3 932.1L569.2 931.1L570.1 931.6L571.0 932.2L572.0 932.5L572.9 932.9L573.8 932.6L574.8 931.8L575.7 931.0L576.6 931.3L577.6 931.5L578.5 931.3L579.5 930.4L580.4 929.6L581.3 929.1L582.3 928.6L583.2 928.9L584.2 930.1L585.1 931.2L586.1 929.6L587.1 927.9L588.0 927.0L589.0 926.7L589.9 926.5L590.9 925.7L591.9 924.8L592.8 924.4L593.8 924.3L594.7 924.2L595.7 924.7L596.7 925.2L597.6 925.3L598.6 925.0L599.6 924.7L600.5 924.1L601.5 923.5L602.5 922.9L603.5 922.3L604.4 921.6L605.4 922.1L606.4 922.6L607.3 922.1L608.3 920.5L609.3 918.9L610.2 919.4L611.2 920.0L612.2 920.1L613.2 919.9L614.1 919.7L615.1 919.2L616.1 918.6L617.1 918.5L618.1 918.8L619.0 919.2L620.0 918.5L621.0 917.8L622.0 917.3L622.9 917.0L623.9 916.7L624.9 918.0L625.9 919.2L626.9 919.5L627.9 918.7L628.8 917.9L629.8 918.0L630.8 918.0L631.8 917.7L632.8 916.8L633.8 916.0L634.8 916.3L635.7 916.6L636.7 916.7L637.7 916.4L638.7 916.1L639.7 916.1L640.7 916.1L641.6 916.4L642.6 916.8L643.6 917.2L644.6 915.6L645.6 913.9L646.5 913.1L647.5 913.1L648.5 913.2L649.5 912.8L650.5 912.4L651.4 911.1L652.4 908.9L653.4 906.7L654.4 907.7L655.3 908.6L656.3 909.4L657.3 909.9L658.3 910.5L659.2 910.5L660.2 910.6L661.1 910.2L662.1 909.2L663.1 908.2L664.0 908.9L665.0 909.5L665.9 909.7L666.8 909.5L667.8 909.2L668.7 907.9L669.6 906.6L670.6 906.2L671.5 906.9L672.4 907.5L673.4 907.3L674.3 907.1L675.2 906.4L676.1 905.3L677.1 904.2L678.0 903.0L678.9 901.8L679.8 901.7L680.8 902.7L681.7 903.6L682.6 902.4L683.6 901.1L684.5 900.2L685.4 899.7L686.4 899.2L687.3 899.1L688.2 899.0L689.2 898.6L690.1 897.9L691.0 897.2L692.0 897.7L692.9 898.2L693.8 898.3L694.8 897.7L695.7 897.2L696.7 897.1L697.6 896.9L698.5 896.5L699.4 895.8L700.4 895.0L701.3 893.9L702.2 892.7L703.1 892.1L704.0 892.1L705.0 892.0L705.9 892.2L706.8 892.3L707.7 891.9L708.6 890.7L709.6 889.6L710.5 891.0L711.4 892.5L712.3 892.1L713.2 889.9L714.1 887.7L715.1 887.1L716.0 886.4L716.9 886.4L717.8 886.9L718.6 887.4L719.5 886.7L720.4 886.0L721.3 885.1L722.1 884.2L723.0 883.3L723.8 882.6L724.6 882.0L725.5 881.6L726.3 881.4L727.2 881.2L728.0 880.8L728.9 880.5L729.7 879.9L730.5 879.3L731.3 878.6L732.1 877.3L732.9 876.1L733.7 875.3L734.4 875.0L735.1 874.7L735.7 874.2L736.3 873.7L736.9 873.1L737.4 872.3L738.0 871.4L738.5 868.4L739.0 865.4L739.5 864.0L739.9 864.4L740.3 864.7L740.7 863.8L741.1 862.9L741.5 862.1L741.8 861.4" fill="none" stroke="#ff0000" stroke-width="4.80" stroke-linejoin="miter" stroke-miterlimit="2" stroke-linecap="butt"/>
<path d="M342 1037L342 1015" stroke="#ff0000" stroke-width="3"/>
</g>
<path d="M53.00 301.60v-5.00M53.00 8.20v5.00M114.09 301.60v-5.00M114.09 8.20v5.00M175.17 301.60v-5.00M175.17 8.20v5.00M236.26 301.60v-5.00M236.26 8.20v5.00M297.34 301.60v-5.00M297.34 8.20v5.00M358.43 301.60v-5.00M358.43 8.20v5.00M419.51 301.60v-5.00M419.51 8.20v5.00M480.60 301.60v-5.00M480.60 8.20v5.00M53.00 301.60h5.00M480.60 301.60h-5.00M53.00 228.25h5.00M480.60 228.25h-5.00M53.00 154.90h5.00M480.60 154.90h-5.00M53.00 81.55h5.00M480.60 81.55h-5.00M53.00 8.20h5.00M480.60 8.20h-5.00" stroke="#262626" stroke-width="1.1" fill="none"/>
<rect x="53.00" y="8.20" width="427.60" height="293.40" fill="none" stroke="#262626" stroke-width="1.3"/>
<text x="53.00" y="322.20" class="tk" text-anchor="middle">0</text>
<text x="114.09" y="322.20" class="tk" text-anchor="middle">200</text>
<text x="175.17" y="322.20" class="tk" text-anchor="middle">400</text>
<text x="236.26" y="322.20" class="tk" text-anchor="middle">600</text>
<text x="297.34" y="322.20" class="tk" text-anchor="middle">800</text>
<text x="358.43" y="322.20" class="tk" text-anchor="middle">1000</text>
<text x="419.51" y="322.20" class="tk" text-anchor="middle">1200</text>
<text x="480.60" y="322.20" class="tk" text-anchor="middle">1400</text>
<text x="48.70" y="307.70" class="tk" text-anchor="end">0</text>
<text x="48.70" y="234.35" class="tk" text-anchor="end">0.5</text>
<text x="48.70" y="161.00" class="tk" text-anchor="end">1</text>
<text x="48.70" y="87.65" class="tk" text-anchor="end">1.5</text>
<text x="48.70" y="14.30" class="tk" text-anchor="end">2</text>
<path d="M596.60 303.30v-5.00M596.60 8.20v5.00M654.74 303.30v-5.00M654.74 8.20v5.00M712.89 303.30v-5.00M712.89 8.20v5.00M771.03 303.30v-5.00M771.03 8.20v5.00M829.17 303.30v-5.00M829.17 8.20v5.00M887.31 303.30v-5.00M887.31 8.20v5.00M945.46 303.30v-5.00M945.46 8.20v5.00M1003.60 303.30v-5.00M1003.60 8.20v5.00M596.60 303.30h5.00M1003.60 303.30h-5.00M596.60 229.53h5.00M1003.60 229.53h-5.00M596.60 155.75h5.00M1003.60 155.75h-5.00M596.60 81.97h5.00M1003.60 81.97h-5.00M596.60 8.20h5.00M1003.60 8.20h-5.00" stroke="#262626" stroke-width="1.1" fill="none"/>
<rect x="596.60" y="8.20" width="407.00" height="295.10" fill="none" stroke="#262626" stroke-width="1.3"/>
<text x="596.60" y="323.90" class="tk" text-anchor="middle">0</text>
<text x="654.74" y="323.90" class="tk" text-anchor="middle">200</text>
<text x="712.89" y="323.90" class="tk" text-anchor="middle">400</text>
<text x="771.03" y="323.90" class="tk" text-anchor="middle">600</text>
<text x="829.17" y="323.90" class="tk" text-anchor="middle">800</text>
<text x="887.31" y="323.90" class="tk" text-anchor="middle">1000</text>
<text x="945.46" y="323.90" class="tk" text-anchor="middle">1200</text>
<text x="1003.60" y="323.90" class="tk" text-anchor="middle">1400</text>
<text x="592.30" y="309.40" class="tk" text-anchor="end">0.01</text>
<text x="592.30" y="235.63" class="tk" text-anchor="end">0.04</text>
<text x="592.30" y="161.85" class="tk" text-anchor="end">0.07</text>
<text x="592.30" y="88.07" class="tk" text-anchor="end">0.1</text>
<text x="592.30" y="14.30" class="tk" text-anchor="end">0.13</text>
<path d="M59.60 691.50v-5.00M59.60 393.30v5.00M119.50 691.50v-5.00M119.50 393.30v5.00M179.40 691.50v-5.00M179.40 393.30v5.00M239.30 691.50v-5.00M239.30 393.30v5.00M299.20 691.50v-5.00M299.20 393.30v5.00M359.10 691.50v-5.00M359.10 393.30v5.00M419.00 691.50v-5.00M419.00 393.30v5.00M478.90 691.50v-5.00M478.90 393.30v5.00M59.60 691.50h5.00M478.90 691.50h-5.00M59.60 592.10h5.00M478.90 592.10h-5.00M59.60 492.70h5.00M478.90 492.70h-5.00M59.60 393.30h5.00M478.90 393.30h-5.00" stroke="#262626" stroke-width="1.1" fill="none"/>
<rect x="59.60" y="393.30" width="419.30" height="298.20" fill="none" stroke="#262626" stroke-width="1.3"/>
<text x="59.60" y="712.10" class="tk" text-anchor="middle">0</text>
<text x="119.50" y="712.10" class="tk" text-anchor="middle">200</text>
<text x="179.40" y="712.10" class="tk" text-anchor="middle">400</text>
<text x="239.30" y="712.10" class="tk" text-anchor="middle">600</text>
<text x="299.20" y="712.10" class="tk" text-anchor="middle">800</text>
<text x="359.10" y="712.10" class="tk" text-anchor="middle">1000</text>
<text x="419.00" y="712.10" class="tk" text-anchor="middle">1200</text>
<text x="478.90" y="712.10" class="tk" text-anchor="middle">1400</text>
<text x="55.30" y="697.60" class="tk" text-anchor="end">0</text>
<text x="55.30" y="598.20" class="tk" text-anchor="end">0.2</text>
<text x="55.30" y="498.80" class="tk" text-anchor="end">0.4</text>
<text x="55.30" y="399.40" class="tk" text-anchor="end">0.6</text>
<path d="M581.50 695.20v-5.00M581.50 393.90v5.00M642.01 695.20v-5.00M642.01 393.90v5.00M702.53 695.20v-5.00M702.53 393.90v5.00M763.04 695.20v-5.00M763.04 393.90v5.00M823.56 695.20v-5.00M823.56 393.90v5.00M884.07 695.20v-5.00M884.07 393.90v5.00M944.59 695.20v-5.00M944.59 393.90v5.00M1005.10 695.20v-5.00M1005.10 393.90v5.00M581.50 695.20h5.00M1005.10 695.20h-5.00M581.50 619.88h5.00M1005.10 619.88h-5.00M581.50 544.55h5.00M1005.10 544.55h-5.00M581.50 469.23h5.00M1005.10 469.23h-5.00M581.50 393.90h5.00M1005.10 393.90h-5.00" stroke="#262626" stroke-width="1.1" fill="none"/>
<rect x="581.50" y="393.90" width="423.60" height="301.30" fill="none" stroke="#262626" stroke-width="1.3"/>
<text x="581.50" y="715.80" class="tk" text-anchor="middle">0</text>
<text x="642.01" y="715.80" class="tk" text-anchor="middle">200</text>
<text x="702.53" y="715.80" class="tk" text-anchor="middle">400</text>
<text x="763.04" y="715.80" class="tk" text-anchor="middle">600</text>
<text x="823.56" y="715.80" class="tk" text-anchor="middle">800</text>
<text x="884.07" y="715.80" class="tk" text-anchor="middle">1000</text>
<text x="944.59" y="715.80" class="tk" text-anchor="middle">1200</text>
<text x="1005.10" y="715.80" class="tk" text-anchor="middle">1400</text>
<text x="577.20" y="701.30" class="tk" text-anchor="end">-0.2</text>
<text x="577.20" y="625.98" class="tk" text-anchor="end">-0.1</text>
<text x="577.20" y="550.65" class="tk" text-anchor="end">0</text>
<text x="577.20" y="475.33" class="tk" text-anchor="end">0.1</text>
<text x="577.20" y="400.00" class="tk" text-anchor="end">0.2</text>
<path d="M341.70 1103.60v-5.00M341.70 788.60v5.00M398.93 1103.60v-5.00M398.93 788.60v5.00M456.16 1103.60v-5.00M456.16 788.60v5.00M513.39 1103.60v-5.00M513.39 788.60v5.00M570.61 1103.60v-5.00M570.61 788.60v5.00M627.84 1103.60v-5.00M627.84 788.60v5.00M685.07 1103.60v-5.00M685.07 788.60v5.00M742.30 1103.60v-5.00M742.30 788.60v5.00M341.70 1103.60h5.00M742.30 1103.60h-5.00M341.70 1024.85h5.00M742.30 1024.85h-5.00M341.70 946.10h5.00M742.30 946.10h-5.00M341.70 867.35h5.00M742.30 867.35h-5.00M341.70 788.60h5.00M742.30 788.60h-5.00" stroke="#262626" stroke-width="1.1" fill="none"/>
<rect x="341.70" y="788.60" width="400.60" height="315.00" fill="none" stroke="#262626" stroke-width="1.3"/>
<text x="341.70" y="1124.20" class="tk" text-anchor="middle">0</text>
<text x="398.93" y="1124.20" class="tk" text-anchor="middle">200</text>
<text x="456.16" y="1124.20" class="tk" text-anchor="middle">400</text>
<text x="513.39" y="1124.20" class="tk" text-anchor="middle">600</text>
<text x="570.61" y="1124.20" class="tk" text-anchor="middle">800</text>
<text x="627.84" y="1124.20" class="tk" text-anchor="middle">1000</text>
<text x="685.07" y="1124.20" class="tk" text-anchor="middle">1200</text>
<text x="742.30" y="1124.20" class="tk" text-anchor="middle">1400</text>
<text x="337.40" y="1109.70" class="tk" text-anchor="end">-0.05</text>
<text x="337.40" y="1030.95" class="tk" text-anchor="end">-0.025</text>
<text x="337.40" y="952.20" class="tk" text-anchor="end">0</text>
<text x="337.40" y="873.45" class="tk" text-anchor="end">0.025</text>
<text x="337.40" y="794.70" class="tk" text-anchor="end">0.05</text>
<text x="99.5" y="51.0" class="an" fill="#000"><tspan font-size="38">(</tspan>a<tspan font-size="38">)</tspan></text>
<text x="616.0" y="53.3" class="an" fill="#000"><tspan font-size="38">(</tspan>b<tspan font-size="38">)</tspan></text>
<text x="120.5" y="439.0" class="an" fill="#000"><tspan font-size="38">(</tspan>c<tspan font-size="38">)</tspan></text>
<text x="609.5" y="433.8" class="an" fill="#000"><tspan font-size="38">(</tspan>d<tspan font-size="38">)</tspan></text>
<text x="368.5" y="833.8" class="an" fill="#000"><tspan font-size="38">(</tspan>e<tspan font-size="38">)</tspan></text>
<text x="244.2" y="172.6" class="an" fill="#ff0000" textLength="66.0" lengthAdjust="spacingAndGlyphs">after</text>
<text x="229.6" y="219.0" class="an" fill="#000000" textLength="88.0" lengthAdjust="spacingAndGlyphs">before</text>
<text x="222.4" y="275.8" class="an" fill="#0000ff" textLength="91.0" lengthAdjust="spacingAndGlyphs">within</text>
<text x="763.8" y="99.3" class="an" fill="#000000" textLength="88.0" lengthAdjust="spacingAndGlyphs">before</text>
<text x="759.2" y="157.8" class="an" fill="#0000ff" textLength="90.0" lengthAdjust="spacingAndGlyphs">within</text>
<text x="768.3" y="253.8" class="an" fill="#ff0000" textLength="66.0" lengthAdjust="spacingAndGlyphs">after</text>
<text x="229.9" y="600.4" class="an" fill="#000000" textLength="87.5" lengthAdjust="spacingAndGlyphs">before</text>
<text x="224.0" y="671.2" class="an" fill="#0000ff" textLength="91.0" lengthAdjust="spacingAndGlyphs">within</text>
<text x="377.4" y="671.2" class="an" fill="#ff0000" textLength="65.3" lengthAdjust="spacingAndGlyphs">after</text>
<text x="772.8" y="445.7" class="an" fill="#000000" textLength="89.0" lengthAdjust="spacingAndGlyphs">before</text>
<text x="842.8" y="532.7" class="an" fill="#ff0000" textLength="66.5" lengthAdjust="spacingAndGlyphs">after</text>
<text x="864.3" y="639.5" class="an" fill="#0000ff" textLength="91.0" lengthAdjust="spacingAndGlyphs">within</text>
<text x="510.9" y="876.8" class="an" fill="#000000" textLength="90.0" lengthAdjust="spacingAndGlyphs">before</text>
<text x="622.5" y="977.1" class="an" fill="#ff0000" textLength="66.3" lengthAdjust="spacingAndGlyphs">after</text>
<g class="lab"><text x="231.55" y="348.20" font-size="28.0" font-style="italic" fill="#111">x</text><line x1="247.60" y1="355.20" x2="255.40" y2="328.70" stroke="#111" stroke-width="1.30"/><text x="262.40" y="348.20" font-size="28.0" font-style="italic" fill="#111">λ</text><text x="277.54" y="352.80" font-size="19.0" font-style="italic" fill="#111">D</text><text x="292.33" y="352.80" font-size="19.0" font-style="italic" fill="#111">e</text></g>
<g class="lab"><text x="764.85" y="349.90" font-size="28.0" font-style="italic" fill="#111">x</text><line x1="780.90" y1="356.90" x2="788.70" y2="330.40" stroke="#111" stroke-width="1.30"/><text x="795.70" y="349.90" font-size="28.0" font-style="italic" fill="#111">λ</text><text x="810.84" y="354.50" font-size="19.0" font-style="italic" fill="#111">D</text><text x="825.63" y="354.50" font-size="19.0" font-style="italic" fill="#111">e</text></g>
<g class="lab"><text x="234.00" y="738.10" font-size="28.0" font-style="italic" fill="#111">x</text><line x1="250.05" y1="745.10" x2="257.85" y2="718.60" stroke="#111" stroke-width="1.30"/><text x="264.85" y="738.10" font-size="28.0" font-style="italic" fill="#111">λ</text><text x="279.99" y="742.70" font-size="19.0" font-style="italic" fill="#111">D</text><text x="294.78" y="742.70" font-size="19.0" font-style="italic" fill="#111">e</text></g>
<g class="lab"><text x="758.05" y="741.80" font-size="28.0" font-style="italic" fill="#111">x</text><line x1="774.10" y1="748.80" x2="781.90" y2="722.30" stroke="#111" stroke-width="1.30"/><text x="788.90" y="741.80" font-size="28.0" font-style="italic" fill="#111">λ</text><text x="804.04" y="746.40" font-size="19.0" font-style="italic" fill="#111">D</text><text x="818.83" y="746.40" font-size="19.0" font-style="italic" fill="#111">e</text></g>
<g class="lab"><text x="510.35" y="1141.00" font-size="28.0" font-style="italic" fill="#111">x</text><line x1="526.40" y1="1148.00" x2="534.20" y2="1121.50" stroke="#111" stroke-width="1.30"/><text x="541.20" y="1141.00" font-size="28.0" font-style="italic" fill="#111">λ</text><text x="556.34" y="1145.60" font-size="19.0" font-style="italic" fill="#111">D</text><text x="571.13" y="1145.60" font-size="19.0" font-style="italic" fill="#111">e</text></g>
<g class="lab" transform="translate(24.00 0) rotate(-90)"><text x="-189.18" y="0.00" font-size="28.0" font-style="italic" fill="#111">n</text><text x="-171.27" y="4.00" font-size="19.0" font-style="italic" fill="#111">e</text><line x1="-160.30" y1="6.70" x2="-149.10" y2="-20.20" stroke="#111" stroke-width="1.30"/><text x="-147.98" y="0.00" font-size="28.0" font-style="italic" fill="#111">n</text><text x="-130.71" y="4.60" font-size="19.0" fill="#111">0</text></g>
<g class="lab" transform="translate(547.80 0) rotate(-90)"><text x="-195.32" y="0.00" font-size="28.0" font-style="italic" fill="#111">T</text><text x="-177.97" y="5.00" font-size="19.0" font-style="italic" fill="#111">e</text><line x1="-162.00" y1="-9.80" x2="-162.00" y2="9.00" stroke="#111" stroke-width="1.00"/><line x1="-165.60" y1="-9.80" x2="-165.60" y2="9.00" stroke="#111" stroke-width="1.00"/><line x1="-156.20" y1="6.20" x2="-145.70" y2="-20.80" stroke="#111" stroke-width="1.30"/><text x="-145.52" y="0.00" font-size="28.0" font-style="italic" fill="#111">T</text><text x="-127.51" y="4.30" font-size="19.0" fill="#111">0</text></g>
<g class="lab" transform="translate(22.50 0) rotate(-90)"><text x="-597.66" y="0.00" font-size="28.0" font-style="italic" fill="#111">P</text><line x1="-576.90" y1="6.70" x2="-564.40" y2="-19.90" stroke="#111" stroke-width="1.30"/><text x="-563.66" y="1.50" font-size="32.0" fill="#111">(</text><text x="-553.88" y="0.00" font-size="28.0" font-style="italic" fill="#111">n</text><text x="-537.91" y="3.50" font-size="19.0" fill="#111">0</text><text x="-528.62" y="0.00" font-size="28.0" font-style="italic" fill="#111">T</text><text x="-510.71" y="3.50" font-size="19.0" fill="#111">0</text><text x="-501.74" y="1.50" font-size="32.0" fill="#111">)</text></g>
<g class="lab" transform="translate(549.00 0) rotate(-90)"><text x="-577.27" y="0.00" font-size="28.0" font-style="italic" fill="#111">V</text><text x="-560.75" y="5.00" font-size="19.0" font-style="italic" fill="#111">i</text><line x1="-547.30" y1="-9.00" x2="-547.30" y2="9.80" stroke="#111" stroke-width="1.00"/><line x1="-551.00" y1="-9.00" x2="-551.00" y2="9.80" stroke="#111" stroke-width="1.00"/><line x1="-541.80" y1="6.70" x2="-530.90" y2="-20.70" stroke="#111" stroke-width="1.30"/><text x="-529.14" y="0.00" font-size="28.0" font-style="italic" fill="#111">c</text><text x="-516.84" y="4.50" font-size="19.0" font-style="italic" fill="#111">s</text></g>
<g class="lab" transform="translate(287.00 0) rotate(-90)"><text x="-1018.64" y="0.00" font-size="28.0" font-style="italic" fill="#111">Q</text><text x="-996.97" y="4.30" font-size="19.0" font-style="italic" fill="#111">e</text><line x1="-985.40" y1="6.70" x2="-974.40" y2="-20.30" stroke="#111" stroke-width="1.30"/><text x="-971.06" y="1.50" font-size="32.0" fill="#111">(</text><text x="-961.68" y="0.00" font-size="28.0" font-style="italic" fill="#111">n</text><text x="-944.51" y="4.30" font-size="19.0" fill="#111">0</text><text x="-934.62" y="0.00" font-size="28.0" font-style="italic" fill="#111">T</text><text x="-917.11" y="4.30" font-size="19.0" fill="#111">0</text><text x="-906.24" y="0.00" font-size="28.0" font-style="italic" fill="#111">c</text><text x="-893.94" y="4.30" font-size="19.0" font-style="italic" fill="#111">s</text><text x="-883.74" y="1.50" font-size="32.0" fill="#111">)</text></g>
</svg>
</body></html>
